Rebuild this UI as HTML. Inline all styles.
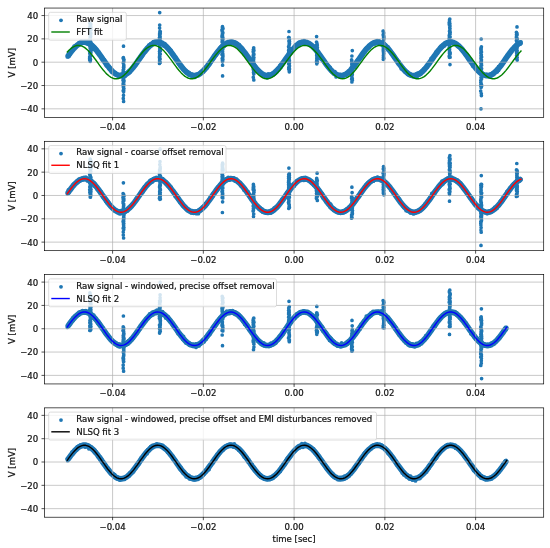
<!DOCTYPE html>
<html><head><meta charset="utf-8"><title>Signal fit</title>
<style>html,body{margin:0;padding:0;background:#fff}svg{display:block;filter:blur(0.3px)}text{stroke:#111;stroke-width:0.22px}</style></head>
<body>
<svg width="550" height="548" viewBox="0 0 550 548" font-family="'DejaVu Sans', 'Liberation Sans', sans-serif" font-size="8.55" fill="#111">
<rect width="550" height="548" fill="#fff"/>
<g>
<path d="M68.3 55.7L69.8 53.6L71.3 51.6L72.8 49.7L74.3 48.0L75.9 46.4L77.4 45.1L78.9 44.0L80.4 43.1L81.9 42.5L83.4 42.2L84.9 42.1L86.4 42.4L87.9 42.9L89.4 43.6L91.0 44.7L92.5 46.0L94.0 47.4L95.5 49.1L97.0 51.0L98.5 53.0L100.0 55.0L101.5 57.2L103.0 59.4L104.6 61.5L106.1 63.7L107.6 65.7L109.1 67.6L110.6 69.4L112.1 71.0L113.6 72.4L115.1 73.6L116.6 74.5L118.2 75.2L119.7 75.6L121.2 75.7L122.7 75.5L124.2 75.1L125.7 74.4L127.2 73.4L128.7 72.2L130.2 70.7L131.7 69.1L133.3 67.3L134.8 65.3L136.3 63.3L137.8 61.1L139.3 59.0L140.8 56.8L142.3 54.7L143.8 52.6L145.3 50.6L146.9 48.8L148.4 47.2L149.9 45.7L151.4 44.5L152.9 43.5L154.4 42.7L155.9 42.3L157.4 42.1L158.9 42.2L160.5 42.6L162.0 43.2L163.5 44.1L165.0 45.3L166.5 46.7L168.0 48.3L169.5 50.1L171.0 52.0L172.5 54.0L174.0 56.1L175.6 58.3L177.1 60.5L178.6 62.6L180.1 64.7L181.6 66.7L183.1 68.6L184.6 70.3L186.1 71.8L187.6 73.0L189.2 74.1L190.7 74.9L192.2 75.4L193.7 75.7L195.2 75.6L196.7 75.3L198.2 74.8L199.7 73.9L201.2 72.8L202.8 71.5L204.3 69.9L205.8 68.2L207.3 66.3L208.8 64.3L210.3 62.2L211.8 60.0L213.3 57.9L214.8 55.7L216.3 53.6L217.9 51.6L219.4 49.7L220.9 47.9L222.4 46.4L223.9 45.0L225.4 43.9L226.9 43.1L228.4 42.5L229.9 42.2L231.5 42.1L233.0 42.4L234.5 42.9L236.0 43.7L237.5 44.7L239.0 46.0L240.5 47.5L242.0 49.2L243.5 51.0L245.1 53.0L246.6 55.1L248.1 57.2L249.6 59.4L251.1 61.6L252.6 63.7L254.1 65.7L255.6 67.7L257.1 69.4L258.6 71.0L260.2 72.4L261.7 73.6L263.2 74.5L264.7 75.2L266.2 75.6L267.7 75.7L269.2 75.5L270.7 75.1L272.2 74.3L273.8 73.4L275.3 72.1L276.8 70.7L278.3 69.0L279.8 67.2L281.3 65.3L282.8 63.2L284.3 61.1L285.8 58.9L287.4 56.7L288.9 54.6L290.4 52.5L291.9 50.6L293.4 48.8L294.9 47.1L296.4 45.7L297.9 44.4L299.4 43.5L300.9 42.7L302.5 42.3L304.0 42.1L305.5 42.2L307.0 42.6L308.5 43.3L310.0 44.2L311.5 45.3L313.0 46.7L314.5 48.3L316.1 50.1L317.6 52.0L319.1 54.1L320.6 56.2L322.1 58.4L323.6 60.5L325.1 62.7L326.6 64.8L328.1 66.7L329.7 68.6L331.2 70.3L332.7 71.8L334.2 73.1L335.7 74.1L337.2 74.9L338.7 75.4L340.2 75.7L341.7 75.6L343.2 75.3L344.8 74.7L346.3 73.9L347.8 72.8L349.3 71.4L350.8 69.9L352.3 68.1L353.8 66.2L355.3 64.2L356.8 62.1L358.4 60.0L359.9 57.8L361.4 55.6L362.9 53.5L364.4 51.5L365.9 49.6L367.4 47.9L368.9 46.4L370.4 45.0L372.0 43.9L373.5 43.1L375.0 42.5L376.5 42.2L378.0 42.1L379.5 42.4L381.0 42.9L382.5 43.7L384.0 44.7L385.5 46.0L387.1 47.5L388.6 49.2L390.1 51.1L391.6 53.1L393.1 55.2L394.6 57.3L396.1 59.5L397.6 61.6L399.1 63.8L400.7 65.8L402.2 67.7L403.7 69.5L405.2 71.1L406.7 72.5L408.2 73.6L409.7 74.6L411.2 75.2L412.7 75.6L414.3 75.7L415.8 75.5L417.3 75.1L418.8 74.3L420.3 73.3L421.8 72.1L423.3 70.7L424.8 69.0L426.3 67.2L427.8 65.2L429.4 63.2L430.9 61.0L432.4 58.9L433.9 56.7L435.4 54.6L436.9 52.5L438.4 50.5L439.9 48.7L441.4 47.1L443.0 45.6L444.5 44.4L446.0 43.4L447.5 42.7L449.0 42.3L450.5 42.1L452.0 42.2L453.5 42.6L455.0 43.3L456.6 44.2L458.1 45.4L459.6 46.8L461.1 48.4L462.6 50.2L464.1 52.1L465.6 54.1L467.1 56.2L468.6 58.4L470.1 60.6L471.7 62.7L473.2 64.8L474.7 66.8L476.2 68.6L477.7 70.3L479.2 71.8L480.7 73.1L482.2 74.1L483.7 74.9L485.3 75.4L486.8 75.7L488.3 75.6L489.8 75.3L491.3 74.7L492.8 73.9L494.3 72.7L495.8 71.4L497.3 69.8L498.9 68.1L500.4 66.2L501.9 64.2L503.4 62.1L504.9 59.9L506.4 57.7L507.9 55.6L509.4 53.5L510.9 51.5L512.4 49.6L514.0 47.9L515.5 46.3L517.0 45.0L518.5 43.9L520.0 43.0" fill="none" stroke="#1f77b4" stroke-width="5.7" stroke-linecap="round" stroke-linejoin="round"/>
<path d="M67.3 57.0h0M68.8 56.5h0M69.0 55.7h0M69.2 53.4h0M69.6 54.6h0M69.7 53.4h0M69.9 53.6h0M70.0 54.2h0M71.0 52.3h0M71.4 51.9h0M71.6 51.6h0M72.6 49.4h0M72.7 49.5h0M73.1 49.9h0M73.1 50.1h0M73.3 48.9h0M73.7 48.8h0M73.8 47.9h0M74.1 46.2h0M74.2 47.6h0M74.2 48.2h0M74.3 48.2h0M75.0 47.9h0M75.3 47.7h0M75.6 47.4h0M75.8 46.8h0M76.5 46.2h0M76.9 44.9h0M77.4 45.4h0M78.7 44.2h0M78.8 44.9h0M79.0 42.6h0M79.3 43.3h0M79.4 42.3h0M80.0 42.7h0M80.5 41.9h0M80.9 43.0h0M81.0 42.3h0M81.1 40.8h0M81.3 43.6h0M82.0 41.6h0M82.1 41.2h0M82.3 42.1h0M82.3 41.8h0M82.4 41.4h0M82.7 42.8h0M82.8 42.0h0M82.9 42.9h0M83.3 42.7h0M83.3 42.7h0M83.3 42.3h0M83.5 42.0h0M84.6 41.8h0M85.0 43.2h0M85.1 40.6h0M85.3 41.3h0M85.3 41.6h0M85.7 42.5h0M86.2 42.4h0M86.5 42.0h0M86.7 42.1h0M87.2 43.9h0M87.4 42.1h0M88.1 40.7h0M88.4 44.5h0M88.5 42.3h0M89.7 43.5h0M89.7 43.9h0M90.0 42.9h0M90.1 45.0h0M90.3 44.1h0M90.3 43.1h0M91.1 44.9h0M91.5 45.4h0M91.9 45.4h0M92.0 45.9h0M93.0 45.3h0M93.0 47.2h0M93.1 45.8h0M93.1 47.6h0M93.2 46.2h0M93.3 46.8h0M94.1 49.5h0M94.2 47.7h0M94.4 48.7h0M95.0 48.9h0M95.0 47.4h0M95.4 49.8h0M95.6 50.1h0M95.9 48.5h0M96.4 50.2h0M96.9 49.7h0M97.2 51.0h0M97.4 52.2h0M97.5 51.7h0M97.6 50.8h0M97.7 51.2h0M97.9 52.2h0M98.0 52.2h0M98.5 53.0h0M98.7 53.6h0M98.8 51.9h0M99.1 53.8h0M99.3 54.9h0M100.5 56.1h0M100.6 55.2h0M100.8 55.6h0M100.8 56.3h0M100.9 56.9h0M101.4 56.9h0M101.5 58.4h0M101.6 58.4h0M101.7 56.9h0M102.2 58.6h0M102.5 58.2h0M102.5 57.6h0M103.6 59.7h0M104.2 61.0h0M104.3 59.5h0M104.5 60.9h0M104.8 62.2h0M105.4 62.1h0M105.4 62.3h0M105.6 63.6h0M105.8 63.2h0M105.8 63.4h0M106.3 65.5h0M106.5 64.4h0M106.6 64.5h0M106.7 64.9h0M106.8 65.9h0M106.8 65.0h0M107.1 65.1h0M108.2 66.4h0M108.8 68.2h0M108.8 66.8h0M109.0 68.4h0M109.0 67.7h0M109.3 66.8h0M109.3 68.5h0M109.6 68.6h0M110.1 68.0h0M111.0 70.1h0M111.1 70.2h0M111.2 69.9h0M111.2 69.3h0M111.4 72.0h0M111.6 71.1h0M112.2 71.9h0M112.8 72.6h0M112.9 72.4h0M113.2 72.7h0M113.3 71.9h0M113.5 73.0h0M113.8 72.4h0M114.1 72.5h0M114.3 73.6h0M115.0 73.4h0M115.5 72.6h0M115.6 73.6h0M115.9 74.6h0M116.6 74.5h0M118.3 75.9h0M118.4 75.1h0M118.7 74.7h0M118.7 76.0h0M119.1 75.6h0M119.2 74.6h0M120.1 76.0h0M120.3 75.5h0M120.7 76.5h0M120.8 76.3h0M121.2 76.1h0M121.3 74.1h0M122.9 75.8h0M123.1 75.8h0M123.2 75.8h0M123.2 75.5h0M123.3 74.9h0M124.0 75.0h0M124.0 73.6h0M124.0 75.0h0M124.0 74.1h0M124.3 74.8h0M124.4 74.5h0M124.5 76.0h0M124.7 75.0h0M124.9 74.8h0M125.1 74.9h0M125.3 76.2h0M125.5 73.8h0M125.8 74.6h0M125.9 74.6h0M125.9 74.5h0M126.1 74.3h0M126.3 73.7h0M126.6 74.8h0M126.8 74.4h0M127.0 73.3h0M127.1 73.4h0M127.3 73.6h0M127.7 73.4h0M128.0 73.4h0M128.1 72.8h0M128.3 71.7h0M128.6 73.1h0M128.9 70.9h0M129.1 71.2h0M129.3 71.9h0M129.4 71.0h0M129.4 72.6h0M129.4 72.8h0M129.8 72.1h0M129.8 71.5h0M129.9 71.3h0M130.2 71.2h0M130.2 70.7h0M130.4 72.1h0M130.6 70.0h0M130.7 71.3h0M131.0 70.5h0M131.3 69.9h0M131.6 70.1h0M131.7 70.2h0M131.9 69.6h0M133.3 67.2h0M133.5 66.5h0M133.7 66.3h0M134.2 66.8h0M134.4 66.4h0M134.7 66.2h0M135.4 64.1h0M135.7 65.6h0M135.8 63.0h0M136.1 63.8h0M136.9 63.0h0M137.3 61.6h0M137.4 61.0h0M137.7 61.0h0M137.8 60.3h0M138.0 60.8h0M138.4 59.4h0M139.6 57.6h0M140.0 58.1h0M140.3 56.4h0M140.3 57.3h0M140.5 57.1h0M140.6 57.8h0M140.9 56.8h0M141.2 55.6h0M142.2 55.8h0M142.3 54.1h0M142.5 54.1h0M142.6 54.1h0M142.6 55.9h0M143.4 53.3h0M145.0 50.6h0M145.1 51.5h0M145.8 50.0h0M145.8 51.8h0M146.1 49.2h0M146.1 50.2h0M147.0 48.0h0M147.2 49.8h0M147.3 47.8h0M147.5 48.2h0M147.6 47.3h0M148.0 48.2h0M148.7 47.3h0M148.7 45.1h0M149.2 46.9h0M150.5 45.7h0M150.6 45.3h0M150.7 45.8h0M150.7 44.1h0M150.8 43.6h0M150.9 45.4h0M150.9 46.1h0M151.0 43.9h0M151.4 43.6h0M151.6 43.7h0M151.9 43.2h0M152.2 44.6h0M152.2 44.0h0M152.4 44.8h0M152.9 44.6h0M152.9 42.8h0M153.1 43.9h0M153.3 41.5h0M153.8 43.0h0M153.9 43.5h0M154.1 42.3h0M154.6 41.3h0M154.6 42.3h0M154.6 43.6h0M155.1 42.2h0M155.5 41.4h0M155.7 42.7h0M155.9 42.9h0M156.0 41.5h0M156.0 42.2h0M156.7 43.0h0M156.8 42.4h0M156.8 42.7h0M157.1 41.9h0M157.1 42.0h0M157.2 41.3h0M157.4 41.6h0M157.8 43.3h0M158.2 41.8h0M158.2 41.4h0M158.3 41.8h0M158.6 41.4h0M158.6 42.6h0M159.1 42.9h0M159.2 41.5h0M159.3 43.1h0M159.4 43.9h0M159.5 41.5h0M160.2 43.0h0M160.3 42.7h0M160.6 43.7h0M161.1 43.8h0M161.6 43.9h0M162.1 43.6h0M162.6 43.3h0M163.7 46.0h0M163.9 43.9h0M164.1 45.5h0M164.3 45.6h0M164.6 44.5h0M164.7 45.1h0M164.8 46.3h0M164.9 43.8h0M165.0 46.0h0M165.5 45.6h0M165.8 45.9h0M166.1 45.3h0M166.7 47.3h0M166.9 46.3h0M167.1 47.9h0M167.7 47.1h0M168.1 49.0h0M169.5 50.3h0M169.5 48.6h0M170.0 50.5h0M170.4 51.0h0M171.1 50.4h0M171.7 52.6h0M172.0 53.8h0M173.3 54.5h0M173.4 56.1h0M173.6 54.6h0M173.7 54.7h0M174.6 57.4h0M174.7 57.5h0M176.0 58.7h0M176.0 58.9h0M177.1 61.3h0M178.1 61.5h0M178.5 64.0h0M178.7 63.1h0M179.0 63.5h0M179.1 63.5h0M179.2 63.2h0M179.3 64.5h0M179.5 63.5h0M179.6 64.2h0M179.9 64.9h0M180.1 65.7h0M180.5 66.2h0M181.2 65.9h0M181.9 67.8h0M182.0 67.1h0M182.0 66.4h0M182.1 66.6h0M182.3 66.4h0M182.3 67.8h0M182.9 69.2h0M183.4 68.1h0M183.5 68.8h0M183.6 68.3h0M183.8 69.3h0M183.9 68.6h0M183.9 68.8h0M184.4 69.5h0M184.5 69.8h0M185.4 70.8h0M185.9 71.3h0M186.0 71.5h0M186.9 71.7h0M187.1 73.0h0M187.5 71.6h0M187.9 73.3h0M187.9 72.5h0M188.0 73.4h0M188.1 73.6h0M188.4 72.1h0M188.7 74.0h0M188.7 74.8h0M189.1 74.6h0M189.5 74.5h0M189.6 72.8h0M189.8 74.3h0M190.3 74.0h0M190.5 75.6h0M191.2 74.8h0M191.7 74.8h0M192.2 74.1h0M192.8 76.1h0M193.4 75.2h0M193.6 75.4h0M193.6 76.4h0M193.7 75.7h0M194.5 75.9h0M194.7 77.4h0M194.9 75.2h0M195.2 75.2h0M195.5 75.9h0M195.7 76.6h0M195.8 74.4h0M196.2 75.3h0M196.4 74.7h0M196.5 74.4h0M197.3 75.5h0M197.7 74.4h0M198.0 75.1h0M198.0 74.9h0M198.5 74.7h0M198.5 74.6h0M198.7 73.7h0M198.8 74.4h0M198.8 74.6h0M199.2 74.5h0M200.0 73.5h0M200.1 74.3h0M200.2 74.0h0M200.2 73.6h0M200.3 73.9h0M200.4 73.6h0M200.4 73.9h0M200.6 71.8h0M201.5 71.6h0M201.8 72.0h0M202.0 72.2h0M202.2 70.3h0M202.4 71.5h0M203.3 71.0h0M203.5 70.5h0M203.6 70.4h0M203.8 69.3h0M204.2 70.0h0M204.2 68.4h0M204.8 70.0h0M204.8 68.8h0M205.2 69.6h0M205.2 67.5h0M205.5 68.7h0M205.8 68.1h0M205.9 67.3h0M206.1 66.8h0M206.3 68.4h0M206.4 67.6h0M206.8 68.0h0M207.7 65.7h0M208.2 65.2h0M208.2 65.3h0M208.4 65.4h0M208.6 64.9h0M209.0 64.6h0M209.2 63.3h0M209.3 62.5h0M209.6 64.6h0M209.7 63.2h0M210.3 62.5h0M210.4 61.7h0M210.5 62.6h0M210.8 61.6h0M210.9 62.1h0M211.0 60.7h0M211.6 60.3h0M211.6 60.5h0M211.7 59.9h0M211.9 60.1h0M212.4 60.3h0M212.5 58.6h0M213.1 57.9h0M213.1 58.2h0M213.4 57.0h0M213.5 56.7h0M213.9 57.9h0M213.9 57.6h0M214.1 55.5h0M214.7 54.9h0M215.3 55.6h0M215.6 55.5h0M215.7 54.9h0M215.8 54.8h0M216.1 55.2h0M216.5 53.4h0M216.8 54.0h0M217.0 53.7h0M217.5 51.3h0M217.7 52.3h0M218.1 51.3h0M218.2 50.6h0M218.4 50.3h0M218.5 51.0h0M218.8 50.3h0M219.3 50.4h0M219.4 48.4h0M219.5 49.0h0M219.6 50.2h0M219.7 49.3h0M220.1 48.3h0M220.6 47.9h0M220.6 46.9h0M220.7 47.2h0M220.7 48.6h0M221.0 47.9h0M221.6 48.2h0M223.3 45.4h0M223.3 45.4h0M223.5 43.4h0M224.0 44.9h0M224.3 46.3h0M224.9 44.8h0M225.3 43.9h0M225.7 44.7h0M226.2 44.1h0M227.3 43.2h0M227.6 42.5h0M227.7 42.8h0M228.2 43.2h0M228.6 41.9h0M229.0 42.7h0M229.9 42.5h0M230.3 43.2h0M231.2 42.7h0M231.5 41.6h0M231.5 43.3h0M231.9 42.2h0M232.1 41.6h0M232.4 42.5h0M232.5 42.1h0M233.2 43.3h0M234.2 41.8h0M234.6 42.1h0M234.7 42.8h0M235.0 44.4h0M235.4 44.1h0M235.5 42.7h0M235.9 42.3h0M236.0 43.4h0M236.2 42.8h0M236.2 44.2h0M236.2 43.9h0M236.5 44.0h0M236.7 43.8h0M237.1 45.5h0M237.3 43.9h0M237.6 43.8h0M238.0 46.0h0M238.2 46.3h0M238.3 45.1h0M238.4 45.9h0M238.9 47.7h0M238.9 45.3h0M239.3 46.1h0M239.4 46.7h0M239.5 44.8h0M239.5 46.3h0M239.9 47.4h0M240.0 46.8h0M240.1 47.9h0M240.4 47.9h0M240.4 47.0h0M241.6 49.0h0M241.6 49.0h0M241.8 47.7h0M242.3 48.9h0M242.5 49.1h0M243.1 50.1h0M243.1 50.1h0M243.1 49.4h0M243.2 50.6h0M243.2 49.2h0M244.2 52.5h0M244.3 52.2h0M244.7 53.6h0M245.2 53.5h0M245.3 53.0h0M245.5 52.5h0M246.1 54.9h0M246.1 54.5h0M246.5 55.3h0M246.6 55.7h0M246.8 56.3h0M247.0 55.7h0M248.0 58.4h0M248.3 57.4h0M248.4 57.7h0M249.9 60.4h0M249.9 60.7h0M250.1 61.2h0M250.1 58.8h0M250.3 61.4h0M250.7 59.9h0M250.8 60.8h0M251.5 62.4h0M251.6 63.1h0M251.6 61.6h0M251.8 61.3h0M252.0 63.6h0M252.2 63.3h0M252.3 62.5h0M252.5 63.2h0M252.9 62.6h0M253.0 64.7h0M253.3 64.3h0M253.8 66.2h0M253.8 63.8h0M254.0 66.1h0M254.1 67.3h0M254.7 66.6h0M255.5 67.7h0M255.6 66.2h0M256.8 69.3h0M257.4 69.7h0M257.8 69.7h0M258.0 69.2h0M258.1 70.6h0M258.3 69.9h0M258.5 70.5h0M258.5 71.2h0M258.9 71.2h0M259.2 71.5h0M259.6 72.6h0M260.9 72.1h0M261.4 74.5h0M261.6 72.7h0M261.6 72.9h0M261.8 73.8h0M262.0 74.4h0M262.4 74.3h0M262.7 73.9h0M263.6 74.2h0M263.7 74.6h0M264.0 74.2h0M264.6 75.6h0M264.8 75.0h0M264.8 76.4h0M265.8 75.0h0M265.9 75.4h0M266.0 75.9h0M267.0 74.8h0M267.0 75.2h0M267.1 77.8h0M267.2 75.7h0M267.4 76.8h0M267.5 74.9h0M268.2 73.8h0M268.5 76.0h0M268.5 75.6h0M269.0 75.8h0M269.1 75.3h0M269.2 75.0h0M269.3 74.5h0M269.8 76.1h0M270.1 74.1h0M270.2 76.0h0M270.3 75.0h0M270.3 74.3h0M270.6 74.6h0M270.6 75.8h0M271.1 75.5h0M272.6 74.5h0M272.7 74.1h0M272.8 73.2h0M272.9 74.9h0M273.4 73.3h0M273.6 73.0h0M273.7 73.0h0M274.1 72.8h0M274.4 71.7h0M274.7 72.2h0M274.8 71.9h0M275.1 71.8h0M275.2 70.9h0M275.5 73.4h0M275.8 70.7h0M275.9 71.7h0M276.0 71.7h0M276.5 71.7h0M277.0 71.8h0M277.3 70.5h0M277.6 70.4h0M277.9 69.1h0M278.0 70.5h0M278.2 68.1h0M278.2 68.9h0M278.3 69.2h0M278.4 69.4h0M278.6 69.2h0M278.6 69.5h0M278.7 69.0h0M278.8 68.4h0M279.0 68.3h0M279.1 69.2h0M279.5 67.8h0M279.6 68.1h0M279.9 67.0h0M279.9 65.7h0M280.2 66.2h0M280.3 66.8h0M280.3 67.8h0M280.9 66.8h0M281.0 66.9h0M281.1 65.0h0M281.4 65.7h0M282.1 64.2h0M282.2 64.5h0M282.4 63.7h0M282.5 62.6h0M283.0 63.5h0M283.5 62.5h0M283.9 62.3h0M284.6 60.0h0M284.7 61.3h0M285.0 61.0h0M287.0 58.3h0M287.5 57.6h0M288.3 55.1h0M288.7 52.8h0M288.8 55.4h0M289.0 53.7h0M289.3 53.9h0M290.0 53.8h0M290.3 52.8h0M290.5 52.6h0M291.0 52.3h0M291.2 50.1h0M291.4 52.7h0M291.7 50.6h0M291.7 50.5h0M291.8 51.1h0M292.7 49.4h0M292.8 48.8h0M293.0 49.2h0M293.5 48.4h0M293.6 48.0h0M294.1 49.5h0M295.3 45.6h0M295.7 44.7h0M295.8 45.5h0M295.8 45.5h0M296.0 47.1h0M296.0 46.1h0M296.1 46.6h0M296.2 46.3h0M296.5 44.9h0M296.5 46.2h0M296.8 45.5h0M297.1 46.5h0M297.2 45.1h0M297.7 44.6h0M297.7 45.1h0M297.7 45.1h0M298.1 42.9h0M298.2 45.2h0M298.2 45.0h0M298.6 44.6h0M299.0 42.8h0M299.1 42.1h0M299.3 43.3h0M299.6 43.9h0M300.0 43.5h0M300.0 42.3h0M300.2 43.7h0M300.6 41.8h0M300.7 41.8h0M300.9 42.7h0M301.2 42.2h0M301.4 42.0h0M301.5 41.4h0M301.6 43.3h0M302.0 41.5h0M302.7 42.5h0M302.7 42.8h0M302.8 42.1h0M303.0 42.3h0M303.0 42.9h0M303.8 43.3h0M303.8 42.8h0M303.8 41.0h0M304.0 40.6h0M304.0 41.6h0M304.4 41.2h0M304.7 42.5h0M304.7 42.2h0M304.9 41.9h0M305.1 43.0h0M305.3 42.9h0M306.4 42.3h0M308.0 43.2h0M309.2 44.5h0M310.3 44.1h0M310.5 44.7h0M310.6 43.8h0M310.6 44.6h0M311.6 45.6h0M311.9 45.5h0M312.1 46.0h0M312.3 46.6h0M312.8 46.8h0M313.1 46.2h0M313.1 46.4h0M313.2 45.9h0M313.4 48.3h0M313.4 47.4h0M314.5 48.6h0M315.0 48.7h0M315.4 49.6h0M315.5 49.9h0M315.8 49.2h0M315.9 49.8h0M316.3 51.3h0M316.5 49.7h0M316.8 50.3h0M316.9 51.5h0M316.9 50.5h0M317.0 51.9h0M317.2 50.7h0M317.6 52.2h0M317.9 53.1h0M318.4 53.4h0M318.4 53.8h0M318.5 53.1h0M319.0 53.8h0M319.5 54.7h0M320.4 56.3h0M320.5 58.8h0M320.6 56.2h0M321.0 58.2h0M321.3 57.0h0M322.3 57.8h0M322.6 58.9h0M322.6 59.4h0M323.0 59.8h0M323.1 59.8h0M323.2 60.3h0M323.4 60.7h0M324.6 62.6h0M324.9 61.5h0M325.3 62.9h0M325.8 62.9h0M325.8 63.8h0M325.8 63.5h0M326.0 64.0h0M326.4 64.1h0M326.9 64.5h0M327.4 65.6h0M327.6 66.5h0M327.9 67.0h0M328.2 65.5h0M328.3 67.2h0M328.7 67.6h0M328.7 66.4h0M329.5 67.6h0M330.0 68.6h0M330.1 69.4h0M330.2 67.4h0M330.2 69.0h0M330.4 69.1h0M330.7 70.0h0M331.1 71.3h0M331.4 71.5h0M331.5 70.4h0M331.7 70.5h0M332.0 71.3h0M332.1 72.1h0M332.1 72.3h0M333.5 72.8h0M333.7 73.8h0M334.7 72.8h0M334.9 72.8h0M335.0 71.5h0M335.1 73.1h0M335.2 74.2h0M335.6 74.7h0M336.1 76.9h0M336.1 74.8h0M336.4 74.7h0M337.1 74.1h0M337.2 74.4h0M338.0 74.8h0M338.7 75.3h0M338.7 74.9h0M338.7 74.3h0M339.5 76.4h0M339.7 76.0h0M340.1 76.7h0M340.5 74.5h0M340.6 74.7h0M340.7 75.1h0M341.2 76.6h0M341.8 75.5h0M341.8 75.8h0M341.9 75.6h0M342.9 75.6h0M343.1 75.0h0M343.2 75.6h0M343.8 74.5h0M343.8 75.0h0M343.9 75.3h0M344.4 75.0h0M344.8 75.1h0M344.8 74.1h0M344.9 74.9h0M345.2 74.3h0M345.7 74.6h0M346.1 75.1h0M347.1 72.6h0M347.3 73.9h0M347.3 72.6h0M347.6 72.6h0M348.2 73.7h0M348.2 73.1h0M348.6 72.5h0M348.7 72.6h0M348.8 72.8h0M349.0 71.1h0M349.5 71.4h0M349.6 70.9h0M349.8 71.2h0M350.0 70.5h0M350.2 71.1h0M350.3 70.4h0M350.9 69.3h0M351.6 69.0h0M352.2 68.7h0M352.3 69.0h0M352.4 67.9h0M352.5 67.7h0M352.6 67.9h0M352.8 68.1h0M352.9 67.0h0M353.0 65.5h0M353.6 66.8h0M353.6 66.3h0M354.0 65.7h0M354.6 67.2h0M355.5 64.0h0M355.5 64.5h0M355.7 62.7h0M355.8 63.8h0M355.9 64.1h0M356.0 63.5h0M356.4 62.7h0M356.7 62.7h0M356.8 62.3h0M357.1 62.8h0M357.5 61.4h0M357.5 60.6h0M357.6 59.6h0M357.8 60.3h0M358.0 60.3h0M358.2 59.3h0M358.4 59.2h0M358.5 58.5h0M359.2 58.0h0M359.3 58.6h0M359.7 57.8h0M359.8 57.7h0M360.9 56.1h0M360.9 56.2h0M361.0 56.7h0M362.3 55.9h0M362.6 54.5h0M363.2 54.7h0M363.3 52.9h0M364.5 51.4h0M365.1 51.9h0M365.3 49.9h0M365.3 49.7h0M365.5 50.1h0M365.6 48.8h0M365.7 48.5h0M365.8 50.6h0M365.9 48.9h0M366.4 48.7h0M366.6 48.5h0M366.9 47.8h0M367.3 48.6h0M367.5 48.2h0M367.7 48.2h0M367.9 48.0h0M367.9 47.5h0M368.2 48.1h0M368.8 47.2h0M368.9 46.0h0M369.3 46.0h0M369.3 45.7h0M369.5 47.3h0M370.5 45.5h0M371.0 45.0h0M371.1 44.5h0M371.2 44.9h0M372.1 43.1h0M372.1 43.8h0M372.1 43.8h0M372.4 43.6h0M372.5 43.0h0M372.7 43.8h0M373.2 42.4h0M374.0 42.5h0M374.1 42.7h0M374.2 42.7h0M374.2 42.3h0M374.2 42.0h0M374.6 41.9h0M374.8 42.3h0M374.9 41.8h0M375.0 42.4h0M375.0 41.5h0M375.1 42.5h0M375.2 44.0h0M375.9 41.2h0M376.0 42.1h0M376.5 43.0h0M376.5 42.3h0M376.5 42.8h0M377.1 40.5h0M377.5 41.7h0M378.3 43.3h0M378.7 41.8h0M378.8 42.5h0M379.2 40.9h0M381.3 43.8h0M381.3 44.7h0M381.7 43.2h0M382.1 43.7h0M382.4 43.9h0M382.7 45.4h0M383.0 43.7h0M383.4 43.0h0M383.6 45.8h0M383.6 43.5h0M383.7 44.9h0M384.2 43.1h0M384.2 44.5h0M384.4 45.1h0M386.0 45.6h0M386.0 46.0h0M386.1 47.0h0M386.2 46.1h0M387.7 48.6h0M387.9 49.7h0M387.9 46.9h0M388.2 49.1h0M388.2 49.3h0M388.4 48.8h0M388.5 50.4h0M388.7 50.4h0M389.2 50.4h0M389.8 51.1h0M390.3 51.3h0M390.5 50.8h0M390.5 52.0h0M390.6 51.4h0M390.7 51.5h0M390.9 53.0h0M391.1 52.2h0M391.7 53.9h0M391.8 52.5h0M391.9 53.2h0M392.1 53.8h0M392.6 55.5h0M393.4 55.4h0M393.4 56.1h0M393.4 55.1h0M393.8 56.3h0M393.9 56.9h0M393.9 55.7h0M394.2 56.1h0M394.4 57.4h0M394.4 56.1h0M394.6 57.4h0M394.7 57.7h0M394.9 57.6h0M395.8 59.6h0M396.2 59.9h0M396.6 60.3h0M396.6 59.1h0M397.3 60.0h0M397.4 61.4h0M397.5 60.3h0M397.6 61.7h0M398.4 62.5h0M398.5 62.2h0M398.9 63.2h0M398.9 61.6h0M399.1 63.5h0M399.8 65.5h0M399.9 63.8h0M400.2 65.5h0M401.1 66.6h0M401.2 68.8h0M401.4 66.0h0M401.4 66.1h0M401.8 66.6h0M402.5 67.4h0M403.2 67.7h0M403.3 69.1h0M403.8 69.0h0M404.3 70.7h0M404.7 70.9h0M405.0 70.1h0M405.2 70.9h0M405.3 72.2h0M405.5 71.1h0M405.5 71.6h0M406.0 72.4h0M406.2 71.7h0M406.8 72.9h0M407.6 74.4h0M407.7 74.1h0M407.7 72.0h0M407.8 74.5h0M407.9 73.3h0M408.2 73.2h0M408.6 73.4h0M408.8 75.0h0M408.9 74.4h0M409.4 74.3h0M409.8 74.0h0M409.9 75.1h0M410.1 75.6h0M410.1 74.0h0M410.5 74.1h0M410.5 74.7h0M410.6 75.4h0M411.0 74.8h0M411.1 75.1h0M411.1 74.5h0M411.1 76.1h0M411.9 75.3h0M412.1 75.6h0M412.2 76.3h0M412.3 75.3h0M412.4 75.5h0M412.5 75.9h0M412.6 75.3h0M413.6 76.7h0M413.8 75.7h0M413.9 75.4h0M414.2 75.5h0M414.5 74.9h0M415.0 76.5h0M415.2 76.7h0M415.6 75.4h0M415.7 75.2h0M415.9 73.9h0M416.2 74.9h0M416.3 76.0h0M416.5 74.7h0M416.9 75.8h0M417.2 76.2h0M417.5 73.0h0M417.5 74.7h0M417.6 74.4h0M418.8 73.9h0M419.2 72.7h0M419.6 73.6h0M419.9 72.7h0M420.4 74.1h0M420.9 73.9h0M421.4 71.4h0M421.8 71.0h0M422.7 70.9h0M423.6 70.2h0M424.1 69.7h0M424.2 70.3h0M424.3 68.4h0M424.4 69.0h0M426.0 67.2h0M426.1 67.2h0M426.2 66.6h0M426.8 66.2h0M426.9 65.9h0M427.1 67.1h0M428.4 64.1h0M428.4 62.8h0M428.9 64.1h0M429.0 63.8h0M429.1 62.8h0M429.2 62.7h0M429.2 62.9h0M429.3 64.5h0M430.0 61.8h0M430.0 63.1h0M430.5 62.2h0M430.7 60.9h0M430.8 61.4h0M431.0 60.2h0M431.1 58.4h0M431.2 60.0h0M431.3 59.8h0M431.5 60.8h0M431.7 60.4h0M431.9 60.4h0M431.9 59.9h0M432.3 59.8h0M432.4 59.4h0M433.0 58.1h0M433.3 58.3h0M433.5 58.4h0M433.6 58.2h0M434.0 56.2h0M434.3 56.0h0M435.0 54.3h0M435.2 54.0h0M435.5 54.6h0M435.8 53.5h0M436.0 54.8h0M436.1 51.9h0M436.9 51.7h0M437.1 52.4h0M437.2 53.0h0M437.2 51.8h0M437.7 52.9h0M437.9 51.8h0M438.0 50.6h0M438.0 51.0h0M438.1 51.3h0M438.2 50.1h0M438.3 51.4h0M438.4 50.4h0M438.4 50.9h0M438.8 50.7h0M439.1 49.3h0M439.9 49.5h0M440.1 47.1h0M440.4 48.6h0M440.7 46.4h0M441.1 48.3h0M441.7 46.3h0M442.0 47.5h0M442.4 47.1h0M442.8 45.7h0M443.0 45.1h0M443.4 46.2h0M443.9 44.0h0M443.9 45.5h0M444.1 44.6h0M444.1 44.4h0M444.2 44.2h0M444.3 45.9h0M445.1 42.7h0M445.7 43.2h0M446.2 43.7h0M447.0 43.7h0M448.3 43.7h0M448.5 43.4h0M449.2 41.8h0M449.8 42.4h0M450.4 43.0h0M450.6 42.5h0M450.7 40.9h0M451.4 42.4h0M451.7 42.6h0M451.8 41.2h0M452.0 41.9h0M452.6 42.3h0M452.8 42.8h0M453.6 43.8h0M453.6 43.5h0M453.7 43.0h0M454.3 43.1h0M454.4 42.7h0M454.5 42.6h0M454.8 43.0h0M456.0 43.7h0M457.3 45.5h0M457.4 46.5h0M457.6 45.4h0M457.7 45.8h0M458.6 46.3h0M458.8 46.2h0M458.8 47.0h0M459.2 47.3h0M459.9 47.2h0M459.9 47.1h0M460.2 47.9h0M460.5 47.3h0M460.7 48.1h0M460.8 48.8h0M461.5 48.8h0M461.6 47.5h0M461.7 49.6h0M461.9 48.5h0M462.2 48.6h0M462.6 49.0h0M462.6 50.8h0M462.8 48.9h0M463.3 50.9h0M463.5 51.4h0M463.6 51.6h0M463.6 51.0h0M463.6 51.4h0M463.9 51.9h0M464.8 52.1h0M465.2 54.1h0M465.3 54.5h0M465.5 53.4h0M465.6 53.6h0M465.7 53.5h0M466.0 55.4h0M466.6 54.7h0M466.7 55.3h0M466.9 54.7h0M467.7 58.1h0M468.3 57.8h0M468.4 58.3h0M468.6 59.5h0M468.7 59.1h0M469.1 58.3h0M469.4 59.8h0M469.5 60.1h0M469.8 59.4h0M470.1 59.7h0M470.3 60.1h0M470.5 61.7h0M470.7 61.4h0M470.7 60.7h0M471.1 62.5h0M471.4 63.0h0M471.8 62.4h0M471.9 61.9h0M472.4 64.7h0M472.7 66.1h0M472.7 65.3h0M472.7 65.0h0M473.1 64.8h0M473.3 64.5h0M474.1 66.1h0M474.1 66.6h0M474.1 65.9h0M474.4 67.1h0M474.5 66.6h0M474.6 67.2h0M475.0 65.2h0M475.7 67.5h0M476.7 69.8h0M476.9 70.2h0M477.4 70.3h0M477.6 71.5h0M478.2 71.4h0M478.5 71.7h0M478.6 70.6h0M479.8 72.7h0M480.3 73.4h0M481.1 74.4h0M481.7 74.7h0M482.1 74.1h0M482.2 74.3h0M482.4 73.4h0M482.5 74.8h0M482.6 73.6h0M482.6 74.2h0M482.7 74.4h0M482.7 75.9h0M483.0 75.6h0M483.4 74.2h0M483.4 73.7h0M483.8 74.8h0M483.9 74.4h0M484.4 75.5h0M484.5 75.5h0M484.5 75.7h0M485.0 74.6h0M485.4 75.2h0M485.5 75.7h0M485.8 75.8h0M485.9 75.2h0M486.0 75.3h0M486.1 76.2h0M486.4 74.4h0M486.4 75.5h0M486.5 75.6h0M487.4 74.6h0M487.6 74.9h0M487.8 75.7h0M487.9 75.3h0M488.3 76.4h0M488.3 76.1h0M489.9 77.0h0M490.2 74.3h0M490.8 76.4h0M491.7 74.0h0M491.8 75.1h0M492.1 75.0h0M492.2 74.4h0M492.3 74.0h0M492.6 73.5h0M492.9 72.5h0M493.0 73.4h0M493.4 72.8h0M493.4 73.9h0M493.4 72.9h0M493.4 73.3h0M493.7 73.6h0M493.9 73.2h0M494.5 72.6h0M495.0 72.0h0M495.5 71.4h0M496.0 71.6h0M496.0 71.8h0M496.2 70.5h0M496.4 72.1h0M497.4 70.3h0M497.4 68.6h0M497.4 71.8h0M497.5 70.2h0M497.8 68.9h0M498.3 69.9h0M498.5 66.6h0M498.6 70.4h0M498.7 67.1h0M498.9 66.9h0M498.9 67.3h0M499.2 67.8h0M499.3 67.2h0M499.4 68.1h0M499.8 66.3h0M499.9 67.6h0M502.1 64.1h0M502.4 62.8h0M502.7 63.8h0M502.7 63.2h0M502.9 62.7h0M502.9 63.8h0M503.2 61.5h0M503.2 62.1h0M503.5 63.1h0M503.6 61.8h0M503.8 62.1h0M503.9 61.9h0M504.0 61.1h0M504.2 61.5h0M504.5 59.8h0M505.2 60.0h0M505.3 58.6h0M505.3 59.3h0M505.5 58.4h0M506.1 58.6h0M506.4 58.2h0M506.4 58.6h0M506.7 56.8h0M507.3 55.8h0M507.3 54.8h0M507.5 55.3h0M508.1 55.1h0M508.5 54.9h0M508.6 54.3h0M509.7 53.1h0M510.9 50.4h0M511.4 50.2h0M511.7 51.1h0M512.1 50.5h0M512.3 48.8h0M512.9 48.9h0M513.6 48.4h0M513.8 47.2h0M513.8 48.3h0M514.8 47.2h0M515.5 46.6h0M515.7 47.5h0M516.0 45.2h0M516.2 46.5h0M516.3 46.0h0M516.4 46.0h0M516.5 44.9h0M516.7 45.3h0M516.7 45.2h0M516.8 46.4h0M516.8 45.2h0M517.1 46.0h0M517.3 44.5h0M517.4 44.4h0M517.6 44.5h0M517.8 42.8h0M518.5 43.5h0M518.9 43.2h0M519.0 43.5h0M519.1 43.7h0M519.5 42.5h0M519.7 42.3h0M520.6 43.8h0M521.0 41.8h0M89.9 23.2h0M90.7 24.0h0M90.7 24.5h0M90.8 24.6h0M90.3 25.4h0M89.9 27.1h0M90.5 27.2h0M90.9 27.3h0M90.0 28.6h0M89.6 29.1h0M89.9 29.3h0M90.9 29.8h0M89.6 30.7h0M89.7 32.1h0M89.7 32.7h0M90.8 33.3h0M90.1 34.2h0M90.6 35.0h0M90.6 34.7h0M90.2 36.0h0M90.6 36.5h0M90.2 37.1h0M90.4 38.0h0M90.0 38.8h0M89.6 39.5h0M90.4 39.8h0M90.0 40.8h0M90.0 42.4h0M90.8 42.0h0M90.1 42.4h0M89.7 43.8h0M90.5 44.6h0M90.4 45.3h0M89.7 45.4h0M90.1 46.8h0M90.5 46.9h0M90.0 47.5h0M91.0 48.4h0M90.7 49.2h0M90.3 50.2h0M90.9 50.9h0M89.6 51.3h0M89.9 52.3h0M90.9 52.7h0M90.3 53.7h0M89.8 53.6h0M90.4 54.2h0M90.6 55.7h0M90.4 55.7h0M89.7 56.7h0M89.7 57.5h0M90.2 58.1h0M89.6 58.8h0M89.7 60.1h0M90.5 59.4h0M90.2 61.3h0M123.4 57.5h0M123.1 58.1h0M123.7 59.6h0M124.0 59.7h0M123.8 61.7h0M123.6 61.8h0M123.4 62.5h0M123.4 63.0h0M123.3 63.1h0M123.8 64.9h0M123.8 65.8h0M123.5 67.3h0M123.9 67.0h0M123.7 69.0h0M123.7 69.1h0M123.3 70.3h0M123.2 70.0h0M123.2 71.8h0M123.9 72.5h0M123.8 73.7h0M123.9 74.4h0M123.8 74.8h0M123.8 76.4h0M123.4 77.1h0M123.8 78.0h0M123.2 79.0h0M123.7 79.8h0M123.0 80.3h0M124.0 80.7h0M123.9 81.5h0M123.2 83.4h0M123.8 84.0h0M123.8 84.6h0M123.0 85.3h0M123.6 86.3h0M123.4 87.2h0M123.6 87.9h0M123.9 88.6h0M123.7 90.5h0M123.2 90.7h0M123.6 91.2h0M123.6 91.8h0M123.5 46.2h0M123.5 95.3h0M123.3 98.4h0M123.6 101.4h0M159.9 31.4h0M160.3 31.5h0M160.3 33.1h0M159.7 33.0h0M159.7 33.7h0M160.1 34.4h0M159.6 34.9h0M159.8 36.0h0M160.1 36.6h0M159.4 37.8h0M160.2 38.2h0M160.1 38.8h0M159.8 39.3h0M159.6 39.5h0M159.9 40.7h0M159.7 41.1h0M160.2 42.5h0M160.0 42.8h0M159.7 44.1h0M160.2 44.5h0M160.0 45.2h0M159.5 45.7h0M159.8 46.4h0M159.9 47.2h0M160.3 48.0h0M159.7 48.1h0M159.8 49.3h0M160.4 50.7h0M159.8 50.4h0M160.2 51.1h0M159.5 51.6h0M159.8 52.1h0M159.6 53.7h0M160.3 54.0h0M160.0 54.8h0M159.6 56.0h0M159.5 56.9h0M159.8 56.4h0M159.5 57.8h0M159.9 58.3h0M160.1 59.0h0M159.7 59.7h0M159.6 60.2h0M159.8 61.5h0M159.6 61.8h0M160.2 62.4h0M159.5 63.4h0M159.7 12.6h0M159.7 25.0h0M159.6 28.0h0M222.5 26.6h0M222.4 27.2h0M222.7 27.8h0M223.0 28.4h0M222.6 29.7h0M222.0 29.8h0M222.0 30.4h0M222.5 31.7h0M222.8 32.5h0M222.9 32.8h0M222.4 32.8h0M222.5 33.8h0M222.5 34.9h0M222.1 35.4h0M222.0 36.7h0M222.5 36.3h0M222.5 37.7h0M222.9 37.9h0M222.2 39.3h0M222.9 39.5h0M222.3 40.6h0M222.5 40.7h0M222.7 41.1h0M222.1 41.9h0M222.9 42.8h0M223.0 43.3h0M223.0 44.8h0M222.0 45.5h0M222.6 45.8h0M222.7 46.0h0M222.9 47.0h0M222.2 47.5h0M222.1 49.0h0M222.8 49.3h0M222.3 50.0h0M222.1 50.4h0M222.1 50.5h0M222.6 51.6h0M222.5 52.2h0M222.7 53.4h0M222.8 54.0h0M222.0 54.4h0M222.9 55.2h0M222.9 56.6h0M222.9 56.4h0M222.8 57.1h0M222.4 58.0h0M222.2 58.5h0M222.9 59.3h0M222.4 60.3h0M222.5 61.4h0M222.7 60.9h0M222.6 65.2h0M222.6 75.9h0M253.7 47.8h0M253.7 48.9h0M253.3 49.8h0M253.9 50.4h0M253.3 51.3h0M253.2 51.8h0M253.7 53.4h0M253.9 54.4h0M253.4 54.3h0M253.4 55.3h0M253.2 55.9h0M253.7 57.2h0M253.9 57.6h0M253.2 58.3h0M253.6 59.0h0M253.6 59.8h0M253.2 60.2h0M253.6 61.6h0M253.4 61.9h0M253.3 63.1h0M254.1 63.7h0M253.2 64.8h0M253.4 65.2h0M253.7 66.3h0M253.5 66.4h0M253.1 67.8h0M254.0 68.2h0M253.3 69.2h0M253.5 69.9h0M254.0 71.0h0M254.1 70.7h0M254.0 72.3h0M253.5 72.4h0M253.8 74.1h0M253.9 73.8h0M253.3 77.3h0M253.8 79.9h0M288.7 37.5h0M288.6 37.6h0M289.1 37.6h0M289.4 39.6h0M289.4 39.7h0M289.1 40.8h0M288.9 41.1h0M289.5 41.7h0M289.2 42.3h0M289.5 43.7h0M289.2 44.4h0M289.2 43.8h0M289.2 44.9h0M288.6 46.5h0M288.8 46.5h0M288.6 46.8h0M289.4 48.0h0M289.5 48.6h0M289.1 49.3h0M288.7 49.9h0M288.6 50.6h0M288.9 51.3h0M288.9 52.2h0M288.7 52.5h0M288.6 53.4h0M289.1 54.1h0M289.3 55.3h0M288.6 55.7h0M288.8 56.2h0M288.8 57.1h0M289.0 57.7h0M289.1 58.7h0M288.9 59.1h0M289.4 60.3h0M288.9 60.8h0M288.8 61.0h0M289.3 61.6h0M289.3 62.7h0M289.4 63.3h0M288.7 63.7h0M288.7 63.9h0M289.0 64.5h0M289.5 65.9h0M289.1 66.8h0M289.1 67.5h0M288.8 67.4h0M289.5 68.9h0M288.7 69.1h0M289.1 70.1h0M289.2 70.8h0M289.3 71.0h0M289.3 71.8h0M289.0 31.5h0M316.5 42.0h0M316.7 42.4h0M317.0 43.4h0M316.7 44.3h0M317.1 44.8h0M317.3 45.0h0M317.0 45.3h0M316.4 46.7h0M317.4 47.5h0M316.6 48.0h0M316.7 48.7h0M316.9 49.3h0M317.0 50.4h0M316.7 50.8h0M316.8 51.6h0M317.0 51.9h0M316.9 52.7h0M316.7 53.6h0M316.8 53.9h0M316.8 54.5h0M316.7 55.5h0M317.0 56.7h0M316.9 57.1h0M316.8 58.2h0M317.1 58.3h0M317.2 58.9h0M317.0 59.2h0M316.7 60.2h0M317.3 61.6h0M316.5 61.9h0M317.2 62.7h0M316.8 63.4h0M316.8 63.8h0M316.6 36.6h0M351.6 59.8h0M351.8 60.5h0M351.7 61.5h0M351.8 61.8h0M352.0 63.1h0M351.8 63.9h0M351.8 64.2h0M352.0 65.2h0M352.2 65.9h0M351.5 67.3h0M352.5 66.8h0M351.9 68.4h0M352.4 68.7h0M351.5 69.9h0M351.6 71.1h0M351.6 71.4h0M352.4 72.4h0M351.9 72.8h0M352.3 74.6h0M352.2 75.0h0M351.6 75.8h0M351.9 75.7h0M351.8 76.6h0M352.0 78.1h0M352.3 78.4h0M351.6 79.2h0M352.4 80.2h0M352.0 80.4h0M351.9 81.9h0M352.3 50.6h0M351.9 56.0h0M383.2 31.2h0M383.1 31.2h0M383.3 31.5h0M383.7 32.9h0M383.5 33.8h0M383.2 34.8h0M383.3 35.4h0M383.7 35.7h0M383.5 36.1h0M383.9 36.7h0M383.6 37.4h0M384.0 37.9h0M383.9 38.8h0M383.6 38.7h0M383.5 40.3h0M383.3 40.9h0M383.4 42.5h0M383.5 42.6h0M383.5 42.8h0M383.3 43.9h0M383.6 43.9h0M383.2 44.8h0M384.0 45.1h0M383.7 46.9h0M383.2 47.3h0M383.4 47.4h0M383.4 48.4h0M383.3 49.5h0M383.6 50.0h0M383.3 50.6h0M383.3 50.9h0M383.8 51.6h0M383.5 52.6h0M383.8 53.6h0M383.6 53.6h0M383.6 54.2h0M383.4 55.7h0M383.5 55.6h0M383.6 57.0h0M383.4 57.4h0M383.9 58.3h0M383.3 59.3h0M449.8 19.1h0M449.5 19.9h0M449.5 21.4h0M449.5 21.7h0M449.2 22.7h0M449.9 23.7h0M449.3 23.8h0M449.4 24.3h0M449.3 24.4h0M450.0 26.1h0M449.7 26.4h0M449.7 27.6h0M449.8 28.2h0M450.0 28.4h0M449.8 30.2h0M449.7 30.6h0M449.5 31.2h0M449.7 31.2h0M450.2 32.2h0M449.8 32.8h0M449.7 33.6h0M450.1 34.0h0M449.3 35.3h0M449.3 35.9h0M450.0 36.6h0M450.1 37.0h0M449.3 38.4h0M449.2 38.7h0M449.2 38.3h0M449.8 39.8h0M449.3 40.7h0M449.8 41.7h0M449.9 42.0h0M449.2 42.7h0M450.1 43.2h0M449.5 44.4h0M449.8 44.7h0M449.6 45.4h0M449.5 46.0h0M449.6 47.2h0M449.2 47.5h0M449.6 47.8h0M449.5 49.3h0M449.6 49.5h0M449.4 50.6h0M449.5 51.3h0M449.9 52.3h0M450.2 52.9h0M449.4 53.0h0M450.1 53.9h0M449.8 54.2h0M449.3 55.9h0M449.2 56.2h0M450.1 57.2h0M449.4 57.3h0M450.0 64.6h0M481.4 46.8h0M480.9 48.3h0M481.2 48.9h0M480.9 49.6h0M481.1 50.6h0M481.0 50.9h0M481.5 52.0h0M480.9 53.1h0M481.2 54.2h0M481.3 54.7h0M481.0 55.7h0M481.6 56.9h0M481.0 58.0h0M481.0 58.6h0M481.4 59.7h0M481.2 59.9h0M481.4 60.9h0M480.9 61.9h0M480.8 62.6h0M481.4 63.4h0M481.1 65.0h0M481.6 65.2h0M480.9 65.9h0M480.9 67.2h0M481.6 68.6h0M481.1 68.8h0M480.8 70.1h0M480.9 70.4h0M481.5 71.3h0M481.0 72.1h0M481.3 73.1h0M481.5 74.7h0M481.3 74.5h0M481.5 76.4h0M481.7 76.3h0M481.0 77.5h0M481.6 78.7h0M481.3 79.5h0M480.9 80.2h0M480.8 80.4h0M481.0 82.0h0M480.8 82.4h0M481.5 84.5h0M481.3 84.4h0M480.7 85.4h0M481.6 85.9h0M481.3 87.0h0M481.1 87.5h0M481.2 39.0h0M480.7 91.0h0M481.3 93.5h0M481.4 95.6h0M481.0 108.8h0M516.4 32.3h0M517.0 33.3h0M517.1 34.7h0M516.5 34.7h0M516.8 35.6h0M516.5 36.5h0M516.4 37.6h0M516.8 37.8h0M516.7 38.5h0M517.3 39.0h0M516.4 40.5h0M517.0 41.0h0M517.1 41.3h0M516.8 41.5h0M516.9 42.4h0M516.6 43.6h0M516.7 43.8h0M516.5 45.1h0M517.3 45.6h0M516.4 46.3h0M516.5 47.1h0M517.1 47.7h0M516.9 47.9h0M516.9 48.8h0M516.7 50.4h0M516.6 49.9h0M517.2 50.8h0M516.5 52.1h0M516.7 52.3h0M517.2 52.8h0M516.7 53.3h0M517.4 54.6h0M516.6 55.5h0M516.9 56.3h0M516.9 56.6h0M516.9 57.6h0M517.2 57.6h0M516.4 58.7h0M516.9 59.1h0M517.2 60.1h0M517.0 26.9h0" fill="none" stroke="#1f77b4" stroke-width="3.7" stroke-linecap="round"/>
<path d="M112.58 8.05V117.40M203.34 8.05V117.40M294.10 8.05V117.40M384.86 8.05V117.40M475.62 8.05V117.40M44.50 15.56H543.70M44.50 38.88H543.70M44.50 62.20H543.70M44.50 85.52H543.70M44.50 108.84H543.70" stroke="#b0b0b0" stroke-width="0.68" fill="none"/>
<path d="M67.3 52.0L69.2 50.1L71.1 48.4L73.0 47.1L74.9 46.1L76.8 45.5L78.7 45.4L80.6 45.7L82.5 46.4L84.4 47.4L86.3 48.9L88.2 50.6L90.1 52.7L92.0 55.0L93.9 57.5L95.8 60.0L97.7 62.7L99.6 65.3L101.5 67.8L103.4 70.2L105.3 72.4L107.2 74.4L109.1 76.0L111.0 77.3L112.9 78.2L114.8 78.7L116.7 78.8L118.6 78.5L120.5 77.7L122.4 76.6L124.2 75.1L126.1 73.3L128.0 71.2L129.9 68.9L131.8 66.4L133.7 63.8L135.6 61.2L137.5 58.6L139.4 56.1L141.3 53.7L143.2 51.5L145.1 49.6L147.0 48.0L148.9 46.8L150.8 45.9L152.7 45.5L154.6 45.4L156.5 45.8L158.4 46.6L160.3 47.8L162.2 49.3L164.1 51.1L166.0 53.3L167.9 55.6L169.8 58.1L171.7 60.7L173.6 63.3L175.5 65.9L177.4 68.5L179.3 70.8L181.2 72.9L183.1 74.8L185.0 76.4L186.9 77.5L188.8 78.4L190.7 78.8L192.6 78.7L194.5 78.3L196.4 77.5L198.3 76.3L200.2 74.7L202.1 72.8L204.0 70.7L205.9 68.3L207.8 65.8L209.7 63.2L211.6 60.5L213.5 57.9L215.4 55.4L217.3 53.1L219.2 51.0L221.1 49.2L223.0 47.7L224.9 46.5L226.8 45.8L228.7 45.4L230.6 45.5L232.5 46.0L234.4 46.9L236.3 48.1L238.1 49.7L240.0 51.7L241.9 53.8L243.8 56.2L245.7 58.8L247.6 61.4L249.5 64.0L251.4 66.6L253.3 69.1L255.2 71.4L257.1 73.4L259.0 75.2L260.9 76.7L262.8 77.8L264.7 78.5L266.6 78.8L268.5 78.7L270.4 78.1L272.3 77.2L274.2 75.9L276.1 74.2L278.0 72.3L279.9 70.1L281.8 67.7L283.7 65.1L285.6 62.5L287.5 59.9L289.4 57.3L291.3 54.8L293.2 52.5L295.1 50.5L297.0 48.8L298.9 47.3L300.8 46.3L302.7 45.6L304.6 45.4L306.5 45.6L308.4 46.2L310.3 47.1L312.2 48.5L314.1 50.2L316.0 52.2L317.9 54.4L319.8 56.9L321.7 59.4L323.6 62.0L325.5 64.7L327.4 67.2L329.3 69.7L331.2 71.9L333.1 73.9L335.0 75.6L336.9 77.0L338.8 78.0L340.7 78.6L342.6 78.8L344.5 78.6L346.4 77.9L348.3 76.9L350.2 75.5L352.0 73.8L353.9 71.7L355.8 69.5L357.7 67.0L359.6 64.4L361.5 61.8L363.4 59.2L365.3 56.6L367.2 54.2L369.1 52.0L371.0 50.0L372.9 48.4L374.8 47.0L376.7 46.1L378.6 45.5L380.5 45.4L382.4 45.7L384.3 46.4L386.2 47.5L388.1 48.9L390.0 50.7L391.9 52.7L393.8 55.0L395.7 57.5L397.6 60.1L399.5 62.7L401.4 65.3L403.3 67.9L405.2 70.3L407.1 72.5L409.0 74.4L410.9 76.0L412.8 77.3L414.7 78.2L416.6 78.7L418.5 78.8L420.4 78.4L422.3 77.7L424.2 76.6L426.1 75.1L428.0 73.3L429.9 71.2L431.8 68.9L433.7 66.4L435.6 63.8L437.5 61.1L439.4 58.5L441.3 56.0L443.2 53.6L445.1 51.5L447.0 49.6L448.9 48.0L450.8 46.8L452.7 45.9L454.6 45.5L456.5 45.4L458.4 45.8L460.3 46.6L462.2 47.8L464.1 49.3L465.9 51.2L467.8 53.3L469.7 55.6L471.6 58.1L473.5 60.8L475.4 63.4L477.3 66.0L479.2 68.5L481.1 70.9L483.0 73.0L484.9 74.8L486.8 76.4L488.7 77.6L490.6 78.4L492.5 78.8L494.4 78.7L496.3 78.3L498.2 77.5L500.1 76.2L502.0 74.7L503.9 72.8L505.8 70.6L507.7 68.2L509.6 65.7L511.5 63.1L513.4 60.5L515.3 57.9L517.2 55.4L519.1 53.1L521.0 51.0" stroke="#008000" stroke-width="1.4" fill="none" stroke-linejoin="round" stroke-linecap="square"/>
<path d="M112.58 117.40v3M203.34 117.40v3M294.10 117.40v3M384.86 117.40v3M475.62 117.40v3M44.50 15.56h-3M44.50 38.88h-3M44.50 62.20h-3M44.50 85.52h-3M44.50 108.84h-3" stroke="#000" stroke-width="0.68" fill="none"/>
<rect x="44.50" y="8.05" width="499.20" height="109.35" fill="none" stroke="#000" stroke-width="0.68"/>
<text x="112.58" y="129.90" text-anchor="middle">−0.04</text>
<text x="203.34" y="129.90" text-anchor="middle">−0.02</text>
<text x="294.10" y="129.90" text-anchor="middle">0.00</text>
<text x="384.86" y="129.90" text-anchor="middle">0.02</text>
<text x="475.62" y="129.90" text-anchor="middle">0.04</text>
<text x="38.20" y="18.96" text-anchor="end">40</text>
<text x="38.20" y="42.28" text-anchor="end">20</text>
<text x="38.20" y="65.60" text-anchor="end">0</text>
<text x="38.20" y="88.92" text-anchor="end">−20</text>
<text x="38.20" y="112.24" text-anchor="end">−40</text>
<text transform="translate(15.1 62.73) rotate(-90)" text-anchor="middle">V [mV]</text>
<rect x="48.70" y="12.30" width="77.60" height="27.9" rx="1.7" fill="#fff" fill-opacity="0.8" stroke="#ccc" stroke-opacity="0.8" stroke-width="0.85"/>
<circle cx="61.0" cy="20.30" r="1.9" fill="#1f77b4"/>
<path d="M51.3 32.00H69.8" stroke="#008000" stroke-width="1.4"/>
<text x="76.3" y="22.20">Raw signal</text>
<text x="76.3" y="35.00">FFT fit</text>
</g>
<g>
<path d="M68.3 192.3L69.8 190.2L71.3 188.2L72.8 186.3L74.3 184.6L75.9 183.0L77.4 181.6L78.9 180.5L80.4 179.7L81.9 179.1L83.4 178.7L84.9 178.7L86.4 178.9L87.9 179.4L89.4 180.2L91.0 181.3L92.5 182.5L94.0 184.0L95.5 185.7L97.0 187.6L98.5 189.5L100.0 191.6L101.5 193.8L103.0 195.9L104.6 198.1L106.1 200.2L107.6 202.3L109.1 204.2L110.6 206.0L112.1 207.6L113.6 209.0L115.1 210.2L116.6 211.1L118.2 211.8L119.7 212.2L121.2 212.3L122.7 212.1L124.2 211.7L125.7 210.9L127.2 210.0L128.7 208.7L130.2 207.3L131.7 205.7L133.3 203.9L134.8 201.9L136.3 199.8L137.8 197.7L139.3 195.5L140.8 193.4L142.3 191.2L143.8 189.2L145.3 187.2L146.9 185.4L148.4 183.7L149.9 182.3L151.4 181.0L152.9 180.1L154.4 179.3L155.9 178.9L157.4 178.7L158.9 178.8L160.5 179.1L162.0 179.8L163.5 180.7L165.0 181.9L166.5 183.3L168.0 184.9L169.5 186.6L171.0 188.6L172.5 190.6L174.0 192.7L175.6 194.9L177.1 197.0L178.6 199.2L180.1 201.3L181.6 203.3L183.1 205.1L184.6 206.8L186.1 208.3L187.6 209.6L189.2 210.7L190.7 211.5L192.2 212.0L193.7 212.2L195.2 212.2L196.7 211.9L198.2 211.3L199.7 210.5L201.2 209.4L202.8 208.0L204.3 206.5L205.8 204.8L207.3 202.9L208.8 200.9L210.3 198.8L211.8 196.6L213.3 194.4L214.8 192.3L216.3 190.2L217.9 188.1L219.4 186.3L220.9 184.5L222.4 183.0L223.9 181.6L225.4 180.5L226.9 179.6L228.4 179.0L229.9 178.7L231.5 178.7L233.0 178.9L234.5 179.4L236.0 180.2L237.5 181.3L239.0 182.6L240.5 184.1L242.0 185.7L243.5 187.6L245.1 189.6L246.6 191.7L248.1 193.8L249.6 196.0L251.1 198.2L252.6 200.3L254.1 202.3L255.6 204.2L257.1 206.0L258.6 207.6L260.2 209.0L261.7 210.2L263.2 211.1L264.7 211.8L266.2 212.2L267.7 212.3L269.2 212.1L270.7 211.6L272.2 210.9L273.8 209.9L275.3 208.7L276.8 207.3L278.3 205.6L279.8 203.8L281.3 201.8L282.8 199.8L284.3 197.7L285.8 195.5L287.4 193.3L288.9 191.2L290.4 189.1L291.9 187.2L293.4 185.3L294.9 183.7L296.4 182.2L297.9 181.0L299.4 180.0L300.9 179.3L302.5 178.8L304.0 178.7L305.5 178.8L307.0 179.2L308.5 179.8L310.0 180.7L311.5 181.9L313.0 183.3L314.5 184.9L316.1 186.7L317.6 188.6L319.1 190.6L320.6 192.8L322.1 194.9L323.6 197.1L325.1 199.2L326.6 201.3L328.1 203.3L329.7 205.2L331.2 206.9L332.7 208.4L334.2 209.6L335.7 210.7L337.2 211.5L338.7 212.0L340.2 212.3L341.7 212.2L343.2 211.9L344.8 211.3L346.3 210.4L347.8 209.3L349.3 208.0L350.8 206.4L352.3 204.7L353.8 202.8L355.3 200.8L356.8 198.7L358.4 196.5L359.9 194.4L361.4 192.2L362.9 190.1L364.4 188.1L365.9 186.2L367.4 184.5L368.9 182.9L370.4 181.6L372.0 180.5L373.5 179.6L375.0 179.0L376.5 178.7L378.0 178.7L379.5 178.9L381.0 179.5L382.5 180.3L384.0 181.3L385.5 182.6L387.1 184.1L388.6 185.8L390.1 187.6L391.6 189.6L393.1 191.7L394.6 193.9L396.1 196.0L397.6 198.2L399.1 200.3L400.7 202.4L402.2 204.3L403.7 206.1L405.2 207.7L406.7 209.0L408.2 210.2L409.7 211.1L411.2 211.8L412.7 212.2L414.3 212.3L415.8 212.1L417.3 211.6L418.8 210.9L420.3 209.9L421.8 208.7L423.3 207.2L424.8 205.6L426.3 203.8L427.8 201.8L429.4 199.7L430.9 197.6L432.4 195.4L433.9 193.3L435.4 191.1L436.9 189.1L438.4 187.1L439.9 185.3L441.4 183.7L443.0 182.2L444.5 181.0L446.0 180.0L447.5 179.3L449.0 178.8L450.5 178.7L452.0 178.8L453.5 179.2L455.0 179.8L456.6 180.8L458.1 181.9L459.6 183.3L461.1 184.9L462.6 186.7L464.1 188.7L465.6 190.7L467.1 192.8L468.6 195.0L470.1 197.2L471.7 199.3L473.2 201.4L474.7 203.4L476.2 205.2L477.7 206.9L479.2 208.4L480.7 209.7L482.2 210.7L483.7 211.5L485.3 212.0L486.8 212.3L488.3 212.2L489.8 211.9L491.3 211.3L492.8 210.4L494.3 209.3L495.8 208.0L497.3 206.4L498.9 204.7L500.4 202.8L501.9 200.8L503.4 198.6L504.9 196.5L506.4 194.3L507.9 192.2L509.4 190.1L510.9 188.0L512.4 186.2L514.0 184.4L515.5 182.9L517.0 181.6L518.5 180.5L520.0 179.6" fill="none" stroke="#1f77b4" stroke-width="5.7" stroke-linecap="round" stroke-linejoin="round"/>
<path d="M67.3 193.8h0M68.1 192.3h0M68.3 192.5h0M68.4 192.2h0M68.4 189.8h0M68.6 192.0h0M68.7 192.5h0M69.1 191.1h0M69.3 191.2h0M69.3 191.1h0M69.4 190.9h0M69.8 189.7h0M70.0 189.8h0M70.3 190.5h0M70.9 188.9h0M71.3 187.9h0M71.3 188.6h0M71.7 186.8h0M72.2 186.5h0M72.3 187.7h0M73.1 185.8h0M73.1 184.4h0M73.4 184.5h0M73.7 185.3h0M74.3 183.9h0M74.4 185.0h0M74.5 185.5h0M74.5 184.0h0M74.8 183.9h0M74.8 183.6h0M75.0 183.9h0M75.9 182.7h0M76.1 183.2h0M76.1 182.4h0M76.7 181.6h0M77.0 182.0h0M77.0 181.3h0M77.8 182.6h0M78.4 181.4h0M78.9 179.4h0M79.0 179.2h0M79.0 180.3h0M79.3 180.3h0M79.5 181.1h0M79.6 179.8h0M80.2 179.2h0M80.7 180.6h0M81.2 178.9h0M82.2 178.6h0M82.3 178.6h0M82.4 179.8h0M82.5 178.5h0M82.8 180.0h0M83.1 177.7h0M83.7 178.6h0M84.0 179.6h0M84.1 177.7h0M84.7 177.8h0M84.9 179.2h0M85.9 177.2h0M86.8 179.8h0M86.8 178.8h0M87.2 178.3h0M87.4 180.9h0M87.7 178.6h0M87.8 179.4h0M87.8 179.4h0M87.8 180.2h0M88.2 179.3h0M88.4 180.5h0M88.5 180.4h0M88.5 180.0h0M88.8 180.7h0M89.1 178.8h0M89.2 181.1h0M89.6 180.9h0M89.9 180.7h0M90.1 180.6h0M90.2 180.1h0M90.9 180.6h0M92.5 182.8h0M93.1 183.4h0M93.4 183.4h0M94.1 183.5h0M94.3 183.8h0M94.5 185.0h0M94.6 186.2h0M94.7 183.2h0M94.9 184.3h0M94.9 184.9h0M95.2 185.1h0M95.2 185.8h0M95.2 186.1h0M95.6 186.1h0M95.8 186.2h0M95.8 186.5h0M96.2 187.6h0M96.4 187.1h0M96.7 186.7h0M96.7 187.6h0M97.0 187.6h0M97.2 189.4h0M97.2 188.0h0M97.3 188.0h0M97.3 188.9h0M97.4 189.3h0M97.7 188.2h0M98.0 189.4h0M98.2 188.7h0M98.3 189.5h0M98.3 188.7h0M98.4 189.6h0M98.4 190.5h0M98.4 189.5h0M98.8 190.1h0M98.8 189.4h0M99.0 190.6h0M99.1 190.6h0M99.1 189.6h0M99.4 189.9h0M99.5 190.3h0M99.7 190.4h0M100.0 191.2h0M100.2 191.3h0M100.3 191.4h0M100.4 191.8h0M100.7 192.6h0M101.0 192.9h0M101.4 191.8h0M101.4 193.6h0M101.6 194.0h0M101.9 194.6h0M102.7 195.4h0M102.8 195.5h0M103.1 196.9h0M103.2 197.6h0M103.2 196.0h0M103.5 197.8h0M103.6 196.6h0M103.8 196.9h0M104.0 196.4h0M104.1 196.2h0M104.1 197.2h0M104.9 199.0h0M105.4 200.2h0M105.6 200.1h0M105.6 199.5h0M105.7 201.3h0M105.9 200.0h0M106.0 200.2h0M106.2 199.9h0M106.2 200.6h0M106.4 200.5h0M106.5 201.4h0M106.9 201.7h0M107.1 202.9h0M107.2 201.6h0M108.1 201.7h0M108.2 202.9h0M108.4 203.1h0M109.0 204.8h0M109.2 203.2h0M109.2 204.9h0M109.4 203.9h0M110.2 205.4h0M110.3 206.3h0M111.6 206.3h0M111.6 207.1h0M112.1 207.4h0M112.1 207.2h0M112.4 207.9h0M113.1 208.8h0M113.6 208.6h0M113.8 209.4h0M113.9 209.1h0M113.9 209.7h0M115.2 211.3h0M116.0 211.3h0M116.1 211.1h0M117.7 211.6h0M117.7 210.7h0M118.1 213.0h0M118.5 211.8h0M119.3 213.7h0M119.3 212.9h0M119.5 212.5h0M119.9 213.9h0M119.9 213.6h0M120.0 212.1h0M120.1 212.2h0M120.3 212.3h0M120.8 212.9h0M120.9 210.7h0M121.3 212.4h0M121.5 212.9h0M121.7 211.0h0M122.2 211.7h0M122.9 212.3h0M123.0 211.1h0M123.0 211.9h0M123.8 211.3h0M124.3 211.4h0M124.4 212.3h0M124.6 210.8h0M125.0 211.2h0M125.2 212.0h0M125.5 211.6h0M125.6 210.3h0M126.2 210.9h0M126.7 210.3h0M126.8 209.8h0M126.9 210.1h0M127.3 211.0h0M127.4 209.3h0M127.8 208.8h0M127.9 208.8h0M128.0 208.1h0M128.4 208.8h0M128.4 208.4h0M128.4 207.8h0M128.6 209.1h0M128.7 207.5h0M128.8 207.4h0M128.8 208.1h0M129.1 207.0h0M130.4 206.5h0M130.6 207.6h0M130.6 206.1h0M130.6 206.6h0M130.9 206.3h0M131.0 206.4h0M131.4 205.1h0M131.5 205.6h0M131.9 206.0h0M132.3 204.6h0M132.8 203.9h0M132.8 204.9h0M133.0 204.5h0M133.9 203.3h0M134.1 203.3h0M134.4 202.2h0M136.2 199.2h0M136.3 198.4h0M136.7 198.4h0M136.9 198.2h0M137.3 197.6h0M137.6 197.0h0M137.8 198.0h0M138.1 196.7h0M138.8 196.0h0M139.1 195.9h0M139.4 195.7h0M139.5 195.7h0M139.8 195.1h0M139.8 195.8h0M140.2 193.8h0M141.3 192.7h0M141.4 192.4h0M141.7 191.8h0M141.7 191.5h0M141.9 192.3h0M142.2 191.5h0M142.3 192.5h0M142.7 192.4h0M142.8 192.0h0M142.9 189.2h0M143.2 191.3h0M143.3 189.5h0M143.4 188.7h0M143.5 190.0h0M143.8 188.0h0M143.9 187.6h0M144.0 188.2h0M144.4 186.7h0M144.6 187.7h0M144.8 188.5h0M144.9 187.4h0M145.1 187.9h0M145.5 188.0h0M145.5 187.9h0M146.4 184.2h0M146.6 186.1h0M146.7 185.6h0M147.2 185.5h0M147.2 184.8h0M147.6 184.7h0M147.7 184.7h0M148.3 184.7h0M148.5 184.6h0M149.3 183.4h0M149.6 182.3h0M149.9 180.7h0M150.8 180.7h0M150.8 180.1h0M151.0 180.9h0M151.1 181.3h0M151.5 182.0h0M152.4 180.4h0M152.6 181.8h0M152.8 180.3h0M153.5 178.5h0M153.8 179.3h0M154.3 178.5h0M155.4 179.3h0M155.5 180.0h0M155.6 179.3h0M155.8 179.2h0M155.9 177.9h0M156.3 177.3h0M157.0 179.2h0M157.5 178.9h0M157.5 178.8h0M158.0 178.9h0M158.5 179.6h0M158.7 178.7h0M158.9 178.5h0M158.9 178.5h0M159.8 179.8h0M159.9 179.1h0M160.4 180.4h0M160.7 178.5h0M160.8 180.0h0M160.9 179.5h0M161.0 179.7h0M161.3 179.9h0M161.4 180.3h0M161.4 180.8h0M161.4 178.2h0M161.6 179.4h0M162.6 179.9h0M162.8 178.7h0M162.8 180.4h0M163.4 180.2h0M163.6 180.7h0M163.7 179.9h0M164.1 180.8h0M164.2 181.0h0M164.3 181.5h0M165.7 182.3h0M166.2 182.1h0M166.4 184.7h0M167.3 184.1h0M167.8 185.0h0M167.9 184.9h0M167.9 186.2h0M168.2 184.5h0M168.7 186.2h0M168.8 185.9h0M169.1 186.5h0M169.2 187.5h0M169.4 186.8h0M170.0 188.6h0M170.1 188.0h0M170.1 187.6h0M170.5 187.8h0M170.9 188.3h0M171.2 188.9h0M171.2 187.2h0M171.3 188.5h0M171.8 190.5h0M172.5 190.9h0M172.5 191.0h0M172.6 190.8h0M173.1 191.7h0M173.1 191.9h0M173.7 190.9h0M173.9 192.5h0M174.0 192.8h0M174.0 192.8h0M174.0 192.8h0M174.2 191.8h0M174.6 193.1h0M174.8 192.9h0M175.2 196.6h0M175.4 194.3h0M175.5 193.9h0M175.7 193.5h0M175.8 195.1h0M175.8 196.4h0M176.0 195.1h0M176.0 196.0h0M176.1 196.9h0M176.1 196.1h0M176.8 195.8h0M176.8 195.7h0M176.9 196.2h0M177.1 197.9h0M177.5 195.7h0M177.7 198.8h0M177.7 198.0h0M177.9 199.3h0M178.0 197.4h0M178.9 199.3h0M179.1 199.2h0M179.3 200.1h0M179.3 200.3h0M179.7 200.5h0M179.8 202.2h0M179.9 200.3h0M180.2 200.7h0M180.3 201.8h0M181.4 203.0h0M181.6 203.0h0M182.1 202.7h0M182.1 203.6h0M182.5 204.4h0M182.6 204.8h0M182.7 205.7h0M183.0 205.4h0M183.1 205.1h0M183.8 206.0h0M184.3 206.4h0M184.6 206.2h0M184.6 206.5h0M184.8 206.7h0M185.0 206.7h0M186.0 208.0h0M186.6 208.7h0M187.2 208.9h0M187.3 210.6h0M187.5 208.5h0M187.6 210.5h0M188.7 209.7h0M188.8 210.4h0M188.8 209.6h0M189.0 210.5h0M189.2 211.3h0M189.2 209.9h0M189.4 210.6h0M189.4 210.7h0M189.5 210.7h0M190.5 210.6h0M191.0 211.0h0M191.2 211.5h0M191.4 212.9h0M192.0 212.2h0M192.4 211.9h0M192.5 210.7h0M192.6 211.8h0M192.6 212.1h0M192.7 211.2h0M192.8 212.2h0M192.9 212.1h0M193.3 212.1h0M193.4 213.3h0M194.0 211.5h0M194.9 211.9h0M194.9 212.4h0M195.0 213.1h0M195.0 212.0h0M195.1 211.1h0M195.6 212.6h0M195.8 212.9h0M195.9 211.8h0M195.9 213.3h0M196.2 213.7h0M196.2 212.3h0M196.5 212.5h0M196.7 212.1h0M196.8 212.3h0M197.2 211.5h0M197.4 211.8h0M197.6 212.0h0M197.8 211.8h0M197.9 211.0h0M197.9 210.7h0M198.0 210.7h0M198.3 210.7h0M198.4 213.7h0M198.7 211.8h0M198.8 211.2h0M198.9 210.7h0M199.8 211.6h0M199.8 209.3h0M199.8 210.1h0M200.1 210.7h0M200.1 210.0h0M200.3 210.3h0M200.4 210.5h0M200.5 209.5h0M200.7 210.1h0M201.3 210.3h0M201.7 209.4h0M201.7 209.0h0M202.0 209.5h0M202.1 207.7h0M202.5 209.1h0M202.9 206.5h0M203.1 207.0h0M203.3 208.2h0M203.6 207.0h0M204.0 205.9h0M204.7 206.2h0M204.9 206.6h0M205.2 205.3h0M205.6 203.4h0M205.7 206.0h0M206.0 204.0h0M206.3 204.0h0M206.3 204.1h0M206.5 204.1h0M206.7 203.9h0M206.8 202.7h0M206.8 202.9h0M206.9 204.0h0M207.2 201.8h0M207.2 203.9h0M208.1 201.3h0M208.4 201.2h0M209.5 198.9h0M209.7 199.2h0M209.8 198.7h0M209.9 199.3h0M210.0 198.4h0M210.0 198.8h0M210.3 197.1h0M210.3 199.2h0M210.7 197.2h0M210.7 197.7h0M211.4 197.1h0M211.9 196.9h0M211.9 196.0h0M212.1 197.2h0M212.2 197.0h0M212.7 194.7h0M212.8 196.4h0M212.8 194.1h0M213.1 194.9h0M213.5 193.9h0M213.8 193.6h0M214.1 192.9h0M214.3 193.2h0M214.6 192.8h0M214.8 192.4h0M215.0 191.3h0M216.2 189.4h0M216.3 189.2h0M216.6 189.5h0M216.7 189.8h0M216.7 190.9h0M216.8 188.9h0M217.4 188.0h0M217.5 188.8h0M217.9 187.5h0M218.0 186.9h0M218.1 187.7h0M218.1 187.0h0M218.3 187.3h0M218.4 188.8h0M218.8 187.3h0M219.1 186.9h0M219.5 185.6h0M219.6 186.6h0M219.7 186.1h0M219.7 186.5h0M219.8 185.7h0M219.8 185.6h0M219.8 184.9h0M219.9 185.0h0M220.1 185.2h0M220.5 184.7h0M221.1 184.2h0M221.2 184.0h0M221.2 182.9h0M221.3 185.9h0M221.5 183.9h0M221.7 183.3h0M221.9 182.6h0M221.9 184.2h0M222.3 182.7h0M223.6 181.2h0M223.8 182.0h0M223.8 183.1h0M224.3 181.5h0M224.7 181.9h0M225.3 180.0h0M225.5 181.0h0M225.7 178.9h0M225.8 180.1h0M225.9 180.8h0M226.1 180.4h0M226.2 180.8h0M227.3 179.1h0M227.5 178.2h0M227.6 179.5h0M227.7 178.6h0M227.9 179.9h0M227.9 178.9h0M228.2 177.3h0M228.4 180.0h0M228.6 178.0h0M229.2 177.9h0M229.4 180.2h0M229.4 179.8h0M229.6 179.4h0M230.6 177.9h0M230.7 178.9h0M230.9 178.7h0M231.6 178.1h0M231.7 178.6h0M232.0 178.5h0M232.2 179.0h0M233.4 178.2h0M233.6 179.6h0M233.9 177.9h0M234.0 179.5h0M234.3 179.9h0M234.6 178.9h0M234.8 179.2h0M235.0 181.1h0M235.1 179.5h0M235.4 180.9h0M235.6 180.6h0M235.8 179.5h0M236.0 180.8h0M236.3 180.1h0M236.3 180.7h0M236.7 179.2h0M236.8 180.8h0M236.8 181.6h0M237.5 182.0h0M237.7 182.0h0M238.1 181.6h0M238.2 181.8h0M238.5 181.3h0M239.1 182.5h0M239.1 182.5h0M239.2 182.4h0M239.3 182.9h0M240.3 183.6h0M240.3 183.2h0M240.9 183.9h0M241.0 184.9h0M241.3 186.2h0M243.2 187.7h0M243.4 187.2h0M244.1 190.2h0M244.3 188.9h0M244.4 188.3h0M244.5 189.2h0M245.0 190.4h0M245.1 188.3h0M246.4 190.4h0M247.1 192.6h0M247.3 191.6h0M247.7 192.3h0M247.9 194.3h0M248.0 191.7h0M248.6 195.2h0M249.1 195.5h0M249.3 196.4h0M249.9 196.3h0M250.0 197.5h0M250.0 196.6h0M250.2 196.0h0M250.3 196.8h0M250.9 198.0h0M250.9 196.7h0M251.0 198.7h0M251.1 197.4h0M251.1 198.3h0M251.2 198.1h0M251.8 199.1h0M252.1 199.4h0M252.1 199.6h0M252.1 200.2h0M252.3 200.3h0M252.7 200.0h0M252.8 200.6h0M252.9 201.6h0M253.1 201.5h0M253.2 201.5h0M253.3 201.3h0M253.4 201.3h0M253.7 201.7h0M253.9 202.6h0M254.1 202.3h0M254.5 203.9h0M254.6 205.1h0M256.5 205.3h0M256.6 206.6h0M256.8 206.3h0M257.0 206.8h0M257.2 205.5h0M257.5 207.3h0M257.6 206.3h0M257.6 206.9h0M257.7 207.6h0M258.6 208.7h0M258.8 207.4h0M259.1 207.7h0M259.6 207.9h0M259.9 207.4h0M260.3 208.9h0M260.5 209.1h0M261.2 209.9h0M261.2 209.8h0M261.4 210.2h0M262.1 211.1h0M262.3 209.1h0M262.5 212.1h0M262.9 210.7h0M262.9 210.6h0M263.2 211.0h0M263.8 212.1h0M264.3 211.8h0M264.4 212.0h0M265.1 212.7h0M265.5 212.0h0M265.5 212.3h0M265.9 212.5h0M266.1 211.6h0M266.2 213.0h0M266.3 211.8h0M266.7 212.7h0M267.0 211.9h0M267.2 212.2h0M267.2 212.1h0M267.3 213.0h0M267.6 212.9h0M267.9 212.9h0M267.9 212.1h0M268.1 211.7h0M269.8 211.2h0M269.8 212.3h0M270.2 211.8h0M270.6 212.9h0M270.9 213.2h0M271.0 212.2h0M271.9 211.6h0M272.1 212.2h0M272.8 211.9h0M273.6 209.6h0M273.8 210.5h0M273.8 211.2h0M274.2 207.8h0M274.5 209.3h0M274.6 209.6h0M274.9 208.5h0M275.4 209.2h0M276.2 206.7h0M277.7 207.4h0M277.8 207.2h0M278.5 205.5h0M278.6 205.8h0M279.4 203.3h0M279.5 205.4h0M279.5 204.7h0M279.5 204.0h0M280.4 202.7h0M280.8 201.8h0M281.1 201.8h0M282.1 199.1h0M282.6 200.5h0M282.6 200.0h0M282.9 199.1h0M283.6 198.9h0M284.4 197.8h0M284.6 197.6h0M284.9 197.4h0M285.1 197.4h0M285.3 196.7h0M285.9 196.6h0M286.0 194.9h0M286.8 195.4h0M286.8 192.6h0M286.9 192.8h0M287.6 192.1h0M287.7 193.0h0M287.8 193.1h0M288.1 191.4h0M288.6 191.5h0M289.0 190.6h0M289.2 191.3h0M289.3 189.8h0M289.5 191.0h0M289.6 190.1h0M289.7 191.4h0M290.0 190.2h0M290.9 188.1h0M291.1 188.5h0M291.8 187.7h0M292.2 186.2h0M292.3 186.7h0M293.3 184.5h0M294.3 186.2h0M294.4 183.8h0M295.3 182.9h0M295.3 184.5h0M295.7 183.9h0M297.0 181.1h0M297.2 182.4h0M298.3 181.3h0M300.1 179.3h0M300.3 179.9h0M300.4 179.2h0M300.5 180.2h0M301.0 179.1h0M302.3 178.1h0M303.2 178.5h0M303.7 180.4h0M303.9 178.2h0M304.1 178.7h0M304.5 179.4h0M304.9 177.7h0M305.4 180.1h0M305.5 177.4h0M305.5 179.3h0M305.9 177.7h0M306.1 179.0h0M306.5 180.0h0M306.5 179.0h0M306.8 178.9h0M306.9 178.8h0M307.1 178.4h0M308.2 180.4h0M308.3 179.4h0M308.3 179.2h0M308.8 180.2h0M309.1 180.9h0M309.1 180.9h0M310.2 180.4h0M310.6 180.6h0M310.8 181.9h0M311.3 182.7h0M311.8 181.2h0M311.9 183.4h0M312.3 182.5h0M313.0 183.9h0M313.5 185.1h0M313.6 183.9h0M313.7 184.2h0M313.8 183.0h0M313.9 182.6h0M314.0 184.5h0M314.1 183.7h0M315.2 184.9h0M315.2 186.1h0M315.6 186.9h0M315.8 185.2h0M315.8 186.7h0M316.1 186.8h0M316.3 187.3h0M316.8 187.7h0M317.8 189.3h0M318.9 189.8h0M319.2 189.9h0M319.4 191.4h0M319.8 192.7h0M320.0 191.9h0M320.4 193.6h0M321.4 194.4h0M321.5 193.2h0M322.3 193.5h0M322.8 195.7h0M322.9 196.9h0M323.2 195.9h0M323.2 198.2h0M323.3 197.3h0M323.7 196.1h0M323.9 197.0h0M323.9 198.6h0M324.4 199.5h0M324.5 197.8h0M324.8 198.8h0M325.1 199.7h0M325.4 199.3h0M325.5 200.2h0M325.9 201.8h0M326.1 200.0h0M326.1 201.2h0M326.8 202.3h0M326.8 202.6h0M327.2 201.9h0M327.2 202.7h0M327.4 201.9h0M328.7 204.3h0M328.8 203.3h0M329.4 205.2h0M329.9 206.0h0M330.2 207.4h0M330.2 206.7h0M330.5 205.7h0M330.7 204.1h0M331.3 208.0h0M331.8 208.3h0M332.1 207.6h0M332.1 207.5h0M332.2 208.5h0M332.8 208.5h0M333.7 210.5h0M333.8 209.6h0M334.4 209.2h0M334.5 208.7h0M334.8 210.3h0M335.4 210.8h0M336.0 210.5h0M336.0 210.1h0M336.8 211.0h0M336.8 211.9h0M337.5 211.4h0M338.2 211.2h0M338.3 212.5h0M338.7 213.0h0M338.9 211.7h0M339.2 211.9h0M339.5 211.5h0M339.6 212.2h0M340.2 212.8h0M340.6 212.6h0M340.9 213.1h0M341.1 213.0h0M341.5 212.7h0M342.3 212.5h0M343.5 211.0h0M343.7 212.7h0M344.2 211.6h0M345.0 211.7h0M345.3 210.0h0M345.3 210.9h0M345.6 211.2h0M345.8 210.1h0M346.0 210.6h0M346.2 210.9h0M346.7 209.0h0M346.7 209.6h0M346.9 208.8h0M347.2 209.0h0M347.7 208.9h0M348.6 208.6h0M348.8 209.3h0M349.1 207.7h0M349.3 208.0h0M349.7 207.1h0M350.1 207.3h0M350.3 207.5h0M350.5 207.5h0M350.7 206.0h0M351.0 205.3h0M351.2 206.2h0M351.3 205.6h0M351.4 204.7h0M351.7 206.1h0M351.9 205.5h0M352.4 205.5h0M352.4 203.7h0M352.9 203.8h0M353.5 203.7h0M353.7 204.3h0M354.1 202.6h0M354.3 201.5h0M354.3 202.4h0M354.5 202.2h0M355.1 200.7h0M355.2 201.9h0M355.2 200.9h0M355.3 200.5h0M355.7 200.9h0M356.2 200.2h0M357.8 197.2h0M357.9 197.3h0M357.9 197.4h0M358.2 196.6h0M358.3 196.5h0M359.2 196.1h0M359.3 195.6h0M359.4 194.7h0M359.6 193.9h0M360.1 193.0h0M360.2 194.5h0M360.4 192.8h0M360.4 193.0h0M360.5 193.6h0M360.6 192.9h0M360.8 192.4h0M360.9 191.6h0M361.0 193.5h0M361.2 192.0h0M361.2 192.5h0M361.4 192.3h0M361.9 190.7h0M361.9 190.9h0M362.0 192.2h0M362.2 191.3h0M363.4 189.3h0M363.4 190.5h0M363.6 188.5h0M364.7 187.7h0M364.7 187.5h0M365.2 186.9h0M366.2 184.5h0M366.7 185.3h0M367.4 184.8h0M367.4 183.2h0M367.6 184.7h0M368.1 184.2h0M368.7 184.2h0M368.9 182.1h0M369.0 182.7h0M369.8 181.8h0M370.2 181.7h0M370.3 181.9h0M370.3 182.3h0M370.9 181.8h0M371.4 180.6h0M371.4 180.8h0M371.7 179.5h0M371.9 181.1h0M372.0 180.8h0M372.1 181.1h0M372.4 179.2h0M372.4 181.1h0M372.9 179.3h0M373.0 178.8h0M373.0 180.0h0M373.2 179.2h0M373.5 181.2h0M373.7 179.8h0M374.0 180.6h0M374.3 179.2h0M374.8 179.1h0M375.0 179.6h0M375.7 178.2h0M376.0 178.5h0M376.6 179.1h0M377.1 179.1h0M377.1 179.8h0M377.4 178.8h0M377.6 177.1h0M377.7 179.2h0M378.4 178.4h0M378.6 179.2h0M379.1 178.3h0M379.4 178.6h0M379.7 179.2h0M380.1 180.4h0M380.1 179.5h0M380.4 178.3h0M380.9 179.6h0M381.0 179.0h0M381.2 179.9h0M381.2 180.9h0M381.4 179.3h0M381.4 179.4h0M381.9 180.4h0M382.0 180.3h0M382.4 180.0h0M382.4 180.6h0M383.1 180.4h0M383.6 181.1h0M383.9 183.0h0M384.0 181.4h0M384.2 181.9h0M384.4 182.3h0M385.3 182.1h0M385.8 183.2h0M385.9 182.5h0M386.5 182.7h0M386.7 183.6h0M386.8 185.0h0M387.0 184.6h0M387.5 183.9h0M387.6 184.9h0M387.7 185.5h0M387.9 185.1h0M387.9 184.7h0M388.3 185.3h0M388.8 185.6h0M389.1 187.0h0M389.2 186.8h0M389.7 187.4h0M390.7 188.5h0M390.8 190.2h0M390.9 188.9h0M391.0 189.8h0M394.0 192.0h0M394.1 192.0h0M394.6 192.7h0M395.0 193.9h0M395.5 195.6h0M396.0 195.1h0M396.3 196.5h0M396.9 196.7h0M397.7 199.0h0M397.9 199.1h0M398.6 199.3h0M398.9 198.7h0M399.0 200.1h0M399.3 198.9h0M399.5 198.8h0M399.6 201.8h0M399.9 201.4h0M400.6 203.0h0M400.6 202.4h0M400.8 203.0h0M400.9 202.8h0M400.9 202.0h0M401.5 202.7h0M401.6 203.4h0M401.8 203.8h0M401.9 203.9h0M402.4 204.5h0M402.6 204.5h0M402.9 205.1h0M402.9 204.9h0M403.6 207.0h0M404.1 206.0h0M404.8 206.0h0M405.4 207.7h0M405.6 209.1h0M405.6 207.1h0M405.9 208.6h0M406.1 210.7h0M406.2 208.8h0M406.6 208.6h0M407.0 209.0h0M407.0 208.4h0M407.0 208.9h0M407.0 209.2h0M407.4 211.1h0M407.5 210.6h0M407.9 209.9h0M408.3 209.8h0M409.1 211.6h0M409.6 211.5h0M409.9 210.9h0M410.4 212.9h0M410.9 213.1h0M411.0 211.9h0M411.7 211.7h0M412.5 212.5h0M413.4 214.0h0M413.7 212.3h0M414.9 213.2h0M414.9 211.8h0M415.0 212.3h0M415.3 212.0h0M415.5 211.7h0M415.8 212.5h0M415.8 211.5h0M416.0 211.1h0M416.7 211.5h0M416.9 210.8h0M417.2 212.1h0M417.9 210.7h0M418.0 211.1h0M418.1 212.0h0M418.4 211.2h0M418.6 211.4h0M418.7 211.3h0M418.8 210.8h0M418.9 210.1h0M419.0 211.0h0M420.0 210.1h0M420.0 211.2h0M420.2 209.9h0M420.6 208.9h0M421.6 208.2h0M421.7 208.4h0M421.7 209.2h0M422.9 208.4h0M423.0 207.6h0M423.7 207.8h0M423.7 207.7h0M424.0 205.9h0M424.1 207.1h0M424.8 204.2h0M425.1 206.3h0M425.6 204.3h0M425.8 205.3h0M425.9 204.2h0M425.9 205.0h0M426.0 204.1h0M426.1 204.2h0M426.5 203.9h0M427.1 202.4h0M427.3 201.4h0M428.0 202.1h0M428.0 201.0h0M428.1 201.4h0M429.1 200.2h0M429.5 197.9h0M430.6 199.6h0M431.2 197.6h0M431.3 198.3h0M431.4 197.0h0M431.5 196.9h0M431.8 193.4h0M432.3 195.3h0M432.4 194.1h0M434.0 192.2h0M434.2 193.2h0M434.3 192.3h0M434.5 191.1h0M434.8 191.8h0M434.8 191.8h0M434.9 191.4h0M435.1 192.7h0M435.3 191.9h0M435.8 190.3h0M436.6 189.1h0M436.9 189.8h0M437.1 189.1h0M438.0 187.8h0M438.1 187.7h0M438.6 186.4h0M439.0 186.4h0M439.1 186.1h0M439.2 187.2h0M439.4 186.7h0M439.5 185.5h0M440.2 186.2h0M440.3 184.6h0M440.4 185.3h0M440.8 185.0h0M440.9 183.8h0M441.0 184.7h0M441.3 184.4h0M441.4 184.2h0M441.5 183.6h0M442.0 181.1h0M442.0 184.7h0M442.4 182.7h0M442.5 182.8h0M442.8 181.6h0M442.9 182.6h0M443.0 184.0h0M443.5 180.8h0M444.0 182.2h0M444.1 181.3h0M444.6 181.9h0M444.8 181.6h0M445.0 181.0h0M445.3 179.8h0M445.5 179.7h0M445.5 180.7h0M445.6 179.9h0M445.8 180.4h0M446.5 179.7h0M446.5 179.6h0M446.7 179.2h0M447.0 180.0h0M447.0 179.6h0M447.4 179.2h0M447.6 179.2h0M447.8 179.8h0M448.0 177.8h0M448.9 179.2h0M449.0 178.3h0M449.3 178.6h0M449.4 177.9h0M449.5 180.4h0M449.6 177.2h0M449.7 178.9h0M449.7 179.7h0M450.0 178.6h0M450.1 177.0h0M450.3 178.3h0M450.6 179.6h0M450.6 179.0h0M450.9 177.7h0M451.0 179.7h0M451.3 178.9h0M451.4 178.9h0M451.8 177.2h0M452.1 179.0h0M452.2 177.9h0M452.3 179.4h0M452.3 179.5h0M452.4 178.1h0M452.5 178.4h0M453.0 180.3h0M453.1 178.6h0M453.7 178.8h0M454.0 179.8h0M454.8 179.6h0M454.9 179.6h0M454.9 180.1h0M454.9 180.2h0M455.2 180.4h0M456.1 180.7h0M456.1 181.5h0M456.5 180.8h0M456.5 181.9h0M456.6 180.7h0M456.8 181.0h0M456.9 181.8h0M456.9 180.4h0M457.2 179.9h0M457.3 180.3h0M457.3 182.4h0M457.5 180.5h0M457.6 181.4h0M457.8 181.8h0M458.2 182.6h0M458.4 182.3h0M458.6 181.4h0M459.3 182.7h0M459.5 183.6h0M459.6 183.9h0M459.8 183.9h0M460.6 184.0h0M460.8 183.2h0M461.1 185.8h0M461.2 185.2h0M461.8 186.0h0M462.6 187.3h0M462.7 186.6h0M462.7 186.5h0M462.9 188.2h0M463.1 188.2h0M463.4 186.8h0M463.6 187.8h0M463.7 187.8h0M464.3 189.3h0M464.8 189.8h0M464.9 189.4h0M465.0 190.3h0M465.1 190.8h0M465.5 190.5h0M465.5 189.9h0M465.7 191.6h0M466.3 190.9h0M466.4 191.3h0M466.5 192.6h0M466.6 192.1h0M466.8 192.5h0M467.2 192.4h0M468.3 194.0h0M468.6 196.0h0M468.7 196.1h0M468.7 194.4h0M468.8 195.2h0M469.0 195.3h0M469.2 195.5h0M469.3 194.8h0M469.6 197.3h0M469.7 195.8h0M470.1 197.8h0M471.2 198.1h0M471.3 197.8h0M472.2 201.1h0M472.2 199.7h0M472.3 200.5h0M473.1 201.5h0M473.2 201.4h0M473.8 203.1h0M473.9 203.1h0M474.0 202.1h0M474.3 202.3h0M474.3 203.4h0M474.8 204.7h0M474.9 202.0h0M475.1 203.1h0M475.3 203.8h0M475.3 204.9h0M475.9 205.3h0M475.9 204.7h0M476.3 206.1h0M476.9 204.8h0M476.9 205.9h0M477.3 206.3h0M477.9 207.9h0M478.7 208.6h0M478.8 208.6h0M478.8 207.8h0M479.1 208.6h0M479.3 208.8h0M479.4 208.3h0M479.4 208.5h0M479.9 207.9h0M479.9 209.2h0M480.3 210.1h0M481.1 210.0h0M481.5 209.2h0M481.9 210.9h0M482.0 210.6h0M482.2 211.0h0M482.4 210.6h0M483.2 211.1h0M483.3 211.9h0M483.7 211.7h0M484.1 211.0h0M484.1 210.9h0M485.6 211.4h0M485.6 211.5h0M485.9 212.4h0M486.0 212.5h0M486.2 211.5h0M487.0 213.2h0M487.0 212.3h0M487.2 213.7h0M487.9 212.6h0M488.4 212.7h0M488.4 213.1h0M488.5 211.8h0M488.5 212.7h0M488.9 212.4h0M489.2 212.2h0M489.6 212.5h0M489.7 210.9h0M490.3 212.1h0M490.4 211.6h0M490.7 212.5h0M491.3 211.7h0M491.4 211.5h0M491.6 211.4h0M491.9 211.4h0M492.1 210.8h0M493.6 208.8h0M494.0 209.7h0M494.1 209.6h0M494.1 209.8h0M494.5 207.3h0M495.0 207.5h0M495.1 208.2h0M495.2 208.0h0M495.5 208.8h0M495.9 208.0h0M496.0 207.7h0M496.1 207.7h0M496.1 208.3h0M496.6 207.8h0M496.8 206.6h0M497.0 206.5h0M497.1 208.2h0M497.3 206.4h0M497.4 205.4h0M497.6 206.6h0M498.4 205.0h0M498.9 205.7h0M499.2 203.7h0M499.2 205.1h0M499.4 205.0h0M499.6 204.1h0M500.4 201.0h0M501.2 202.2h0M501.8 201.9h0M502.1 200.2h0M502.4 199.9h0M502.8 198.3h0M502.9 200.3h0M503.5 199.6h0M503.6 198.6h0M503.9 197.6h0M504.1 197.4h0M504.1 196.9h0M504.5 198.2h0M504.9 197.1h0M505.7 195.4h0M505.9 194.4h0M506.2 194.3h0M506.2 194.9h0M506.6 194.8h0M506.8 193.2h0M507.0 192.8h0M507.0 191.4h0M507.1 193.5h0M507.4 191.7h0M507.8 193.2h0M507.8 192.7h0M508.1 192.5h0M508.3 191.9h0M509.0 191.4h0M509.0 191.1h0M509.1 190.5h0M509.5 190.3h0M509.8 189.1h0M509.9 189.4h0M510.1 189.1h0M510.3 187.8h0M511.3 187.4h0M511.3 187.5h0M511.4 187.5h0M512.1 186.6h0M512.3 186.0h0M512.4 186.8h0M512.5 185.3h0M513.6 183.7h0M513.7 183.9h0M513.7 185.1h0M513.9 185.7h0M514.0 184.7h0M514.7 183.5h0M515.1 182.6h0M515.2 183.3h0M515.4 183.2h0M517.1 180.4h0M517.1 182.0h0M517.7 180.2h0M517.9 180.2h0M518.3 181.6h0M518.3 180.4h0M519.1 180.5h0M519.2 180.7h0M519.6 181.2h0M519.7 180.9h0M520.5 179.1h0M520.5 179.7h0M521.0 179.0h0M90.2 159.2h0M90.2 160.1h0M90.7 160.8h0M91.0 161.1h0M90.8 161.8h0M90.7 163.2h0M90.2 163.8h0M90.6 164.1h0M89.9 165.1h0M90.0 166.0h0M89.9 167.1h0M90.6 166.9h0M90.9 168.1h0M90.7 169.3h0M90.0 169.3h0M90.5 170.4h0M90.1 169.7h0M90.8 171.8h0M90.3 172.0h0M89.9 172.0h0M90.0 173.6h0M89.7 174.4h0M90.1 175.2h0M90.1 175.9h0M90.2 176.1h0M90.5 176.6h0M90.9 177.4h0M90.7 178.2h0M90.4 179.0h0M90.1 179.4h0M89.8 180.3h0M90.4 181.3h0M89.7 181.8h0M89.7 183.1h0M90.5 183.8h0M89.8 183.3h0M90.8 184.2h0M90.5 184.7h0M90.3 185.4h0M90.9 186.7h0M89.8 186.9h0M90.0 187.5h0M90.3 188.5h0M91.0 189.5h0M89.7 189.8h0M90.4 190.5h0M90.9 191.7h0M89.8 192.2h0M90.6 192.9h0M90.6 193.7h0M90.1 193.8h0M90.3 194.9h0M90.9 195.3h0M90.3 196.5h0M90.2 197.1h0M90.4 197.2h0M123.1 193.6h0M123.6 194.3h0M123.1 195.8h0M124.0 195.9h0M123.0 197.6h0M123.3 198.4h0M123.2 199.1h0M123.9 199.0h0M123.8 200.4h0M123.1 201.7h0M123.1 201.8h0M123.1 203.1h0M123.7 204.0h0M123.7 205.2h0M123.6 205.8h0M123.5 206.7h0M123.5 207.3h0M123.6 208.3h0M123.1 209.1h0M123.8 210.3h0M123.8 210.8h0M123.7 212.1h0M123.2 212.0h0M123.2 213.9h0M124.0 214.2h0M123.9 215.6h0M123.7 216.0h0M123.8 217.2h0M123.5 218.2h0M123.9 218.4h0M123.7 219.5h0M123.4 220.2h0M123.7 221.2h0M123.1 221.5h0M123.4 222.8h0M123.8 223.6h0M123.5 224.3h0M123.6 225.4h0M123.6 225.8h0M123.9 227.6h0M123.2 228.2h0M123.7 229.5h0M123.4 182.8h0M123.3 231.9h0M123.3 235.0h0M123.6 238.0h0M160.2 167.0h0M160.1 167.9h0M160.2 168.7h0M160.1 169.7h0M159.6 169.9h0M160.1 171.4h0M159.6 171.6h0M159.5 172.3h0M159.9 173.0h0M159.6 173.6h0M159.5 174.2h0M160.0 175.6h0M160.4 176.0h0M159.5 176.6h0M159.8 177.6h0M159.5 177.7h0M159.9 178.9h0M160.0 179.4h0M159.9 179.8h0M159.4 181.0h0M160.1 180.9h0M159.9 182.4h0M160.0 182.5h0M160.1 183.7h0M160.3 184.7h0M159.8 185.1h0M160.3 185.4h0M159.6 186.3h0M159.9 186.9h0M159.6 187.3h0M159.8 188.0h0M160.3 189.1h0M160.4 190.0h0M159.9 189.9h0M159.7 191.2h0M159.7 192.1h0M160.3 192.6h0M159.8 192.9h0M159.6 194.3h0M160.2 194.3h0M159.9 195.6h0M159.8 196.6h0M160.3 196.1h0M160.1 197.5h0M159.4 198.3h0M160.4 198.9h0M159.9 199.3h0M160.1 149.2h0M160.0 161.6h0M159.8 164.6h0M222.6 163.2h0M222.8 163.8h0M222.3 164.6h0M222.8 164.6h0M222.3 165.5h0M222.3 166.7h0M222.7 167.1h0M222.4 168.0h0M223.0 169.2h0M222.3 169.1h0M222.2 170.0h0M222.9 170.4h0M222.9 171.1h0M222.2 171.9h0M222.3 172.1h0M222.5 172.6h0M222.1 174.5h0M222.4 174.7h0M222.8 175.8h0M222.8 176.1h0M222.1 176.8h0M222.3 177.7h0M222.3 178.4h0M222.7 178.4h0M222.1 179.9h0M223.0 179.9h0M222.1 180.9h0M222.5 182.4h0M222.7 182.3h0M222.9 183.5h0M222.6 183.5h0M222.9 184.5h0M222.5 185.0h0M222.2 185.8h0M222.4 186.1h0M222.6 186.7h0M222.5 187.9h0M222.8 187.9h0M222.5 188.8h0M222.4 190.0h0M222.5 190.3h0M222.5 190.9h0M222.0 191.5h0M222.3 192.6h0M222.6 193.1h0M222.7 194.0h0M222.4 194.5h0M222.7 195.9h0M222.5 195.8h0M222.4 196.0h0M222.2 197.4h0M222.8 198.0h0M222.6 201.8h0M222.4 212.5h0M253.4 184.4h0M253.5 185.4h0M253.4 186.3h0M253.8 186.8h0M253.2 187.9h0M253.7 188.8h0M253.2 189.6h0M253.7 189.8h0M254.1 190.2h0M253.9 191.7h0M254.0 192.3h0M253.6 193.4h0M253.3 194.6h0M253.5 195.3h0M253.9 195.7h0M253.2 196.7h0M253.8 197.7h0M253.4 197.9h0M254.0 198.8h0M253.5 199.7h0M253.4 200.2h0M253.4 200.8h0M253.6 201.5h0M254.1 202.5h0M253.6 203.1h0M253.8 204.3h0M253.6 204.7h0M253.2 206.1h0M253.7 206.8h0M253.7 206.8h0M253.7 208.3h0M253.4 208.6h0M253.4 210.0h0M253.4 210.4h0M253.1 211.0h0M253.7 213.9h0M253.5 216.5h0M289.3 173.5h0M288.7 174.5h0M289.4 175.2h0M289.1 175.6h0M288.9 176.0h0M288.6 176.7h0M289.4 177.5h0M288.6 178.6h0M289.3 179.2h0M289.0 179.8h0M289.0 180.9h0M288.6 181.0h0M288.9 181.7h0M288.5 182.4h0M289.3 183.8h0M289.2 183.2h0M288.6 184.6h0M289.0 185.4h0M288.7 185.9h0M289.2 187.4h0M288.7 187.7h0M288.7 188.2h0M288.8 188.4h0M289.5 189.5h0M289.3 189.9h0M288.9 190.7h0M289.3 191.5h0M288.9 191.9h0M288.7 193.0h0M289.4 194.0h0M288.5 194.5h0M289.3 194.9h0M289.5 194.9h0M288.6 196.6h0M289.4 197.3h0M289.3 197.5h0M288.5 198.1h0M288.9 199.2h0M288.8 199.4h0M288.9 200.6h0M288.9 200.7h0M288.9 201.4h0M288.5 202.4h0M288.8 202.6h0M288.8 203.8h0M289.1 204.6h0M289.2 204.7h0M289.3 206.1h0M289.1 206.3h0M289.4 207.4h0M289.1 207.9h0M288.8 208.4h0M288.9 168.1h0M316.7 178.3h0M317.0 179.4h0M316.6 179.8h0M317.3 180.6h0M316.9 181.4h0M317.1 181.5h0M316.6 182.8h0M316.9 183.1h0M317.1 183.9h0M316.8 184.7h0M316.5 185.6h0M316.9 186.3h0M317.2 187.3h0M316.9 187.5h0M317.4 188.0h0M317.0 188.6h0M317.3 189.7h0M316.4 190.7h0M317.0 190.9h0M316.9 191.3h0M316.8 192.3h0M317.3 193.0h0M316.5 193.6h0M316.9 194.0h0M316.7 194.1h0M317.4 195.4h0M317.2 196.6h0M316.6 197.0h0M316.5 196.9h0M316.4 198.3h0M316.6 198.4h0M317.3 200.3h0M317.3 200.4h0M317.1 173.2h0M351.6 196.5h0M351.5 198.1h0M352.3 197.8h0M352.0 199.1h0M352.0 199.7h0M351.9 200.2h0M352.5 201.6h0M351.9 202.0h0M352.0 202.4h0M352.2 203.4h0M352.4 204.6h0M352.4 204.7h0M352.4 206.3h0M351.7 206.8h0M352.4 207.3h0M352.3 208.6h0M351.8 209.5h0M352.3 209.9h0M352.5 210.5h0M352.2 211.8h0M352.2 212.5h0M352.3 212.5h0M352.4 213.5h0M352.3 214.2h0M351.6 214.9h0M351.7 215.4h0M351.6 216.9h0M352.0 217.4h0M351.6 218.2h0M351.9 187.2h0M352.1 192.6h0M383.5 166.7h0M383.9 168.3h0M383.3 168.9h0M383.8 169.2h0M383.6 169.6h0M383.8 170.5h0M383.8 170.8h0M383.8 172.5h0M383.3 172.8h0M383.1 173.2h0M384.1 173.8h0M384.0 175.0h0M383.6 176.0h0M383.8 175.7h0M383.2 176.6h0M383.6 176.9h0M383.7 178.4h0M383.8 178.9h0M383.3 180.3h0M383.2 180.2h0M384.1 180.8h0M383.9 181.4h0M383.3 182.6h0M383.9 182.4h0M383.9 183.9h0M383.3 184.4h0M383.9 184.9h0M383.5 185.4h0M383.4 186.7h0M383.3 187.7h0M383.7 187.6h0M383.7 188.6h0M383.6 189.7h0M383.2 189.6h0M383.9 190.4h0M383.4 190.8h0M383.4 191.8h0M383.7 192.5h0M383.3 193.1h0M384.0 193.7h0M383.7 194.1h0M383.9 194.8h0M449.9 155.5h0M449.5 157.4h0M449.3 157.8h0M450.0 158.5h0M449.6 159.3h0M450.0 159.5h0M449.5 160.5h0M449.5 161.6h0M449.8 162.3h0M449.3 162.8h0M450.2 163.2h0M449.3 163.8h0M450.1 165.2h0M449.9 165.6h0M450.0 166.0h0M449.4 166.1h0M450.1 167.2h0M449.7 167.6h0M449.6 169.3h0M449.4 169.7h0M449.4 170.0h0M450.1 170.9h0M450.2 172.6h0M449.6 172.8h0M449.9 172.6h0M449.9 173.7h0M449.7 174.1h0M449.7 174.6h0M449.8 175.9h0M449.5 177.4h0M449.9 177.8h0M449.6 178.0h0M449.7 178.5h0M449.4 179.4h0M450.2 180.4h0M449.3 180.2h0M449.9 180.8h0M449.9 182.8h0M449.5 182.9h0M450.2 184.1h0M449.2 184.3h0M449.5 185.4h0M449.5 185.4h0M449.8 186.5h0M449.8 187.5h0M449.9 188.1h0M450.1 188.2h0M449.2 189.4h0M449.8 189.6h0M449.6 190.0h0M449.9 191.4h0M449.7 192.4h0M449.5 192.9h0M449.2 192.8h0M449.5 194.3h0M449.5 201.2h0M481.0 184.3h0M481.6 184.4h0M480.8 185.5h0M481.5 186.6h0M481.2 187.4h0M481.0 187.6h0M481.0 189.1h0M481.1 190.0h0M481.1 190.7h0M480.9 191.8h0M480.9 192.1h0M481.7 193.1h0M481.1 193.9h0M481.3 195.2h0M481.4 195.6h0M481.0 196.8h0M481.6 197.1h0M481.0 198.4h0M480.9 199.1h0M480.7 200.1h0M481.0 201.1h0M480.8 201.8h0M481.3 202.7h0M481.3 202.9h0M480.7 204.9h0M481.6 205.2h0M481.4 206.2h0M481.3 206.8h0M481.6 208.3h0M481.2 208.6h0M480.9 209.9h0M481.5 211.0h0M481.7 212.1h0M480.8 212.8h0M481.2 213.4h0M480.9 213.7h0M481.6 215.4h0M480.8 216.3h0M481.5 217.0h0M480.9 217.9h0M481.3 218.5h0M481.4 219.2h0M481.5 220.6h0M480.8 221.5h0M481.2 221.6h0M480.8 223.1h0M480.8 223.8h0M480.9 224.9h0M481.3 175.6h0M481.1 227.6h0M481.0 230.1h0M481.2 232.2h0M481.0 245.4h0M516.8 170.0h0M516.5 169.9h0M517.2 170.9h0M517.2 171.4h0M517.2 171.9h0M517.2 173.6h0M516.7 173.0h0M517.0 174.9h0M516.9 174.6h0M516.8 175.8h0M516.8 177.3h0M517.1 176.5h0M517.4 177.4h0M516.9 179.0h0M516.8 179.3h0M517.0 179.8h0M517.0 180.6h0M516.8 181.0h0M517.0 182.1h0M517.1 183.2h0M517.1 183.3h0M516.6 184.2h0M517.1 185.2h0M516.8 186.2h0M517.3 186.0h0M517.0 187.0h0M517.2 187.4h0M517.2 188.1h0M516.6 188.8h0M516.5 189.4h0M517.2 189.8h0M516.5 190.4h0M517.3 191.5h0M517.1 192.5h0M516.8 193.5h0M517.1 193.6h0M516.5 194.4h0M517.0 195.4h0M517.3 196.1h0M516.4 196.5h0M516.8 163.5h0" fill="none" stroke="#1f77b4" stroke-width="3.7" stroke-linecap="round"/>
<path d="M112.58 141.32V250.67M203.34 141.32V250.67M294.10 141.32V250.67M384.86 141.32V250.67M475.62 141.32V250.67M44.50 148.83H543.70M44.50 172.15H543.70M44.50 195.47H543.70M44.50 218.79H543.70M44.50 242.11H543.70" stroke="#b0b0b0" stroke-width="0.68" fill="none"/>
<path d="M67.3 193.7L69.2 191.1L71.1 188.5L73.0 186.1L74.9 184.0L76.8 182.1L78.7 180.7L80.6 179.6L82.5 178.9L84.4 178.7L86.3 178.9L88.2 179.5L90.1 180.6L92.0 182.1L93.9 183.9L95.8 186.0L97.7 188.4L99.6 191.0L101.5 193.7L103.4 196.4L105.3 199.1L107.2 201.7L109.1 204.2L111.0 206.4L112.9 208.3L114.8 209.9L116.7 211.1L118.6 211.9L120.5 212.2L122.4 212.2L124.2 211.6L126.1 210.7L128.0 209.3L129.9 207.6L131.8 205.6L133.7 203.2L135.6 200.7L137.5 198.1L139.4 195.3L141.3 192.6L143.2 190.0L145.1 187.5L147.0 185.2L148.9 183.2L150.8 181.5L152.7 180.2L154.6 179.2L156.5 178.8L158.4 178.7L160.3 179.1L162.2 179.9L164.1 181.2L166.0 182.8L167.9 184.8L169.8 187.0L171.7 189.5L173.6 192.1L175.5 194.8L177.4 197.5L179.3 200.2L181.2 202.7L183.1 205.1L185.0 207.2L186.9 209.0L188.8 210.4L190.7 211.5L192.6 212.1L194.5 212.3L196.4 212.0L198.3 211.3L200.2 210.2L202.1 208.7L204.0 206.8L205.9 204.6L207.8 202.2L209.7 199.6L211.6 196.9L213.5 194.2L215.4 191.5L217.3 188.9L219.2 186.5L221.1 184.3L223.0 182.4L224.9 180.9L226.8 179.7L228.7 179.0L230.6 178.7L232.5 178.8L234.4 179.4L236.3 180.4L238.1 181.8L240.0 183.6L241.9 185.6L243.8 188.0L245.7 190.5L247.6 193.2L249.5 195.9L251.4 198.6L253.3 201.3L255.2 203.8L257.1 206.0L259.0 208.0L260.9 209.6L262.8 210.9L264.7 211.8L266.6 212.2L268.5 212.2L270.4 211.8L272.3 210.9L274.2 209.6L276.1 207.9L278.0 205.9L279.9 203.7L281.8 201.2L283.7 198.5L285.6 195.8L287.5 193.1L289.4 190.4L291.3 187.9L293.2 185.6L295.1 183.5L297.0 181.7L298.9 180.4L300.8 179.4L302.7 178.8L304.6 178.7L306.5 179.0L308.4 179.8L310.3 180.9L312.2 182.5L314.1 184.4L316.0 186.6L317.9 189.0L319.8 191.6L321.7 194.3L323.6 197.1L325.5 199.7L327.4 202.3L329.3 204.7L331.2 206.9L333.1 208.7L335.0 210.2L336.9 211.3L338.8 212.0L340.7 212.3L342.6 212.1L344.5 211.4L346.4 210.4L348.3 208.9L350.2 207.1L352.0 205.0L353.9 202.7L355.8 200.1L357.7 197.4L359.6 194.7L361.5 192.0L363.4 189.4L365.3 186.9L367.2 184.7L369.1 182.7L371.0 181.1L372.9 179.9L374.8 179.1L376.7 178.7L378.6 178.8L380.5 179.3L382.4 180.2L384.3 181.5L386.2 183.2L388.1 185.3L390.0 187.6L391.9 190.1L393.8 192.7L395.7 195.4L397.6 198.2L399.5 200.8L401.4 203.3L403.3 205.6L405.2 207.7L407.1 209.4L409.0 210.7L410.9 211.7L412.8 212.2L414.7 212.2L416.6 211.9L418.5 211.1L420.4 209.8L422.3 208.2L424.2 206.3L426.1 204.1L428.0 201.6L429.9 199.0L431.8 196.3L433.7 193.6L435.6 190.9L437.5 188.3L439.4 186.0L441.3 183.8L443.2 182.0L445.1 180.6L447.0 179.5L448.9 178.9L450.8 178.7L452.7 178.9L454.6 179.6L456.5 180.7L458.4 182.2L460.3 184.0L462.2 186.2L464.1 188.6L465.9 191.2L467.8 193.8L469.7 196.6L471.6 199.3L473.5 201.9L475.4 204.3L477.3 206.5L479.2 208.4L481.1 210.0L483.0 211.2L484.9 211.9L486.8 212.3L488.7 212.1L490.6 211.6L492.5 210.6L494.4 209.2L496.3 207.5L498.2 205.4L500.1 203.1L502.0 200.6L503.9 197.9L505.8 195.2L507.7 192.4L509.6 189.8L511.5 187.3L513.4 185.0L515.3 183.0L517.2 181.4L519.1 180.1L521.0 179.2" stroke="#ff0000" stroke-width="1.4" fill="none" stroke-linejoin="round" stroke-linecap="square"/>
<path d="M112.58 250.67v3M203.34 250.67v3M294.10 250.67v3M384.86 250.67v3M475.62 250.67v3M44.50 148.83h-3M44.50 172.15h-3M44.50 195.47h-3M44.50 218.79h-3M44.50 242.11h-3" stroke="#000" stroke-width="0.68" fill="none"/>
<rect x="44.50" y="141.32" width="499.20" height="109.35" fill="none" stroke="#000" stroke-width="0.68"/>
<text x="112.58" y="263.17" text-anchor="middle">−0.04</text>
<text x="203.34" y="263.17" text-anchor="middle">−0.02</text>
<text x="294.10" y="263.17" text-anchor="middle">0.00</text>
<text x="384.86" y="263.17" text-anchor="middle">0.02</text>
<text x="475.62" y="263.17" text-anchor="middle">0.04</text>
<text x="38.20" y="152.23" text-anchor="end">40</text>
<text x="38.20" y="175.55" text-anchor="end">20</text>
<text x="38.20" y="198.87" text-anchor="end">0</text>
<text x="38.20" y="222.19" text-anchor="end">−20</text>
<text x="38.20" y="245.51" text-anchor="end">−40</text>
<text transform="translate(15.1 196.00) rotate(-90)" text-anchor="middle">V [mV]</text>
<rect x="48.70" y="145.57" width="177.30" height="27.9" rx="1.7" fill="#fff" fill-opacity="0.8" stroke="#ccc" stroke-opacity="0.8" stroke-width="0.85"/>
<circle cx="61.0" cy="153.57" r="1.9" fill="#1f77b4"/>
<path d="M51.3 165.27H69.8" stroke="#ff0000" stroke-width="1.4"/>
<text x="76.3" y="155.47">Raw signal - coarse offset removal</text>
<text x="76.3" y="168.27">NLSQ fit 1</text>
</g>
<g>
<path d="M68.3 325.6L69.8 323.5L71.2 321.6L72.7 319.7L74.2 318.0L75.6 316.5L77.1 315.2L78.5 314.0L80.0 313.1L81.5 312.5L82.9 312.1L84.4 311.9L85.9 312.1L87.3 312.5L88.8 313.1L90.2 314.0L91.7 315.1L93.2 316.5L94.6 318.0L96.1 319.7L97.6 321.5L99.0 323.5L100.5 325.5L101.9 327.6L103.4 329.7L104.9 331.8L106.3 333.9L107.8 335.8L109.3 337.7L110.7 339.4L112.2 340.9L113.6 342.3L115.1 343.4L116.6 344.3L118.0 345.0L119.5 345.4L121.0 345.5L122.4 345.4L123.9 345.0L125.4 344.4L126.8 343.5L128.3 342.4L129.7 341.1L131.2 339.5L132.7 337.9L134.1 336.0L135.6 334.1L137.1 332.0L138.5 329.9L140.0 327.8L141.4 325.7L142.9 323.7L144.4 321.7L145.8 319.9L147.3 318.2L148.8 316.6L150.2 315.2L151.7 314.1L153.1 313.2L154.6 312.5L156.1 312.1L157.5 311.9L159.0 312.1L160.5 312.4L161.9 313.1L163.4 313.9L164.8 315.0L166.3 316.4L167.8 317.9L169.2 319.6L170.7 321.4L172.2 323.3L173.6 325.4L175.1 327.5L176.6 329.6L178.0 331.7L179.5 333.7L180.9 335.7L182.4 337.5L183.9 339.3L185.3 340.8L186.8 342.2L188.3 343.3L189.7 344.3L191.2 344.9L192.6 345.4L194.1 345.5L195.6 345.4L197.0 345.1L198.5 344.5L200.0 343.6L201.4 342.5L202.9 341.2L204.3 339.7L205.8 338.0L207.3 336.2L208.7 334.2L210.2 332.2L211.7 330.1L213.1 328.0L214.6 325.9L216.1 323.8L217.5 321.9L219.0 320.0L220.4 318.3L221.9 316.7L223.4 315.3L224.8 314.2L226.3 313.2L227.8 312.6L229.2 312.1L230.7 311.9L232.1 312.0L233.6 312.4L235.1 313.0L236.5 313.9L238.0 314.9L239.5 316.3L240.9 317.8L242.4 319.4L243.8 321.3L245.3 323.2L246.8 325.2L248.2 327.3L249.7 329.4L251.2 331.5L252.6 333.6L254.1 335.5L255.5 337.4L257.0 339.1L258.5 340.7L259.9 342.1L261.4 343.3L262.9 344.2L264.3 344.9L265.8 345.4L267.3 345.5L268.7 345.5L270.2 345.1L271.6 344.5L273.1 343.7L274.6 342.6L276.0 341.3L277.5 339.8L279.0 338.1L280.4 336.3L281.9 334.4L283.3 332.3L284.8 330.2L286.3 328.1L287.7 326.0L289.2 324.0L290.7 322.0L292.1 320.1L293.6 318.4L295.0 316.8L296.5 315.4L298.0 314.3L299.4 313.3L300.9 312.6L302.4 312.1L303.8 311.9L305.3 312.0L306.7 312.4L308.2 312.9L309.7 313.8L311.1 314.9L312.6 316.2L314.1 317.6L315.5 319.3L317.0 321.1L318.5 323.1L319.9 325.1L321.4 327.2L322.8 329.3L324.3 331.4L325.8 333.4L327.2 335.4L328.7 337.3L330.2 339.0L331.6 340.6L333.1 342.0L334.5 343.2L336.0 344.1L337.5 344.9L338.9 345.3L340.4 345.5L341.9 345.5L343.3 345.1L344.8 344.6L346.2 343.7L347.7 342.7L349.2 341.4L350.6 339.9L352.1 338.2L353.6 336.4L355.0 334.5L356.5 332.5L357.9 330.4L359.4 328.3L360.9 326.2L362.3 324.1L363.8 322.1L365.3 320.3L366.7 318.5L368.2 316.9L369.7 315.5L371.1 314.3L372.6 313.4L374.0 312.6L375.5 312.2L377.0 312.0L378.4 312.0L379.9 312.3L381.4 312.9L382.8 313.7L384.3 314.8L385.7 316.1L387.2 317.5L388.7 319.2L390.1 321.0L391.6 322.9L393.1 324.9L394.5 327.0L396.0 329.1L397.4 331.2L398.9 333.3L400.4 335.3L401.8 337.1L403.3 338.9L404.8 340.5L406.2 341.9L407.7 343.1L409.2 344.1L410.6 344.8L412.1 345.3L413.5 345.5L415.0 345.5L416.5 345.2L417.9 344.6L419.4 343.8L420.9 342.7L422.3 341.5L423.8 340.0L425.2 338.4L426.7 336.6L428.2 334.6L429.6 332.6L431.1 330.5L432.6 328.4L434.0 326.3L435.5 324.3L436.9 322.3L438.4 320.4L439.9 318.6L441.3 317.0L442.8 315.6L444.3 314.4L445.7 313.4L447.2 312.7L448.6 312.2L450.1 312.0L451.6 312.0L453.0 312.3L454.5 312.8L456.0 313.6L457.4 314.7L458.9 316.0L460.4 317.4L461.8 319.1L463.3 320.9L464.7 322.8L466.2 324.8L467.7 326.9L469.1 329.0L470.6 331.1L472.1 333.1L473.5 335.1L475.0 337.0L476.4 338.8L477.9 340.4L479.4 341.8L480.8 343.0L482.3 344.0L483.8 344.8L485.2 345.3L486.7 345.5L488.1 345.5L489.6 345.2L491.1 344.7L492.5 343.9L494.0 342.8L495.5 341.6L496.9 340.1L498.4 338.5L499.8 336.7L501.3 334.8L502.8 332.8L504.2 330.7L505.7 328.6" fill="none" stroke="#1f77b4" stroke-width="5.7" stroke-linecap="round" stroke-linejoin="round"/>
<path d="M67.3 327.4h0M68.2 325.3h0M69.5 323.8h0M69.6 323.5h0M69.6 323.7h0M69.8 323.0h0M70.0 324.1h0M70.3 321.6h0M70.7 322.0h0M71.3 321.1h0M71.6 320.6h0M72.1 319.7h0M72.1 319.9h0M72.4 319.9h0M72.4 320.1h0M72.7 320.9h0M72.8 319.4h0M73.2 319.4h0M73.2 319.4h0M73.2 317.3h0M73.2 320.4h0M73.6 318.6h0M73.6 317.7h0M73.8 317.6h0M73.8 317.4h0M73.9 319.2h0M74.0 318.9h0M74.2 317.5h0M74.6 317.7h0M75.2 315.6h0M75.3 316.6h0M75.3 316.6h0M75.5 316.2h0M75.7 316.5h0M75.7 316.2h0M76.0 316.6h0M76.5 315.7h0M76.7 315.8h0M77.5 314.6h0M77.6 315.7h0M78.2 315.4h0M78.4 313.7h0M78.6 313.8h0M78.7 314.6h0M78.8 314.0h0M78.9 314.5h0M79.0 312.1h0M79.0 314.8h0M80.3 311.6h0M81.1 313.2h0M81.5 312.1h0M81.5 312.6h0M81.6 312.6h0M81.6 311.7h0M81.6 311.7h0M81.8 312.5h0M82.1 312.9h0M82.5 310.5h0M82.6 311.0h0M82.7 311.9h0M82.9 312.2h0M83.2 311.7h0M84.2 311.8h0M85.0 311.0h0M85.2 312.6h0M85.3 311.9h0M85.6 312.5h0M85.9 311.0h0M85.9 310.7h0M86.1 312.1h0M86.2 311.7h0M86.5 311.1h0M87.0 312.5h0M87.6 313.2h0M87.9 311.8h0M88.1 312.3h0M88.3 312.9h0M89.5 312.3h0M89.9 313.6h0M90.0 315.1h0M90.3 313.7h0M90.6 314.3h0M90.7 312.9h0M91.4 314.8h0M91.6 315.1h0M92.3 315.2h0M92.9 315.9h0M93.1 317.4h0M93.5 316.6h0M93.6 317.1h0M93.6 315.8h0M93.8 315.2h0M93.8 317.9h0M93.9 317.8h0M94.6 318.6h0M94.7 318.5h0M95.9 319.9h0M96.0 319.5h0M96.3 319.0h0M96.7 321.3h0M96.7 321.6h0M97.6 322.9h0M97.9 321.1h0M98.2 321.3h0M98.4 323.8h0M98.6 324.1h0M98.7 322.9h0M98.9 322.4h0M98.9 322.5h0M99.0 323.2h0M99.5 323.6h0M99.6 324.0h0M99.6 324.7h0M99.8 323.0h0M100.1 324.9h0M101.0 327.1h0M101.4 327.0h0M101.4 327.9h0M102.1 327.7h0M102.3 327.2h0M102.3 329.0h0M102.7 327.7h0M103.1 327.6h0M103.5 329.5h0M103.7 330.9h0M103.8 330.8h0M103.9 330.7h0M104.1 331.6h0M104.3 331.9h0M104.8 331.8h0M105.0 332.0h0M105.2 331.7h0M105.3 333.2h0M105.4 331.1h0M105.4 331.7h0M105.5 331.9h0M106.0 333.8h0M106.4 332.6h0M106.5 334.3h0M106.6 332.8h0M106.9 333.8h0M107.4 335.9h0M107.5 335.7h0M107.7 334.3h0M107.8 335.0h0M108.1 336.3h0M108.1 336.0h0M108.5 336.5h0M108.7 337.5h0M109.0 337.5h0M109.1 337.9h0M109.1 337.7h0M109.6 337.7h0M110.5 339.8h0M110.5 338.5h0M110.8 339.3h0M111.3 339.4h0M111.4 339.4h0M111.5 339.2h0M111.9 340.1h0M112.2 340.3h0M112.9 341.7h0M113.4 341.6h0M114.0 343.1h0M114.2 342.8h0M114.4 342.2h0M114.7 343.1h0M115.3 343.1h0M115.6 344.5h0M115.7 342.7h0M116.0 344.4h0M116.4 343.8h0M116.4 344.2h0M116.7 343.6h0M116.9 344.7h0M116.9 345.2h0M118.1 346.4h0M118.7 345.4h0M119.3 346.2h0M119.4 344.9h0M119.5 344.2h0M119.8 347.0h0M119.9 346.4h0M120.3 345.2h0M120.6 344.5h0M120.9 345.2h0M120.9 345.2h0M122.1 345.0h0M122.4 344.9h0M122.4 344.1h0M122.8 344.8h0M123.8 345.9h0M124.1 345.2h0M124.3 344.6h0M124.6 345.3h0M124.9 344.7h0M125.3 344.7h0M125.5 344.8h0M126.0 343.4h0M126.2 344.2h0M126.2 344.7h0M126.7 344.1h0M126.9 343.4h0M127.1 341.7h0M127.2 343.0h0M127.2 342.0h0M127.8 342.3h0M127.9 344.2h0M128.2 342.2h0M128.4 342.9h0M128.6 343.1h0M128.8 342.7h0M128.8 340.5h0M128.9 343.0h0M128.9 342.3h0M128.9 340.9h0M128.9 341.3h0M129.6 342.5h0M129.6 341.2h0M129.6 341.5h0M130.2 340.7h0M130.4 339.8h0M130.6 340.5h0M130.8 340.2h0M130.8 338.8h0M131.6 340.4h0M131.7 339.1h0M132.0 338.2h0M132.3 339.1h0M132.6 338.3h0M133.2 338.2h0M133.8 336.3h0M134.3 336.2h0M135.9 332.9h0M136.2 332.4h0M136.4 332.9h0M136.6 332.9h0M136.8 332.1h0M137.2 331.6h0M137.3 332.6h0M137.5 330.6h0M137.8 330.7h0M138.1 329.9h0M138.5 331.0h0M138.6 329.1h0M138.7 328.0h0M139.1 328.5h0M139.8 329.2h0M139.8 327.9h0M140.1 327.7h0M140.3 327.2h0M140.3 327.4h0M140.4 326.9h0M140.5 327.4h0M140.8 326.5h0M141.4 326.3h0M141.4 325.6h0M142.0 324.1h0M143.0 323.9h0M143.2 322.7h0M143.4 323.6h0M143.9 322.5h0M144.3 321.9h0M144.6 320.5h0M144.9 321.6h0M145.6 319.1h0M145.7 321.0h0M146.1 319.6h0M146.5 318.3h0M147.3 317.6h0M147.6 318.5h0M148.0 318.2h0M148.5 316.2h0M148.5 317.7h0M148.6 316.2h0M149.0 316.7h0M149.1 316.2h0M149.6 313.9h0M149.9 314.3h0M149.9 314.8h0M150.1 316.4h0M150.6 314.6h0M150.7 314.7h0M150.9 314.7h0M151.0 313.5h0M151.4 315.6h0M151.4 314.0h0M151.7 314.0h0M151.9 314.4h0M152.2 312.4h0M152.3 314.6h0M152.6 313.4h0M152.8 313.3h0M153.0 314.9h0M153.4 314.1h0M153.9 313.5h0M154.0 312.1h0M154.2 311.9h0M154.2 312.1h0M155.6 312.0h0M155.9 313.7h0M155.9 311.9h0M156.0 312.4h0M156.3 311.1h0M156.8 310.9h0M156.9 310.2h0M157.0 311.4h0M157.8 311.3h0M157.9 312.7h0M158.2 311.8h0M158.4 312.8h0M158.8 311.3h0M159.6 313.0h0M159.6 312.3h0M159.7 312.8h0M160.2 312.6h0M160.4 312.0h0M160.6 312.8h0M160.9 312.4h0M161.2 313.4h0M161.5 311.7h0M162.2 313.6h0M162.4 312.5h0M162.6 311.7h0M162.8 315.3h0M163.0 314.4h0M163.3 314.0h0M163.4 313.0h0M163.7 314.4h0M163.8 313.9h0M165.0 315.7h0M165.1 314.7h0M165.1 316.1h0M165.2 314.6h0M165.6 317.9h0M166.1 317.6h0M167.8 316.5h0M167.9 317.8h0M168.2 318.9h0M168.2 316.7h0M168.4 317.7h0M168.5 317.8h0M168.9 319.5h0M169.7 319.6h0M169.8 319.8h0M169.9 321.6h0M170.2 320.2h0M170.3 320.9h0M170.6 320.2h0M170.7 320.4h0M171.3 322.6h0M172.0 323.5h0M172.1 323.1h0M172.4 323.1h0M172.5 324.1h0M173.1 324.7h0M173.2 324.2h0M173.5 324.9h0M173.8 324.7h0M174.0 325.7h0M174.5 327.3h0M174.5 328.0h0M174.8 326.4h0M174.9 327.3h0M175.0 327.5h0M175.3 327.9h0M177.3 331.8h0M177.5 331.1h0M178.1 333.7h0M178.1 332.1h0M178.2 332.5h0M178.2 330.5h0M179.2 333.0h0M179.4 333.8h0M179.9 334.1h0M180.9 335.0h0M180.9 336.2h0M181.0 335.9h0M181.8 337.0h0M182.0 335.1h0M182.2 337.2h0M182.8 339.4h0M182.8 337.4h0M182.8 336.0h0M183.1 339.1h0M183.6 336.3h0M183.7 339.0h0M184.4 339.0h0M184.7 340.5h0M185.2 340.9h0M185.4 341.8h0M185.7 342.0h0M185.9 343.0h0M186.1 340.6h0M186.2 342.5h0M186.3 341.4h0M186.6 341.7h0M186.8 342.6h0M186.8 342.1h0M187.1 342.4h0M187.5 343.1h0M188.5 343.4h0M188.7 343.6h0M189.1 344.7h0M189.9 345.3h0M190.1 345.1h0M190.3 344.4h0M190.4 343.5h0M190.5 343.5h0M191.0 344.6h0M191.7 344.3h0M191.8 345.0h0M192.3 344.4h0M192.3 345.2h0M193.0 345.1h0M193.2 345.6h0M193.3 345.4h0M193.4 344.0h0M194.0 346.4h0M194.2 345.5h0M194.5 346.0h0M195.0 344.7h0M195.9 343.9h0M195.9 345.6h0M196.1 347.4h0M196.3 344.8h0M196.5 344.7h0M196.8 346.4h0M197.5 345.1h0M197.8 344.8h0M199.1 345.9h0M199.5 343.3h0M199.6 343.4h0M199.6 343.6h0M199.7 344.5h0M200.4 343.8h0M200.6 343.6h0M201.2 342.3h0M201.5 343.2h0M202.4 340.5h0M202.4 341.3h0M202.4 343.2h0M203.0 339.7h0M203.6 340.3h0M203.6 340.8h0M203.7 340.2h0M203.8 341.6h0M203.8 340.0h0M204.0 341.9h0M204.5 340.3h0M204.5 338.4h0M204.5 338.4h0M204.5 339.7h0M204.8 339.9h0M204.8 338.4h0M205.1 338.9h0M205.4 338.3h0M205.7 337.6h0M205.8 338.8h0M206.1 337.0h0M206.1 339.2h0M206.2 336.3h0M206.2 338.7h0M206.5 337.6h0M207.0 337.0h0M207.1 335.8h0M207.6 335.2h0M208.2 334.6h0M208.6 334.0h0M208.6 334.0h0M208.6 334.4h0M209.3 334.9h0M209.6 334.8h0M209.8 334.4h0M210.0 332.4h0M210.5 331.9h0M210.8 331.4h0M210.9 331.0h0M211.3 330.8h0M212.0 330.3h0M213.3 328.9h0M213.5 328.9h0M214.6 324.9h0M214.8 324.8h0M215.0 326.3h0M215.5 324.8h0M215.6 324.1h0M215.6 323.2h0M215.6 324.9h0M215.6 324.3h0M215.8 323.3h0M216.4 324.7h0M216.5 323.7h0M216.6 323.1h0M216.6 323.6h0M216.9 321.0h0M217.7 320.9h0M217.8 321.3h0M217.9 322.1h0M217.9 320.7h0M218.1 320.6h0M218.1 321.5h0M218.2 321.3h0M218.5 321.7h0M218.6 320.5h0M219.0 319.2h0M219.4 318.6h0M219.7 318.7h0M219.8 318.4h0M220.2 319.0h0M220.4 318.7h0M220.4 317.3h0M221.0 317.3h0M221.8 317.5h0M222.1 316.1h0M222.9 315.1h0M223.0 315.1h0M223.1 315.5h0M223.1 316.0h0M223.1 315.2h0M223.3 314.0h0M223.7 314.9h0M224.9 314.6h0M225.0 313.8h0M225.0 315.0h0M225.2 313.7h0M225.5 313.9h0M225.7 312.8h0M226.5 313.0h0M226.7 312.2h0M226.7 311.2h0M226.8 313.1h0M227.1 313.5h0M227.3 312.3h0M227.8 312.6h0M228.2 312.3h0M228.4 312.8h0M228.5 311.9h0M229.1 312.1h0M229.4 313.7h0M229.4 312.2h0M229.5 311.8h0M229.6 311.1h0M229.8 312.5h0M230.0 312.6h0M230.0 311.1h0M230.1 312.4h0M230.8 311.8h0M231.0 311.6h0M231.1 311.3h0M231.3 311.9h0M231.3 312.8h0M231.7 311.2h0M232.1 312.3h0M232.6 312.5h0M232.6 310.5h0M232.9 311.5h0M233.0 313.0h0M233.4 312.7h0M233.6 312.6h0M234.7 313.4h0M234.9 314.4h0M235.2 312.4h0M235.2 312.5h0M235.3 312.9h0M235.3 313.4h0M235.7 313.2h0M235.7 312.9h0M236.4 314.5h0M236.4 314.0h0M236.5 314.3h0M236.7 313.4h0M237.1 314.1h0M237.4 315.5h0M237.6 315.1h0M237.6 313.3h0M238.0 315.7h0M238.1 314.9h0M238.1 315.5h0M238.3 314.2h0M238.3 315.3h0M238.5 315.7h0M238.7 316.5h0M238.9 315.9h0M239.0 315.1h0M239.1 315.4h0M239.1 317.0h0M239.5 315.1h0M239.6 316.6h0M239.7 317.3h0M240.8 317.5h0M240.9 318.2h0M241.6 319.0h0M241.7 319.1h0M241.9 318.9h0M242.4 319.8h0M242.4 320.8h0M242.8 319.5h0M242.8 320.4h0M243.0 319.3h0M243.3 320.1h0M243.5 320.3h0M243.5 320.7h0M243.6 320.0h0M243.7 321.3h0M244.1 322.4h0M244.3 321.6h0M244.7 324.5h0M244.8 322.7h0M245.0 322.7h0M245.7 324.0h0M245.8 322.9h0M245.9 323.5h0M246.7 325.1h0M246.8 325.5h0M246.9 324.6h0M247.1 326.2h0M247.1 326.0h0M247.6 325.8h0M248.0 326.5h0M248.6 326.3h0M248.8 328.3h0M248.9 329.7h0M249.4 328.5h0M249.7 328.4h0M249.9 329.8h0M250.1 328.8h0M250.3 328.8h0M250.4 330.9h0M250.9 331.5h0M251.8 333.3h0M251.9 332.1h0M252.1 332.2h0M252.2 332.5h0M253.0 335.1h0M253.3 335.0h0M253.9 336.4h0M254.0 336.7h0M254.6 337.3h0M255.0 337.9h0M255.0 336.9h0M255.1 336.5h0M255.7 337.1h0M257.9 340.2h0M258.0 340.7h0M258.3 340.6h0M258.8 340.6h0M259.3 341.7h0M259.5 341.7h0M259.8 342.2h0M260.4 342.9h0M260.4 342.4h0M260.4 343.4h0M260.6 341.9h0M260.9 344.1h0M261.3 342.9h0M262.0 344.7h0M262.2 342.6h0M262.2 343.2h0M262.8 344.8h0M262.8 344.5h0M263.0 345.1h0M263.2 344.4h0M263.4 344.2h0M263.9 342.8h0M264.3 345.9h0M264.7 344.1h0M265.2 345.7h0M265.3 345.0h0M265.7 344.7h0M266.4 345.0h0M266.9 345.2h0M267.1 345.7h0M267.7 345.5h0M267.8 345.4h0M268.9 344.5h0M269.0 346.5h0M269.8 345.6h0M269.8 346.2h0M270.1 345.9h0M270.1 345.7h0M270.5 344.2h0M270.9 343.2h0M271.3 343.6h0M272.4 345.0h0M272.4 344.0h0M272.9 344.7h0M273.6 343.0h0M273.8 342.2h0M274.4 342.2h0M274.7 341.8h0M274.9 342.4h0M275.3 343.5h0M275.8 343.0h0M276.3 341.1h0M276.6 340.3h0M277.0 339.3h0M277.1 340.5h0M277.1 340.1h0M277.4 339.7h0M277.5 339.0h0M277.7 339.6h0M277.9 340.2h0M279.2 337.0h0M279.7 336.9h0M280.3 336.1h0M281.2 336.2h0M283.0 332.8h0M283.2 333.9h0M283.3 333.9h0M283.4 332.4h0M283.7 332.1h0M283.8 331.3h0M283.9 330.4h0M284.0 331.5h0M284.0 330.0h0M284.8 330.7h0M285.3 328.9h0M285.5 330.2h0M285.7 328.9h0M285.8 329.1h0M286.1 328.6h0M286.4 327.5h0M286.5 329.3h0M286.9 327.1h0M287.2 327.5h0M287.5 326.3h0M287.8 325.7h0M288.2 325.7h0M288.4 325.3h0M289.0 325.2h0M289.1 323.7h0M289.1 324.6h0M289.4 323.3h0M289.8 324.3h0M289.8 322.1h0M290.0 323.6h0M290.1 321.9h0M290.6 322.5h0M290.9 321.2h0M291.0 321.7h0M291.1 320.9h0M291.2 321.3h0M291.7 319.6h0M292.3 319.4h0M292.4 319.3h0M292.6 318.3h0M292.6 320.1h0M292.8 318.3h0M292.9 319.1h0M293.9 319.1h0M294.2 317.3h0M294.9 317.1h0M294.9 315.6h0M295.3 316.9h0M295.3 316.5h0M295.5 316.2h0M295.5 317.8h0M295.7 315.8h0M296.4 316.3h0M296.6 314.3h0M296.6 314.1h0M296.8 315.2h0M297.2 316.1h0M297.8 314.2h0M297.9 314.2h0M298.0 313.7h0M298.2 314.3h0M298.8 314.6h0M298.8 313.8h0M298.8 314.4h0M300.2 311.6h0M301.1 313.1h0M302.3 312.7h0M302.6 312.1h0M302.8 313.0h0M303.3 312.3h0M303.3 312.1h0M303.4 312.4h0M303.6 312.2h0M303.6 311.0h0M303.7 311.6h0M304.1 313.0h0M304.2 312.3h0M304.3 311.4h0M304.6 312.5h0M304.6 311.9h0M304.8 312.0h0M304.8 311.6h0M304.8 312.1h0M305.0 312.1h0M305.4 312.7h0M306.0 311.9h0M306.3 312.9h0M307.9 311.4h0M308.0 312.8h0M308.6 313.3h0M309.0 312.7h0M309.0 313.4h0M309.3 313.5h0M310.4 314.3h0M310.7 315.0h0M311.3 315.7h0M311.4 315.6h0M312.7 315.4h0M312.7 316.7h0M313.1 317.0h0M314.2 318.2h0M314.9 318.1h0M315.1 317.3h0M315.1 319.6h0M315.4 318.8h0M315.6 319.3h0M316.0 320.1h0M316.2 319.7h0M316.3 321.2h0M316.4 319.7h0M316.4 320.2h0M316.6 321.4h0M317.0 320.0h0M317.3 320.9h0M317.5 320.9h0M317.5 323.0h0M317.9 322.5h0M318.0 322.8h0M318.2 322.2h0M318.2 321.7h0M318.2 324.2h0M318.6 323.2h0M318.8 323.6h0M318.8 322.8h0M319.8 324.9h0M320.0 326.2h0M320.3 325.7h0M320.5 326.6h0M320.6 326.7h0M321.5 327.2h0M321.5 327.6h0M321.9 327.6h0M322.2 329.5h0M322.5 327.0h0M322.9 328.4h0M323.0 328.9h0M323.1 330.6h0M323.2 331.5h0M323.3 330.5h0M323.4 330.3h0M323.6 328.6h0M323.8 329.7h0M324.5 332.1h0M325.0 331.4h0M325.1 331.6h0M325.2 332.6h0M325.9 332.6h0M327.0 334.9h0M327.3 336.0h0M327.6 336.8h0M327.8 336.2h0M328.0 335.6h0M328.1 337.6h0M328.2 338.0h0M329.2 337.5h0M329.5 340.4h0M329.8 337.2h0M329.9 339.0h0M330.3 338.6h0M330.5 337.9h0M330.7 340.7h0M331.0 340.8h0M331.3 338.6h0M331.5 340.7h0M331.7 340.8h0M332.1 340.9h0M332.2 340.3h0M332.2 340.2h0M332.5 341.4h0M333.1 342.3h0M333.1 342.1h0M333.3 341.9h0M333.4 341.3h0M333.4 342.2h0M333.6 341.1h0M333.6 343.1h0M333.8 342.2h0M334.3 341.6h0M334.4 342.1h0M334.5 342.9h0M335.0 344.2h0M335.3 344.3h0M336.1 344.3h0M336.2 344.0h0M337.9 345.2h0M337.9 346.2h0M338.0 345.6h0M338.1 344.7h0M338.2 344.5h0M339.9 346.6h0M340.0 345.8h0M340.8 346.8h0M341.5 345.9h0M341.6 342.8h0M342.1 345.4h0M343.0 345.5h0M344.1 345.3h0M344.7 345.5h0M345.8 345.4h0M345.8 344.0h0M346.4 343.8h0M346.9 342.1h0M346.9 344.5h0M347.2 342.8h0M347.3 342.0h0M347.6 344.3h0M347.7 342.2h0M348.0 343.7h0M348.0 342.0h0M348.1 341.2h0M348.3 342.2h0M348.3 341.9h0M348.3 342.7h0M349.1 341.3h0M349.2 340.5h0M349.9 340.8h0M350.1 340.6h0M350.2 340.0h0M350.4 339.5h0M351.0 340.8h0M351.9 338.4h0M351.9 339.0h0M352.6 337.3h0M352.8 336.6h0M352.8 337.1h0M353.1 336.0h0M353.5 337.2h0M353.5 336.8h0M353.8 336.8h0M354.7 334.9h0M354.8 334.7h0M356.2 333.0h0M356.3 333.7h0M356.4 332.7h0M357.0 332.0h0M357.3 330.9h0M357.5 331.2h0M357.7 329.9h0M357.7 330.6h0M357.7 332.1h0M357.8 330.7h0M357.8 331.7h0M357.8 329.8h0M357.9 329.4h0M357.9 330.4h0M359.8 327.3h0M360.1 328.4h0M360.1 329.0h0M360.2 327.6h0M360.4 327.1h0M360.5 327.9h0M360.9 326.1h0M361.0 325.7h0M361.0 325.5h0M361.1 324.6h0M361.6 324.5h0M362.5 324.2h0M362.5 323.8h0M363.5 322.1h0M363.8 323.0h0M363.9 320.9h0M364.2 320.9h0M364.6 321.3h0M365.8 320.1h0M366.3 316.1h0M367.0 317.5h0M367.1 317.4h0M367.6 316.2h0M368.1 316.2h0M368.4 316.6h0M368.5 316.0h0M369.2 316.6h0M369.4 315.2h0M369.6 316.8h0M370.2 314.7h0M370.3 314.5h0M370.9 315.7h0M371.1 312.9h0M371.3 315.1h0M371.8 313.0h0M372.4 313.9h0M372.5 313.2h0M372.5 313.9h0M372.9 311.3h0M373.1 312.3h0M373.3 311.6h0M373.6 312.2h0M374.0 312.1h0M374.0 312.5h0M374.2 312.7h0M375.6 311.7h0M375.8 312.0h0M376.0 312.2h0M376.5 313.0h0M377.0 312.2h0M378.0 311.5h0M378.3 312.3h0M378.3 311.7h0M378.4 312.1h0M378.9 312.8h0M379.1 312.8h0M379.4 312.7h0M379.5 312.4h0M379.7 312.4h0M380.0 311.5h0M380.2 313.2h0M380.9 314.2h0M381.2 312.3h0M381.3 313.2h0M381.4 313.0h0M381.4 310.9h0M382.1 312.1h0M382.1 312.8h0M382.1 312.5h0M382.9 313.6h0M382.9 313.0h0M383.1 314.4h0M383.7 314.8h0M384.1 315.0h0M384.1 313.4h0M384.2 313.5h0M385.1 315.9h0M385.2 314.7h0M385.4 315.8h0M385.8 315.2h0M385.9 316.4h0M385.9 315.5h0M385.9 316.3h0M386.0 316.4h0M386.9 317.2h0M387.1 317.3h0M387.7 318.5h0M387.7 319.1h0M388.1 317.2h0M388.3 319.0h0M388.4 320.2h0M388.4 320.6h0M389.3 322.1h0M389.8 321.0h0M390.2 320.0h0M390.4 322.5h0M390.5 321.7h0M390.7 323.1h0M390.7 320.8h0M391.4 322.4h0M392.1 323.4h0M392.2 322.7h0M392.3 322.6h0M393.1 324.2h0M393.6 326.2h0M394.1 327.4h0M394.8 328.1h0M395.3 329.5h0M395.8 327.4h0M396.0 329.2h0M396.3 329.5h0M396.4 329.5h0M396.4 328.1h0M397.4 331.6h0M397.7 330.7h0M398.3 332.2h0M398.9 333.4h0M399.1 334.9h0M399.1 332.8h0M399.2 334.2h0M399.4 334.2h0M399.4 333.7h0M399.6 334.2h0M399.7 333.5h0M400.6 336.1h0M402.2 337.5h0M402.9 338.2h0M403.5 339.1h0M403.6 338.7h0M403.8 339.6h0M403.9 338.7h0M404.0 340.3h0M404.2 341.0h0M404.3 340.0h0M404.8 339.6h0M404.8 340.9h0M404.9 341.1h0M405.0 341.0h0M405.1 340.7h0M405.6 341.4h0M405.7 341.2h0M405.8 342.8h0M406.2 340.7h0M406.6 341.7h0M406.7 343.0h0M407.1 341.6h0M407.4 342.5h0M407.7 341.9h0M407.7 344.0h0M407.7 341.8h0M407.9 343.2h0M408.2 345.0h0M408.4 343.0h0M408.5 343.9h0M408.7 344.6h0M409.0 344.1h0M409.5 345.8h0M410.0 344.1h0M410.0 344.7h0M410.1 344.8h0M410.2 343.5h0M410.2 344.6h0M410.3 345.2h0M410.3 345.4h0M410.6 344.8h0M411.3 344.2h0M411.5 345.6h0M411.8 346.0h0M411.9 344.5h0M412.2 345.2h0M412.4 345.4h0M412.8 343.8h0M413.6 346.4h0M413.7 345.3h0M414.8 346.8h0M414.9 345.7h0M414.9 345.0h0M415.3 344.5h0M415.3 346.4h0M415.6 344.7h0M415.7 344.7h0M415.8 345.4h0M416.3 343.3h0M416.7 345.1h0M417.3 345.5h0M418.5 343.9h0M419.0 345.4h0M419.1 342.7h0M419.4 343.0h0M420.1 343.6h0M420.1 342.8h0M420.2 342.8h0M420.2 341.7h0M421.4 342.7h0M421.5 343.2h0M421.6 343.7h0M421.7 342.3h0M421.8 343.1h0M422.4 341.5h0M422.7 340.8h0M423.0 341.1h0M423.1 341.4h0M423.3 339.5h0M423.6 340.4h0M424.3 339.3h0M424.6 338.3h0M424.7 340.0h0M424.9 339.5h0M425.8 335.7h0M425.9 337.7h0M426.4 337.7h0M426.5 337.0h0M427.0 336.6h0M427.4 336.5h0M427.5 335.8h0M427.9 335.0h0M428.5 334.2h0M428.9 333.2h0M429.4 334.3h0M429.5 334.0h0M429.8 331.8h0M431.6 330.2h0M431.7 328.7h0M432.3 328.6h0M432.3 329.8h0M432.9 327.6h0M433.0 328.6h0M433.3 327.2h0M433.3 326.4h0M433.4 325.5h0M433.6 326.9h0M433.7 326.3h0M434.4 325.5h0M435.4 323.8h0M435.5 326.2h0M436.3 323.5h0M436.9 322.1h0M437.1 321.7h0M437.1 322.6h0M438.0 320.3h0M438.0 320.0h0M438.2 320.6h0M438.2 320.8h0M438.7 320.3h0M438.9 319.6h0M439.3 318.4h0M439.3 318.1h0M439.6 319.3h0M439.6 319.6h0M439.7 319.4h0M440.2 317.4h0M440.3 318.0h0M440.6 317.5h0M441.2 316.7h0M442.2 315.8h0M442.3 316.2h0M443.0 316.2h0M443.1 315.8h0M443.2 315.1h0M443.2 314.9h0M443.3 315.4h0M443.9 315.0h0M444.2 313.4h0M444.3 314.7h0M444.4 314.1h0M444.8 314.2h0M445.6 314.1h0M446.1 314.4h0M446.6 313.3h0M446.8 313.4h0M446.9 312.1h0M446.9 313.6h0M447.1 313.0h0M447.2 312.2h0M447.5 312.6h0M447.6 312.1h0M447.7 311.8h0M448.1 313.6h0M448.6 312.5h0M448.8 312.9h0M449.1 311.0h0M449.4 312.1h0M449.4 311.6h0M449.6 310.7h0M449.7 312.2h0M449.7 311.9h0M449.7 311.6h0M449.9 312.2h0M450.3 311.0h0M450.3 311.3h0M450.4 311.1h0M451.0 311.9h0M451.2 312.2h0M451.8 312.3h0M452.1 312.3h0M452.5 313.4h0M452.8 311.9h0M452.9 311.6h0M453.1 312.3h0M454.4 313.1h0M454.4 312.7h0M454.5 312.6h0M454.5 312.6h0M455.1 311.7h0M455.2 313.8h0M455.7 313.1h0M455.8 313.0h0M456.0 313.6h0M456.1 313.9h0M456.3 314.6h0M456.4 314.3h0M456.5 313.4h0M457.0 313.2h0M457.0 314.9h0M457.1 314.1h0M457.2 314.1h0M458.2 314.5h0M458.3 315.2h0M458.6 315.4h0M459.0 315.4h0M459.1 317.0h0M459.1 316.1h0M459.6 317.9h0M459.6 318.1h0M460.3 317.9h0M460.4 318.6h0M460.4 317.1h0M461.1 317.5h0M461.6 319.0h0M461.6 318.9h0M461.6 319.0h0M461.6 319.0h0M462.3 319.5h0M462.4 319.5h0M462.7 320.4h0M462.9 320.9h0M463.1 321.0h0M463.4 320.4h0M463.7 321.6h0M463.7 320.3h0M463.8 321.7h0M463.9 320.6h0M464.4 323.2h0M464.5 323.0h0M464.8 322.5h0M465.3 323.1h0M465.5 323.9h0M465.9 322.8h0M466.0 324.4h0M466.3 324.6h0M466.3 325.3h0M466.5 324.0h0M466.6 324.6h0M466.9 325.5h0M466.9 327.0h0M467.2 325.8h0M467.2 326.5h0M467.2 325.9h0M467.2 325.5h0M467.5 327.1h0M467.6 326.5h0M468.2 327.0h0M468.4 327.7h0M468.8 328.8h0M469.1 329.6h0M469.5 329.9h0M469.6 330.5h0M469.9 329.3h0M470.0 330.1h0M470.5 331.8h0M470.5 330.9h0M470.6 332.1h0M470.8 333.8h0M470.8 330.5h0M471.0 330.7h0M471.4 333.2h0M471.7 333.1h0M472.0 332.9h0M472.3 333.8h0M472.4 334.2h0M472.7 334.4h0M473.1 334.7h0M473.1 335.0h0M473.1 334.4h0M473.5 335.3h0M473.7 335.9h0M473.7 335.3h0M474.0 336.9h0M475.2 336.1h0M475.5 339.0h0M475.5 337.8h0M475.7 337.7h0M475.9 337.8h0M476.0 338.0h0M476.0 337.3h0M476.2 339.3h0M476.3 338.6h0M476.3 338.5h0M476.4 339.0h0M476.6 339.4h0M476.7 338.1h0M477.2 340.2h0M477.4 340.1h0M477.7 340.3h0M478.5 341.1h0M478.8 341.1h0M478.9 341.5h0M479.2 341.4h0M479.3 341.6h0M480.0 341.9h0M480.1 341.4h0M480.2 343.1h0M480.2 341.3h0M480.5 343.1h0M480.9 342.6h0M481.0 343.0h0M481.0 343.4h0M481.2 344.8h0M481.3 342.1h0M481.3 343.9h0M481.6 344.2h0M482.2 343.2h0M482.4 344.0h0M482.5 342.7h0M482.6 342.9h0M482.6 343.7h0M482.9 344.1h0M483.0 343.9h0M483.1 345.4h0M483.3 344.4h0M483.9 344.7h0M484.2 345.3h0M484.2 344.8h0M484.5 346.1h0M484.6 344.4h0M484.8 344.2h0M485.0 346.2h0M485.8 345.3h0M486.6 344.3h0M486.7 345.2h0M486.8 346.3h0M487.5 346.3h0M487.6 344.9h0M487.9 344.1h0M488.2 346.3h0M488.4 345.4h0M488.8 346.0h0M489.3 345.5h0M490.7 344.6h0M490.9 344.8h0M490.9 345.2h0M491.1 343.1h0M491.4 344.6h0M491.6 344.5h0M492.5 343.0h0M492.5 343.9h0M492.7 343.9h0M493.3 342.6h0M493.4 344.0h0M493.5 342.7h0M493.7 342.3h0M493.8 342.5h0M493.9 343.1h0M494.4 342.5h0M494.5 343.7h0M495.1 342.0h0M495.1 341.7h0M495.5 340.9h0M495.6 341.3h0M495.7 341.7h0M495.7 342.0h0M495.7 341.3h0M497.2 339.7h0M497.6 338.4h0M497.7 339.2h0M497.9 339.4h0M499.3 337.4h0M499.5 337.5h0M499.7 337.0h0M499.8 338.3h0M500.1 337.5h0M500.6 336.6h0M501.0 334.9h0M501.3 334.8h0M502.9 332.5h0M502.9 331.7h0M503.3 332.8h0M504.0 330.2h0M504.4 330.1h0M504.7 330.6h0M505.1 328.4h0M505.4 330.1h0M505.6 329.5h0M505.7 328.8h0M505.8 328.1h0M505.9 328.5h0M506.0 329.7h0M506.7 327.4h0M89.9 292.8h0M90.2 294.4h0M89.9 294.7h0M90.4 295.0h0M90.5 295.2h0M90.3 296.4h0M90.4 296.6h0M89.9 297.8h0M90.4 298.5h0M90.8 298.9h0M90.8 299.8h0M89.8 300.3h0M90.1 300.9h0M90.6 302.4h0M90.4 302.7h0M90.1 303.1h0M90.8 303.6h0M90.9 304.7h0M90.4 305.5h0M89.9 306.3h0M90.9 307.2h0M90.3 307.5h0M90.1 307.7h0M89.8 309.4h0M90.9 309.8h0M90.6 310.4h0M89.7 311.3h0M89.9 311.0h0M90.9 312.1h0M89.7 312.7h0M90.5 314.0h0M90.4 313.9h0M90.3 314.8h0M90.6 316.2h0M90.1 316.6h0M90.5 316.9h0M90.8 318.4h0M90.4 317.9h0M90.3 319.3h0M90.5 319.7h0M89.9 320.7h0M90.1 321.1h0M90.6 321.6h0M90.4 322.6h0M89.8 322.8h0M90.8 324.1h0M90.2 324.5h0M89.9 325.6h0M89.8 325.9h0M90.9 326.5h0M90.6 327.5h0M90.0 328.5h0M89.9 328.1h0M90.8 329.5h0M89.8 330.4h0M90.3 330.4h0M123.2 326.9h0M123.6 327.7h0M123.3 328.4h0M123.6 328.9h0M123.0 330.5h0M123.6 331.2h0M123.6 332.1h0M123.9 333.6h0M123.6 334.1h0M123.8 334.5h0M123.2 335.8h0M123.6 335.9h0M123.3 337.7h0M124.0 338.3h0M124.0 339.0h0M123.2 340.1h0M123.6 341.2h0M123.1 341.4h0M123.5 342.1h0M124.0 344.0h0M123.1 344.2h0M123.7 345.5h0M123.5 345.6h0M124.0 346.9h0M123.4 347.4h0M123.8 348.7h0M123.6 349.2h0M123.8 349.9h0M123.9 351.5h0M123.6 352.0h0M123.3 352.0h0M123.6 353.5h0M123.8 354.1h0M123.8 354.9h0M123.6 355.9h0M123.5 356.8h0M123.1 357.9h0M123.1 358.4h0M123.6 358.9h0M123.4 360.2h0M123.7 361.6h0M123.5 361.7h0M123.4 316.0h0M123.2 365.1h0M123.2 368.2h0M123.6 371.2h0M159.6 300.8h0M160.3 300.6h0M160.3 301.5h0M159.6 302.8h0M159.9 303.6h0M159.7 304.5h0M159.6 304.6h0M160.2 305.9h0M160.1 306.3h0M159.5 306.9h0M160.1 307.7h0M159.4 308.8h0M159.5 309.4h0M159.8 310.2h0M159.4 310.3h0M159.9 311.2h0M160.1 311.6h0M159.7 312.5h0M160.1 313.2h0M159.5 313.9h0M159.5 315.0h0M159.9 315.6h0M159.4 316.4h0M160.2 316.9h0M160.3 317.9h0M159.4 318.3h0M160.2 319.3h0M160.0 319.8h0M160.4 320.6h0M160.2 321.0h0M160.3 321.3h0M160.3 321.9h0M160.3 323.8h0M160.2 323.9h0M160.3 324.6h0M159.5 325.1h0M160.2 325.7h0M160.1 327.6h0M159.8 326.9h0M159.8 327.9h0M159.5 328.6h0M159.7 329.0h0M160.1 329.6h0M160.0 330.5h0M160.3 331.3h0M159.7 332.0h0M159.6 333.1h0M160.1 282.4h0M160.1 294.8h0M160.1 297.8h0M222.2 296.4h0M222.5 297.3h0M222.9 298.1h0M222.4 298.3h0M222.6 298.6h0M222.4 300.4h0M222.7 300.7h0M222.6 301.0h0M222.8 301.9h0M223.0 302.4h0M222.8 302.6h0M222.6 303.8h0M222.3 304.1h0M222.5 305.3h0M222.9 305.9h0M223.0 307.0h0M222.1 307.3h0M222.7 308.1h0M222.0 308.6h0M222.1 309.2h0M222.4 309.6h0M222.1 311.1h0M222.7 311.5h0M222.5 311.9h0M222.4 312.9h0M222.9 313.4h0M222.4 313.9h0M222.2 315.0h0M222.3 316.0h0M222.0 316.1h0M222.7 316.4h0M222.6 317.4h0M222.4 318.9h0M222.8 318.7h0M222.3 320.1h0M222.2 320.3h0M222.0 321.3h0M222.2 321.7h0M222.4 321.9h0M222.3 323.0h0M222.4 324.5h0M222.1 324.4h0M222.0 325.4h0M222.7 325.7h0M222.4 326.5h0M222.8 327.3h0M222.8 328.1h0M222.4 329.4h0M222.5 329.3h0M222.8 329.9h0M222.1 330.4h0M222.8 330.9h0M222.2 335.0h0M222.5 345.7h0M253.8 318.2h0M253.5 318.5h0M253.3 319.7h0M253.1 320.2h0M253.5 320.7h0M254.0 322.3h0M253.1 322.2h0M253.3 323.8h0M253.6 324.1h0M253.2 324.7h0M253.4 325.5h0M253.9 326.3h0M253.3 327.0h0M253.4 328.2h0M253.4 328.2h0M253.3 330.1h0M253.9 330.7h0M254.0 331.7h0M253.7 331.6h0M253.4 331.9h0M253.3 333.3h0M253.8 334.2h0M253.8 335.2h0M253.9 335.7h0M253.2 336.6h0M253.3 337.4h0M253.4 337.6h0M253.5 339.6h0M253.9 339.3h0M253.2 340.6h0M253.4 341.6h0M253.2 341.7h0M253.9 342.8h0M253.8 344.1h0M253.9 344.2h0M253.9 347.1h0M253.5 349.7h0M289.3 306.7h0M288.9 307.6h0M288.7 308.0h0M289.0 308.8h0M289.0 309.9h0M288.6 310.4h0M289.2 310.9h0M288.9 311.4h0M289.2 312.8h0M288.7 312.8h0M288.7 313.8h0M288.6 314.0h0M289.4 314.9h0M289.2 315.8h0M288.8 316.3h0M288.6 317.3h0M288.8 317.8h0M289.3 318.0h0M289.4 318.4h0M288.7 320.2h0M289.4 320.4h0M288.7 321.8h0M288.5 321.9h0M288.6 322.4h0M288.5 323.5h0M288.7 323.9h0M289.3 324.7h0M289.0 325.0h0M289.3 326.3h0M288.6 327.1h0M289.2 327.2h0M288.6 328.7h0M288.8 328.6h0M289.4 329.6h0M289.2 329.6h0M289.2 330.2h0M289.1 332.3h0M288.9 332.7h0M289.1 333.3h0M288.9 333.0h0M289.3 334.4h0M289.2 335.1h0M289.4 335.7h0M289.3 336.5h0M289.3 336.7h0M288.6 337.7h0M288.5 338.0h0M288.9 339.0h0M289.4 339.9h0M289.1 340.2h0M289.1 341.1h0M289.3 341.7h0M289.0 301.3h0M316.7 312.8h0M317.0 313.1h0M317.1 314.1h0M316.6 314.0h0M317.4 314.7h0M316.6 315.6h0M316.4 316.0h0M316.9 316.7h0M316.9 316.9h0M316.6 318.3h0M316.9 318.7h0M316.7 319.6h0M317.2 319.9h0M316.9 320.1h0M316.9 321.6h0M316.5 322.5h0M317.3 322.3h0M316.7 323.1h0M317.0 324.0h0M317.2 324.7h0M316.9 324.9h0M316.7 326.8h0M317.0 327.2h0M317.1 327.3h0M316.5 327.6h0M316.7 329.0h0M316.6 330.2h0M316.4 330.5h0M317.0 331.3h0M317.4 331.3h0M316.7 332.4h0M317.3 332.4h0M316.8 334.3h0M316.8 306.4h0M352.3 329.7h0M352.0 330.7h0M352.3 331.2h0M352.3 332.0h0M352.3 332.4h0M351.9 333.4h0M351.8 334.1h0M351.7 335.9h0M352.0 335.5h0M352.1 336.4h0M352.4 337.6h0M352.5 338.8h0M352.2 338.5h0M352.1 339.3h0M351.8 340.7h0M352.1 341.5h0M351.8 341.7h0M352.4 342.3h0M351.7 343.4h0M351.9 344.8h0M351.7 345.2h0M351.7 346.3h0M352.3 346.8h0M351.7 347.6h0M351.8 348.6h0M351.5 349.1h0M352.4 350.0h0M352.4 350.3h0M351.9 351.2h0M352.0 320.4h0M352.2 325.8h0M383.1 300.6h0M383.4 301.4h0M383.8 301.4h0M383.7 302.5h0M384.0 302.6h0M383.3 304.6h0M383.6 305.1h0M383.2 305.6h0M383.8 306.4h0M383.2 307.4h0M384.0 307.7h0M383.6 307.5h0M383.6 308.7h0M383.5 308.6h0M383.5 309.8h0M384.0 310.3h0M383.9 311.5h0M383.5 312.3h0M383.9 312.5h0M383.5 313.4h0M383.2 314.3h0M383.3 314.8h0M383.5 315.5h0M383.5 315.4h0M383.3 316.8h0M383.8 317.9h0M383.3 318.4h0M383.8 318.4h0M383.6 319.6h0M383.7 320.4h0M384.0 320.7h0M383.8 321.9h0M383.7 322.1h0M383.8 322.9h0M383.6 323.7h0M384.1 325.2h0M383.9 325.0h0M383.3 325.6h0M383.3 326.7h0M383.5 327.0h0M384.0 327.9h0M383.2 327.7h0M449.7 290.5h0M449.8 290.2h0M449.4 291.2h0M449.4 291.9h0M449.4 292.3h0M450.0 293.4h0M450.2 293.8h0M450.2 294.4h0M449.8 295.2h0M450.0 295.6h0M449.3 297.0h0M449.5 297.5h0M450.1 298.3h0M449.5 298.2h0M449.4 299.5h0M449.6 299.8h0M450.0 300.8h0M450.2 301.9h0M449.2 302.2h0M449.8 302.8h0M450.0 303.9h0M450.0 304.6h0M450.1 305.6h0M449.8 305.0h0M450.0 306.5h0M449.6 306.9h0M449.8 307.4h0M449.7 308.5h0M449.6 308.7h0M449.6 309.0h0M449.9 310.2h0M449.4 311.1h0M450.0 312.6h0M449.9 312.4h0M449.4 312.9h0M449.5 313.3h0M450.0 314.6h0M449.6 315.3h0M450.0 316.1h0M449.6 316.3h0M450.2 317.2h0M449.6 317.4h0M450.2 318.9h0M449.6 319.0h0M449.6 319.3h0M449.4 321.4h0M450.0 321.8h0M449.3 322.5h0M450.0 323.2h0M449.7 323.4h0M450.1 324.8h0M449.8 324.8h0M450.1 326.5h0M449.7 326.6h0M449.4 326.6h0M449.5 334.4h0M481.2 316.9h0M480.8 317.5h0M481.3 318.4h0M480.8 319.4h0M481.6 320.4h0M481.2 321.5h0M481.4 322.3h0M481.6 323.3h0M481.5 323.9h0M481.5 324.5h0M481.5 325.0h0M481.1 326.3h0M480.7 327.0h0M481.0 327.5h0M481.4 329.6h0M481.0 329.3h0M481.7 330.9h0M481.0 331.9h0M481.4 332.5h0M480.8 334.3h0M481.2 334.3h0M481.5 334.9h0M481.6 336.6h0M480.8 336.6h0M481.5 337.3h0M481.7 338.3h0M480.7 339.3h0M481.5 340.4h0M480.7 341.4h0M481.4 341.6h0M481.7 343.1h0M480.8 344.7h0M481.4 344.5h0M480.8 345.6h0M481.3 346.7h0M481.0 347.8h0M481.3 348.0h0M481.5 348.8h0M480.9 349.6h0M481.0 351.2h0M480.8 352.0h0M481.1 351.8h0M480.8 352.7h0M480.7 353.9h0M481.4 354.7h0M481.4 356.2h0M480.7 357.0h0M481.4 358.5h0M481.4 308.8h0M481.3 360.8h0M481.3 363.3h0M480.8 365.4h0M481.6 378.6h0" fill="none" stroke="#1f77b4" stroke-width="3.7" stroke-linecap="round"/>
<path d="M112.58 274.59V383.94M203.34 274.59V383.94M294.10 274.59V383.94M384.86 274.59V383.94M475.62 274.59V383.94M44.50 282.10H543.70M44.50 305.42H543.70M44.50 328.74H543.70M44.50 352.06H543.70M44.50 375.38H543.70" stroke="#b0b0b0" stroke-width="0.68" fill="none"/>
<path d="M67.3 327.0L69.1 324.4L71.0 321.9L72.8 319.6L74.7 317.5L76.5 315.7L78.3 314.2L80.2 313.0L82.0 312.3L83.8 312.0L85.7 312.0L87.5 312.5L89.4 313.4L91.2 314.7L93.0 316.3L94.9 318.3L96.7 320.5L98.6 322.9L100.4 325.4L102.2 328.0L104.1 330.7L105.9 333.3L107.7 335.8L109.6 338.1L111.4 340.1L113.3 341.9L115.1 343.4L116.9 344.5L118.8 345.2L120.6 345.5L122.5 345.4L124.3 344.9L126.1 344.0L128.0 342.7L129.8 341.0L131.6 339.0L133.5 336.8L135.3 334.4L137.2 331.9L139.0 329.2L140.8 326.6L142.7 324.0L144.5 321.5L146.4 319.2L148.2 317.2L150.0 315.4L151.9 314.0L153.7 312.9L155.5 312.2L157.4 311.9L159.2 312.1L161.1 312.6L162.9 313.6L164.7 314.9L166.6 316.6L168.4 318.6L170.3 320.8L172.1 323.3L173.9 325.8L175.8 328.4L177.6 331.1L179.4 333.7L181.3 336.1L183.1 338.4L185.0 340.4L186.8 342.2L188.6 343.6L190.5 344.7L192.3 345.3L194.2 345.5L196.0 345.4L197.8 344.8L199.7 343.8L201.5 342.4L203.3 340.7L205.2 338.7L207.0 336.5L208.9 334.0L210.7 331.5L212.5 328.8L214.4 326.2L216.2 323.6L218.1 321.2L219.9 318.9L221.7 316.9L223.6 315.2L225.4 313.8L227.2 312.8L229.1 312.1L230.9 311.9L232.8 312.2L234.6 312.8L236.4 313.8L238.3 315.2L240.1 316.9L242.0 318.9L243.8 321.2L245.6 323.6L247.5 326.2L249.3 328.9L251.1 331.5L253.0 334.1L254.8 336.5L256.7 338.7L258.5 340.7L260.3 342.4L262.2 343.8L264.0 344.8L265.9 345.4L267.7 345.5L269.5 345.3L271.4 344.6L273.2 343.6L275.0 342.2L276.9 340.4L278.7 338.4L280.6 336.1L282.4 333.6L284.2 331.0L286.1 328.4L287.9 325.8L289.8 323.2L291.6 320.8L293.4 318.6L295.3 316.6L297.1 314.9L299.0 313.6L300.8 312.6L302.6 312.1L304.5 311.9L306.3 312.2L308.1 312.9L310.0 314.0L311.8 315.4L313.7 317.2L315.5 319.3L317.3 321.6L319.2 324.0L321.0 326.6L322.9 329.3L324.7 331.9L326.5 334.5L328.4 336.9L330.2 339.1L332.0 341.0L333.9 342.7L335.7 344.0L337.6 344.9L339.4 345.4L341.2 345.5L343.1 345.2L344.9 344.5L346.8 343.4L348.6 341.9L350.4 340.1L352.3 338.0L354.1 335.7L355.9 333.2L357.8 330.6L359.6 328.0L361.5 325.4L363.3 322.8L365.1 320.4L367.0 318.2L368.8 316.3L370.7 314.7L372.5 313.4L374.3 312.5L376.2 312.0L378.0 312.0L379.8 312.3L381.7 313.1L383.5 314.2L385.4 315.7L387.2 317.5L389.0 319.6L390.9 322.0L392.7 324.4L394.6 327.1L396.4 329.7L398.2 332.3L400.1 334.9L401.9 337.2L403.7 339.4L405.6 341.3L407.4 342.9L409.3 344.1L411.1 345.0L412.9 345.5L414.8 345.5L416.6 345.1L418.5 344.3L420.3 343.2L422.1 341.7L424.0 339.8L425.8 337.7L427.6 335.3L429.5 332.8L431.3 330.2L433.2 327.6L435.0 325.0L436.8 322.4L438.7 320.1L440.5 317.9L442.4 316.0L444.2 314.5L446.0 313.2L447.9 312.4L449.7 312.0L451.5 312.0L453.4 312.4L455.2 313.2L457.1 314.4L458.9 316.0L460.7 317.8L462.6 320.0L464.4 322.3L466.3 324.9L468.1 327.5L469.9 330.1L471.8 332.7L473.6 335.2L475.4 337.6L477.3 339.7L479.1 341.6L481.0 343.1L482.8 344.3L484.6 345.1L486.5 345.5L488.3 345.5L490.2 345.0L492.0 344.2L493.8 343.0L495.7 341.4L497.5 339.5L499.3 337.3L501.2 335.0L503.0 332.4L504.9 329.8L506.7 327.2" stroke="#0000ff" stroke-width="1.4" fill="none" stroke-linejoin="round" stroke-linecap="square"/>
<path d="M112.58 383.94v3M203.34 383.94v3M294.10 383.94v3M384.86 383.94v3M475.62 383.94v3M44.50 282.10h-3M44.50 305.42h-3M44.50 328.74h-3M44.50 352.06h-3M44.50 375.38h-3" stroke="#000" stroke-width="0.68" fill="none"/>
<rect x="44.50" y="274.59" width="499.20" height="109.35" fill="none" stroke="#000" stroke-width="0.68"/>
<text x="112.58" y="396.44" text-anchor="middle">−0.04</text>
<text x="203.34" y="396.44" text-anchor="middle">−0.02</text>
<text x="294.10" y="396.44" text-anchor="middle">0.00</text>
<text x="384.86" y="396.44" text-anchor="middle">0.02</text>
<text x="475.62" y="396.44" text-anchor="middle">0.04</text>
<text x="38.20" y="285.50" text-anchor="end">40</text>
<text x="38.20" y="308.82" text-anchor="end">20</text>
<text x="38.20" y="332.14" text-anchor="end">0</text>
<text x="38.20" y="355.46" text-anchor="end">−20</text>
<text x="38.20" y="378.78" text-anchor="end">−40</text>
<text transform="translate(15.1 329.27) rotate(-90)" text-anchor="middle">V [mV]</text>
<rect x="48.70" y="278.84" width="227.80" height="27.9" rx="1.7" fill="#fff" fill-opacity="0.8" stroke="#ccc" stroke-opacity="0.8" stroke-width="0.85"/>
<circle cx="61.0" cy="286.84" r="1.9" fill="#1f77b4"/>
<path d="M51.3 298.54H69.8" stroke="#0000ff" stroke-width="1.4"/>
<text x="76.3" y="288.74">Raw signal - windowed, precise offset removal</text>
<text x="76.3" y="301.54">NLSQ fit 2</text>
</g>
<g>
<path d="M68.3 458.9L69.8 456.8L71.2 454.9L72.7 453.0L74.2 451.3L75.6 449.8L77.1 448.4L78.5 447.3L80.0 446.4L81.5 445.7L82.9 445.3L84.4 445.2L85.9 445.3L87.3 445.7L88.8 446.4L90.2 447.3L91.7 448.4L93.2 449.7L94.6 451.3L96.1 453.0L97.6 454.8L99.0 456.8L100.5 458.8L101.9 460.9L103.4 463.0L104.9 465.1L106.3 467.1L107.8 469.1L109.3 470.9L110.7 472.7L112.2 474.2L113.6 475.5L115.1 476.7L116.6 477.6L118.0 478.3L119.5 478.7L121.0 478.8L122.4 478.7L123.9 478.3L125.4 477.7L126.8 476.8L128.3 475.7L129.7 474.3L131.2 472.8L132.7 471.1L134.1 469.3L135.6 467.3L137.1 465.3L138.5 463.2L140.0 461.1L141.4 459.0L142.9 457.0L144.4 455.0L145.8 453.1L147.3 451.4L148.8 449.9L150.2 448.5L151.7 447.4L153.1 446.5L154.6 445.8L156.1 445.4L157.5 445.2L159.0 445.3L160.5 445.7L161.9 446.3L163.4 447.2L164.8 448.3L166.3 449.6L167.8 451.1L169.2 452.8L170.7 454.7L172.2 456.6L173.6 458.6L175.1 460.7L176.6 462.8L178.0 464.9L179.5 467.0L180.9 469.0L182.4 470.8L183.9 472.5L185.3 474.1L186.8 475.5L188.3 476.6L189.7 477.5L191.2 478.2L192.6 478.6L194.1 478.8L195.6 478.7L197.0 478.3L198.5 477.7L200.0 476.9L201.4 475.8L202.9 474.4L204.3 472.9L205.8 471.3L207.3 469.4L208.7 467.5L210.2 465.4L211.7 463.4L213.1 461.3L214.6 459.2L216.1 457.1L217.5 455.1L219.0 453.3L220.4 451.5L221.9 450.0L223.4 448.6L224.8 447.4L226.3 446.5L227.8 445.8L229.2 445.4L230.7 445.2L232.1 445.3L233.6 445.7L235.1 446.3L236.5 447.1L238.0 448.2L239.5 449.5L240.9 451.0L242.4 452.7L243.8 454.5L245.3 456.5L246.8 458.5L248.2 460.6L249.7 462.7L251.2 464.8L252.6 466.8L254.1 468.8L255.5 470.7L257.0 472.4L258.5 474.0L259.9 475.4L261.4 476.5L262.9 477.5L264.3 478.2L265.8 478.6L267.3 478.8L268.7 478.7L270.2 478.4L271.6 477.8L273.1 476.9L274.6 475.8L276.0 474.5L277.5 473.0L279.0 471.4L280.4 469.6L281.9 467.6L283.3 465.6L284.8 463.5L286.3 461.4L287.7 459.3L289.2 457.3L290.7 455.3L292.1 453.4L293.6 451.7L295.0 450.1L296.5 448.7L298.0 447.5L299.4 446.6L300.9 445.9L302.4 445.4L303.8 445.2L305.3 445.3L306.7 445.6L308.2 446.2L309.7 447.1L311.1 448.1L312.6 449.4L314.1 450.9L315.5 452.6L317.0 454.4L318.5 456.3L319.9 458.4L321.4 460.4L322.8 462.5L324.3 464.6L325.8 466.7L327.2 468.7L328.7 470.6L330.2 472.3L331.6 473.9L333.1 475.3L334.5 476.5L336.0 477.4L337.5 478.1L338.9 478.6L340.4 478.8L341.9 478.7L343.3 478.4L344.8 477.8L346.2 477.0L347.7 475.9L349.2 474.6L350.6 473.2L352.1 471.5L353.6 469.7L355.0 467.8L356.5 465.7L357.9 463.7L359.4 461.6L360.9 459.5L362.3 457.4L363.8 455.4L365.3 453.5L366.7 451.8L368.2 450.2L369.7 448.8L371.1 447.6L372.6 446.6L374.0 445.9L375.5 445.4L377.0 445.2L378.4 445.3L379.9 445.6L381.4 446.2L382.8 447.0L384.3 448.0L385.7 449.3L387.2 450.8L388.7 452.5L390.1 454.3L391.6 456.2L393.1 458.2L394.5 460.3L396.0 462.4L397.4 464.5L398.9 466.5L400.4 468.5L401.8 470.4L403.3 472.2L404.8 473.8L406.2 475.2L407.7 476.4L409.2 477.4L410.6 478.1L412.1 478.6L413.5 478.8L415.0 478.8L416.5 478.4L417.9 477.9L419.4 477.1L420.9 476.0L422.3 474.7L423.8 473.3L425.2 471.6L426.7 469.8L428.2 467.9L429.6 465.9L431.1 463.8L432.6 461.7L434.0 459.6L435.5 457.6L436.9 455.6L438.4 453.7L439.9 451.9L441.3 450.3L442.8 448.9L444.3 447.7L445.7 446.7L447.2 446.0L448.6 445.5L450.1 445.2L451.6 445.3L453.0 445.6L454.5 446.1L456.0 446.9L457.4 448.0L458.9 449.2L460.4 450.7L461.8 452.3L463.3 454.1L464.7 456.0L466.2 458.1L467.7 460.1L469.1 462.2L470.6 464.3L472.1 466.4L473.5 468.4L475.0 470.3L476.4 472.1L477.9 473.7L479.4 475.1L480.8 476.3L482.3 477.3L483.8 478.0L485.2 478.5L486.7 478.8L488.1 478.8L489.6 478.5L491.1 477.9L492.5 477.1L494.0 476.1L495.5 474.8L496.9 473.4L498.4 471.8L499.8 470.0L501.3 468.1L502.8 466.0L504.2 464.0L505.7 461.9" fill="none" stroke="#1f77b4" stroke-width="5.7" stroke-linecap="round" stroke-linejoin="round"/>
<path d="M67.3 458.9h0M67.6 460.7h0M67.6 460.2h0M68.6 457.4h0M68.6 457.7h0M70.1 455.9h0M70.4 456.0h0M70.4 455.5h0M70.6 456.1h0M72.0 452.1h0M72.3 454.3h0M73.0 454.0h0M73.1 452.4h0M73.6 451.0h0M73.7 452.1h0M74.1 451.4h0M75.1 451.0h0M75.8 449.6h0M75.9 450.3h0M76.2 449.9h0M76.7 449.9h0M76.8 449.1h0M76.8 447.3h0M77.0 448.5h0M77.1 448.3h0M77.3 446.6h0M77.5 448.6h0M77.9 448.5h0M78.0 447.3h0M78.4 448.3h0M78.5 447.1h0M78.8 446.3h0M79.2 447.6h0M79.3 447.2h0M79.3 445.6h0M79.4 447.5h0M79.6 447.1h0M79.8 446.3h0M80.6 446.3h0M80.7 446.7h0M80.9 444.8h0M81.1 446.3h0M81.1 445.7h0M81.4 446.1h0M82.5 445.6h0M82.8 446.4h0M82.9 444.7h0M83.1 445.6h0M83.2 444.4h0M83.2 446.2h0M83.4 445.6h0M83.5 444.9h0M83.7 445.2h0M84.1 445.7h0M84.2 445.3h0M84.5 446.2h0M85.2 445.2h0M85.4 447.2h0M85.5 445.2h0M85.7 444.3h0M85.9 444.7h0M86.1 444.8h0M86.1 445.7h0M87.2 445.3h0M88.3 446.4h0M88.5 446.3h0M88.7 446.4h0M88.8 448.8h0M88.9 445.8h0M89.0 446.2h0M89.1 446.0h0M89.2 447.3h0M89.4 446.2h0M89.5 446.5h0M89.6 448.5h0M90.6 448.8h0M90.8 447.6h0M90.9 448.2h0M91.1 447.9h0M91.2 448.4h0M91.3 447.0h0M91.5 449.6h0M91.9 449.6h0M92.3 449.6h0M92.6 450.2h0M93.0 450.0h0M93.1 449.7h0M93.6 451.1h0M93.7 450.0h0M93.9 449.5h0M94.2 450.0h0M94.9 450.1h0M95.0 450.9h0M95.3 452.0h0M95.4 450.8h0M95.4 451.6h0M96.0 451.5h0M96.7 453.8h0M97.8 456.6h0M98.1 456.4h0M98.6 456.0h0M98.9 456.2h0M99.4 457.4h0M99.6 456.9h0M100.5 459.7h0M100.6 459.5h0M100.9 458.7h0M101.3 460.0h0M101.9 460.7h0M101.9 459.7h0M101.9 460.0h0M102.3 461.9h0M102.6 461.7h0M103.6 464.5h0M104.8 465.0h0M106.0 466.4h0M106.6 468.7h0M107.4 467.5h0M108.2 468.2h0M108.3 469.4h0M108.4 469.2h0M108.7 469.2h0M109.2 471.0h0M109.5 470.5h0M109.8 471.3h0M111.0 474.1h0M111.0 473.6h0M111.1 473.5h0M111.5 472.7h0M112.2 474.1h0M112.6 473.9h0M113.0 475.3h0M113.5 476.3h0M113.8 474.2h0M114.8 474.5h0M115.0 476.3h0M115.0 476.8h0M115.8 476.3h0M115.9 478.0h0M115.9 477.3h0M116.0 478.3h0M116.7 477.3h0M116.8 477.5h0M116.9 478.1h0M116.9 478.2h0M117.2 479.0h0M117.4 478.6h0M117.4 477.1h0M117.7 478.4h0M118.1 477.4h0M118.1 478.9h0M118.5 478.5h0M119.2 478.9h0M119.5 478.9h0M119.5 478.1h0M119.9 480.2h0M120.0 478.2h0M120.0 478.2h0M120.3 478.8h0M120.5 478.7h0M121.1 479.0h0M121.9 478.3h0M122.2 478.7h0M122.3 479.3h0M122.5 478.6h0M122.7 477.9h0M122.9 478.3h0M123.1 478.5h0M123.6 478.3h0M123.9 478.7h0M124.1 478.6h0M124.5 479.4h0M124.6 478.2h0M125.2 477.0h0M125.5 477.9h0M125.6 478.2h0M125.9 476.7h0M126.5 476.9h0M126.6 476.9h0M127.0 476.3h0M127.1 476.1h0M127.1 476.6h0M128.1 476.4h0M128.1 474.5h0M128.4 475.5h0M128.4 476.1h0M129.0 474.9h0M129.1 474.1h0M129.4 475.6h0M129.5 473.6h0M129.6 474.6h0M129.6 473.0h0M129.9 473.8h0M130.2 474.0h0M130.3 472.9h0M130.3 472.9h0M131.4 472.8h0M131.6 472.3h0M131.9 472.4h0M132.6 470.6h0M132.7 472.1h0M132.7 471.2h0M133.0 472.2h0M133.2 470.0h0M133.7 471.4h0M133.8 470.5h0M134.6 468.5h0M134.6 468.9h0M135.3 468.0h0M135.5 468.2h0M135.6 467.6h0M135.7 468.5h0M135.7 467.0h0M136.0 466.2h0M136.1 466.1h0M136.1 466.7h0M136.1 465.8h0M136.3 466.0h0M136.5 465.5h0M138.0 463.7h0M138.3 463.5h0M138.9 463.3h0M139.5 463.7h0M140.3 460.1h0M141.1 459.6h0M141.2 457.9h0M141.9 459.8h0M142.0 457.6h0M142.2 458.6h0M142.9 457.0h0M142.9 457.6h0M143.2 456.3h0M143.3 456.4h0M144.1 454.8h0M144.3 455.0h0M144.3 454.7h0M144.8 453.5h0M145.2 453.6h0M145.2 454.0h0M145.2 453.0h0M145.4 453.8h0M145.4 453.3h0M146.3 452.8h0M146.9 452.3h0M147.1 453.7h0M147.2 451.0h0M147.3 452.2h0M147.5 450.7h0M147.5 449.9h0M147.5 452.1h0M148.4 449.6h0M149.2 449.5h0M149.6 448.8h0M150.0 449.6h0M150.0 448.6h0M150.2 448.4h0M150.2 447.5h0M150.5 446.7h0M150.8 447.8h0M151.2 448.0h0M152.3 445.3h0M152.7 446.8h0M153.1 446.5h0M153.5 446.2h0M154.5 445.5h0M155.2 445.1h0M155.3 445.9h0M155.5 445.6h0M156.7 443.9h0M156.7 444.1h0M156.8 444.9h0M157.3 445.0h0M157.4 445.4h0M157.8 444.5h0M158.2 445.6h0M158.2 445.1h0M158.4 445.6h0M158.8 445.7h0M159.1 445.3h0M159.4 445.4h0M159.6 445.8h0M159.7 445.5h0M159.8 445.4h0M160.5 446.0h0M160.7 446.2h0M160.9 445.9h0M161.4 445.5h0M161.7 445.4h0M161.8 446.1h0M162.5 446.8h0M162.7 446.8h0M162.8 445.4h0M162.8 446.1h0M163.2 447.7h0M163.5 447.3h0M163.7 447.8h0M164.0 447.8h0M164.0 448.8h0M164.1 447.7h0M164.1 448.7h0M165.0 448.9h0M166.3 448.5h0M166.5 449.0h0M167.2 451.1h0M167.2 451.3h0M167.3 451.2h0M167.5 452.2h0M167.7 451.8h0M167.9 451.4h0M168.7 452.9h0M169.3 452.4h0M169.5 453.2h0M169.6 453.7h0M169.6 452.1h0M169.8 452.9h0M171.1 455.2h0M171.4 454.3h0M171.4 454.7h0M171.8 456.6h0M172.5 456.9h0M172.6 457.5h0M173.0 458.8h0M173.3 456.8h0M173.5 457.4h0M173.6 459.5h0M173.6 458.3h0M174.4 460.9h0M175.0 459.8h0M175.1 460.7h0M175.3 461.2h0M175.6 460.5h0M175.7 461.5h0M175.8 461.9h0M176.2 461.6h0M176.2 462.5h0M176.7 462.4h0M177.2 463.7h0M177.3 463.4h0M177.4 463.6h0M178.0 464.3h0M178.0 465.6h0M178.0 463.6h0M178.5 465.7h0M178.5 464.3h0M178.7 466.3h0M178.7 466.1h0M179.2 466.8h0M179.3 465.9h0M179.9 467.9h0M180.0 467.3h0M180.0 468.8h0M180.2 468.3h0M180.3 467.9h0M180.3 468.2h0M180.5 469.7h0M180.7 468.2h0M180.8 469.5h0M181.1 467.8h0M181.2 469.5h0M181.5 468.1h0M181.6 469.3h0M181.7 469.6h0M181.7 470.3h0M182.6 471.1h0M182.8 471.0h0M183.1 473.0h0M183.4 471.2h0M184.9 474.5h0M185.6 474.5h0M186.1 476.8h0M186.1 474.5h0M186.2 474.4h0M186.6 475.1h0M186.7 475.2h0M187.1 476.0h0M187.5 475.9h0M187.6 475.2h0M188.1 476.8h0M188.2 476.2h0M188.2 476.0h0M188.2 476.7h0M188.5 476.6h0M188.6 476.7h0M188.7 477.2h0M188.9 475.3h0M189.1 477.5h0M189.2 476.0h0M189.2 476.5h0M189.6 478.9h0M189.8 477.4h0M190.1 477.0h0M190.6 477.4h0M190.7 478.7h0M191.1 478.0h0M191.4 479.1h0M191.4 479.0h0M191.7 478.5h0M192.0 478.3h0M192.0 477.3h0M192.4 478.3h0M192.4 477.8h0M192.5 479.5h0M192.5 479.4h0M193.6 479.1h0M193.9 477.5h0M194.4 479.8h0M194.6 479.9h0M194.8 478.8h0M195.1 477.9h0M195.1 479.9h0M195.3 478.9h0M195.3 479.7h0M195.4 477.7h0M195.5 478.2h0M195.5 478.5h0M195.8 478.7h0M196.1 478.8h0M196.1 478.5h0M196.5 479.0h0M196.5 479.1h0M196.7 479.2h0M197.1 478.3h0M197.2 478.9h0M197.4 477.6h0M197.9 479.5h0M198.0 477.6h0M198.4 477.4h0M198.5 476.8h0M199.2 477.5h0M199.2 478.4h0M199.5 477.9h0M199.7 476.2h0M199.8 477.2h0M200.2 477.0h0M200.7 476.8h0M201.5 475.7h0M201.7 475.7h0M201.8 476.6h0M202.8 474.9h0M202.9 473.7h0M203.4 472.9h0M203.5 473.9h0M203.6 474.1h0M203.9 472.4h0M203.9 473.5h0M204.0 474.2h0M204.6 472.8h0M204.8 471.9h0M204.9 471.2h0M205.0 472.6h0M205.1 471.6h0M205.9 471.3h0M206.0 470.1h0M206.2 470.6h0M206.2 470.6h0M206.2 471.5h0M206.5 470.6h0M208.4 468.1h0M209.1 469.6h0M209.1 466.4h0M209.3 466.8h0M209.7 466.3h0M210.1 465.8h0M210.3 465.3h0M210.4 465.0h0M210.7 465.7h0M211.3 463.8h0M211.3 463.8h0M212.2 462.6h0M212.4 463.4h0M212.5 462.2h0M212.6 462.9h0M212.7 461.6h0M212.9 460.7h0M212.9 460.9h0M212.9 461.7h0M213.1 461.6h0M213.2 461.5h0M214.2 459.4h0M214.5 459.8h0M215.3 458.5h0M215.8 459.3h0M215.8 458.0h0M216.1 457.6h0M216.2 457.3h0M216.8 455.1h0M217.0 456.8h0M217.1 456.6h0M217.3 455.0h0M217.4 456.0h0M218.6 453.8h0M218.7 453.5h0M219.1 453.1h0M219.2 453.6h0M219.3 452.2h0M219.6 451.4h0M219.7 453.1h0M219.7 452.6h0M219.9 451.5h0M220.1 452.1h0M220.1 452.6h0M220.7 451.5h0M220.9 450.4h0M221.0 451.6h0M221.5 450.2h0M221.9 449.7h0M222.2 450.1h0M222.3 449.1h0M222.9 448.6h0M223.1 448.1h0M223.1 448.2h0M223.2 449.9h0M223.3 448.0h0M223.4 448.2h0M224.5 447.0h0M225.3 447.7h0M225.5 446.3h0M226.1 446.3h0M226.2 447.4h0M226.4 445.5h0M226.8 446.8h0M227.4 446.7h0M227.6 445.6h0M227.8 446.2h0M228.0 445.5h0M228.1 445.9h0M228.1 445.5h0M228.1 445.1h0M228.3 445.6h0M228.3 445.0h0M228.6 444.9h0M228.9 446.1h0M229.1 444.8h0M229.2 444.9h0M229.7 445.2h0M229.7 444.5h0M229.7 444.1h0M229.8 444.7h0M229.9 446.3h0M229.9 444.9h0M229.9 445.4h0M230.0 445.5h0M230.1 445.0h0M230.6 445.4h0M230.6 444.0h0M231.2 445.0h0M231.3 445.2h0M231.3 444.6h0M231.4 444.6h0M232.3 444.5h0M232.7 444.9h0M233.0 445.5h0M233.3 445.5h0M233.3 447.1h0M233.6 446.7h0M233.6 444.9h0M233.9 446.0h0M234.0 444.5h0M234.1 444.5h0M234.3 446.8h0M234.3 445.7h0M234.4 443.9h0M234.8 446.7h0M235.0 446.0h0M235.1 446.4h0M235.3 446.5h0M235.4 446.6h0M235.5 446.5h0M235.7 446.0h0M236.1 447.4h0M236.1 446.5h0M236.3 447.5h0M236.4 446.7h0M236.7 447.0h0M236.7 447.8h0M237.2 447.5h0M238.3 449.0h0M238.6 449.3h0M238.6 447.8h0M238.7 450.2h0M239.2 448.9h0M239.7 449.3h0M240.2 450.7h0M240.5 449.8h0M240.8 450.2h0M241.2 452.3h0M241.5 451.3h0M241.9 451.7h0M241.9 452.7h0M241.9 451.7h0M242.1 451.8h0M242.3 453.1h0M242.5 454.2h0M242.7 452.8h0M243.0 454.0h0M243.0 454.7h0M243.1 453.8h0M243.6 455.9h0M243.6 454.5h0M244.0 453.6h0M244.3 457.2h0M245.5 456.4h0M245.6 457.6h0M245.6 457.2h0M245.7 457.6h0M245.8 456.7h0M246.6 458.2h0M246.7 459.0h0M246.8 459.4h0M246.8 458.9h0M246.9 457.8h0M247.5 460.4h0M247.7 459.6h0M247.8 459.7h0M248.1 461.9h0M248.5 460.1h0M248.5 461.0h0M248.7 459.5h0M248.7 459.9h0M249.6 462.7h0M249.6 462.7h0M250.1 464.0h0M250.6 465.0h0M250.6 463.5h0M251.2 465.0h0M251.5 465.5h0M251.5 465.3h0M251.7 465.0h0M251.7 464.9h0M252.0 465.9h0M252.0 466.0h0M252.0 465.8h0M252.2 464.7h0M252.4 468.1h0M252.6 467.7h0M252.9 466.9h0M253.6 468.0h0M253.6 467.3h0M254.4 468.2h0M254.5 467.9h0M255.3 471.0h0M255.5 470.2h0M255.6 470.9h0M255.9 470.4h0M256.8 472.1h0M257.1 471.8h0M257.2 473.2h0M257.8 473.1h0M258.4 474.3h0M258.8 474.5h0M258.8 474.6h0M258.9 475.1h0M259.0 473.7h0M259.1 474.4h0M260.2 474.8h0M260.3 476.4h0M260.5 477.3h0M261.8 477.3h0M262.2 477.2h0M262.7 476.8h0M262.9 476.7h0M263.3 476.8h0M263.8 476.8h0M264.3 477.6h0M264.5 478.1h0M264.9 478.9h0M265.6 478.1h0M265.8 479.0h0M265.9 479.2h0M266.3 478.3h0M266.5 478.6h0M266.7 478.1h0M267.1 479.3h0M267.1 477.9h0M267.2 478.5h0M267.8 478.9h0M268.0 479.3h0M268.8 479.5h0M269.6 479.5h0M269.7 477.5h0M270.1 479.4h0M270.3 477.9h0M270.4 478.5h0M270.9 478.5h0M271.1 478.3h0M271.5 477.9h0M271.6 477.1h0M271.6 477.4h0M272.1 477.5h0M272.3 478.4h0M272.8 478.4h0M273.2 475.5h0M273.3 477.5h0M273.5 477.8h0M275.5 474.2h0M275.6 476.1h0M275.9 474.1h0M276.1 473.8h0M276.3 474.1h0M276.6 473.2h0M276.6 475.0h0M276.6 474.8h0M276.7 474.0h0M276.7 473.8h0M277.5 473.1h0M278.9 471.1h0M278.9 471.9h0M280.2 471.4h0M280.2 469.5h0M280.6 469.5h0M280.6 468.7h0M281.0 467.2h0M281.1 468.6h0M281.2 468.0h0M282.7 467.1h0M282.8 465.7h0M283.1 465.6h0M283.2 465.6h0M283.3 465.0h0M283.6 466.0h0M284.0 464.2h0M284.1 464.1h0M284.3 463.1h0M284.8 464.8h0M285.0 463.3h0M285.9 460.4h0M286.5 461.3h0M286.8 460.9h0M287.0 459.1h0M287.3 458.1h0M287.5 459.5h0M287.6 460.0h0M288.1 459.2h0M288.3 458.8h0M288.4 459.0h0M288.7 458.5h0M289.1 457.2h0M289.3 457.1h0M289.4 456.6h0M289.5 456.9h0M289.5 457.7h0M289.5 456.2h0M289.7 456.4h0M290.8 455.5h0M291.2 454.7h0M291.5 454.0h0M291.6 454.0h0M291.6 454.2h0M291.6 453.5h0M291.9 452.9h0M292.0 453.7h0M292.4 453.1h0M292.5 453.8h0M292.5 453.1h0M292.5 452.6h0M292.9 451.9h0M293.6 451.5h0M294.2 451.0h0M294.6 451.1h0M294.8 450.2h0M295.2 450.7h0M295.8 449.3h0M296.1 449.1h0M296.4 449.5h0M296.5 448.5h0M296.5 448.9h0M297.0 447.8h0M297.2 448.5h0M297.4 447.6h0M298.4 446.0h0M298.7 446.9h0M298.9 446.3h0M299.2 447.1h0M299.3 446.9h0M299.4 448.0h0M299.5 446.6h0M300.5 446.8h0M300.8 445.8h0M300.9 447.3h0M301.0 446.4h0M301.1 445.7h0M301.1 445.5h0M301.2 446.9h0M301.4 446.0h0M301.8 443.7h0M302.7 444.7h0M302.9 445.2h0M303.0 447.3h0M303.1 445.9h0M303.2 444.9h0M303.7 445.0h0M303.8 444.9h0M303.9 444.5h0M304.1 445.1h0M304.1 444.6h0M304.9 446.5h0M305.0 443.4h0M306.5 445.8h0M306.6 446.0h0M307.2 444.7h0M307.3 445.4h0M308.3 445.5h0M308.6 446.8h0M309.0 446.4h0M309.2 446.2h0M309.5 447.8h0M310.1 447.5h0M310.4 447.8h0M310.8 448.1h0M311.4 448.8h0M311.4 449.2h0M311.4 448.0h0M311.5 448.3h0M311.8 447.8h0M312.3 449.2h0M312.4 449.7h0M312.8 450.6h0M313.1 449.9h0M313.2 450.2h0M313.7 449.0h0M313.7 448.8h0M313.9 449.5h0M314.7 452.3h0M315.4 453.4h0M315.6 452.8h0M315.6 453.4h0M315.8 451.9h0M315.9 452.9h0M316.0 453.5h0M316.0 453.2h0M316.2 452.4h0M317.2 455.4h0M317.3 454.4h0M318.2 456.9h0M318.5 456.5h0M318.6 457.1h0M319.0 456.8h0M319.3 457.4h0M320.3 458.0h0M320.4 458.5h0M320.7 459.8h0M321.2 461.1h0M322.0 461.9h0M322.1 461.8h0M322.2 461.8h0M322.6 462.7h0M322.7 461.6h0M323.4 462.6h0M324.2 464.6h0M324.6 465.4h0M325.0 465.7h0M325.0 465.6h0M325.2 465.9h0M325.5 467.5h0M325.7 466.9h0M325.7 468.0h0M326.0 466.9h0M326.5 467.2h0M326.7 468.8h0M327.4 468.7h0M327.4 469.4h0M327.5 469.5h0M327.7 467.9h0M329.0 470.2h0M329.5 471.2h0M329.6 471.9h0M331.0 472.9h0M331.4 473.8h0M331.9 473.8h0M332.0 474.9h0M332.1 474.4h0M332.7 475.2h0M333.0 476.2h0M333.1 474.0h0M333.5 475.0h0M333.9 476.5h0M334.3 477.4h0M334.4 476.8h0M334.9 477.3h0M335.1 477.3h0M335.4 478.2h0M335.8 477.9h0M335.9 477.3h0M337.4 477.8h0M337.9 479.7h0M337.9 478.3h0M338.6 479.2h0M338.9 479.4h0M339.2 478.9h0M339.3 479.2h0M339.4 478.2h0M339.5 478.2h0M339.6 478.9h0M339.7 479.2h0M340.0 477.5h0M340.3 477.4h0M340.7 478.5h0M341.1 478.9h0M341.3 478.1h0M341.3 477.7h0M341.3 479.2h0M341.5 477.4h0M341.6 478.9h0M341.8 477.9h0M342.1 479.1h0M342.2 478.6h0M342.7 478.9h0M342.8 478.5h0M343.0 477.8h0M343.2 479.1h0M343.4 478.6h0M343.6 477.9h0M343.6 478.6h0M343.8 476.7h0M344.0 479.2h0M344.4 476.1h0M344.7 478.4h0M345.3 476.8h0M345.5 476.3h0M346.2 476.6h0M346.3 478.0h0M346.5 477.1h0M346.7 476.7h0M346.7 476.3h0M346.9 475.8h0M347.1 475.5h0M347.5 475.0h0M348.0 476.4h0M348.4 474.6h0M348.7 476.4h0M348.8 474.9h0M348.9 475.7h0M349.1 476.0h0M349.6 473.5h0M350.4 473.4h0M350.9 472.1h0M351.1 473.8h0M351.1 473.6h0M351.8 472.0h0M351.8 472.4h0M352.3 471.2h0M353.5 470.2h0M354.0 469.4h0M354.5 469.3h0M355.1 466.7h0M355.4 467.5h0M355.4 468.1h0M355.4 466.7h0M355.5 466.7h0M357.9 463.6h0M359.0 462.0h0M359.1 462.4h0M359.1 462.1h0M359.2 463.6h0M359.3 462.9h0M359.6 462.2h0M359.6 461.0h0M360.4 459.2h0M360.4 460.2h0M360.5 460.2h0M360.6 459.1h0M360.8 459.9h0M360.8 459.1h0M361.5 458.3h0M361.7 459.2h0M361.9 457.8h0M362.8 456.6h0M362.9 457.5h0M363.2 457.0h0M363.2 457.1h0M363.3 455.0h0M363.7 453.9h0M364.4 454.1h0M364.4 453.4h0M364.5 455.5h0M364.6 453.4h0M364.8 452.6h0M364.9 452.8h0M365.2 454.4h0M365.7 452.2h0M365.7 453.0h0M365.9 452.0h0M366.0 453.2h0M366.0 452.6h0M366.3 452.7h0M366.4 451.9h0M366.5 452.1h0M366.6 451.1h0M366.7 451.2h0M366.7 451.5h0M366.9 451.7h0M367.0 451.7h0M367.2 451.2h0M367.3 450.5h0M369.0 449.3h0M369.2 449.0h0M370.0 448.6h0M370.5 448.1h0M370.9 448.3h0M371.1 449.0h0M371.7 446.8h0M372.1 446.5h0M372.1 447.6h0M372.1 445.5h0M372.4 447.6h0M372.4 446.0h0M372.6 446.5h0M372.6 446.4h0M373.2 445.4h0M373.4 445.5h0M373.6 446.1h0M373.9 446.8h0M374.0 446.8h0M374.4 445.6h0M374.8 444.5h0M375.6 444.7h0M376.5 445.3h0M376.8 445.0h0M377.0 444.7h0M377.2 443.9h0M377.3 445.8h0M377.5 444.7h0M377.8 445.0h0M378.1 445.8h0M378.4 446.0h0M378.5 444.3h0M379.3 445.2h0M379.4 445.6h0M379.4 445.4h0M379.7 444.8h0M379.9 445.5h0M380.0 444.4h0M380.1 445.8h0M380.9 446.5h0M381.0 446.1h0M381.0 446.7h0M381.0 446.3h0M381.1 445.1h0M381.7 445.0h0M382.1 446.1h0M382.2 446.5h0M382.6 447.5h0M382.7 447.7h0M382.7 446.7h0M382.8 446.8h0M383.0 447.5h0M383.0 447.4h0M383.5 446.3h0M384.2 447.2h0M384.2 447.9h0M384.9 448.4h0M385.0 447.7h0M386.0 449.3h0M386.1 449.5h0M386.4 451.1h0M387.7 452.6h0M387.8 452.9h0M388.3 453.7h0M389.3 453.2h0M389.9 453.7h0M390.1 454.8h0M390.1 453.9h0M390.2 454.0h0M390.2 454.4h0M390.4 455.8h0M390.7 453.9h0M390.7 454.0h0M391.1 456.0h0M391.4 454.5h0M391.7 456.3h0M391.8 457.0h0M391.9 456.9h0M392.0 458.1h0M392.1 457.1h0M392.1 458.1h0M392.8 456.9h0M393.2 458.2h0M393.5 459.8h0M393.5 458.4h0M393.6 460.2h0M393.9 459.3h0M394.0 459.1h0M394.3 460.0h0M394.4 460.9h0M394.5 460.3h0M395.2 461.4h0M395.5 461.6h0M395.7 460.8h0M395.9 461.0h0M396.0 461.2h0M396.0 462.9h0M396.1 463.1h0M396.1 462.5h0M396.3 462.6h0M396.5 464.7h0M396.7 463.8h0M396.8 462.2h0M396.8 464.5h0M397.8 465.5h0M397.8 465.6h0M398.0 464.8h0M398.1 465.5h0M398.6 466.4h0M398.8 467.5h0M398.8 466.0h0M398.9 466.5h0M398.9 467.0h0M399.1 466.8h0M399.6 466.9h0M400.5 469.8h0M400.6 469.9h0M400.7 469.7h0M401.8 471.0h0M402.2 473.1h0M402.3 471.4h0M402.6 470.5h0M402.8 471.8h0M403.3 471.4h0M403.7 474.8h0M404.0 473.0h0M404.1 472.1h0M404.5 472.3h0M404.5 473.8h0M404.9 474.5h0M405.2 473.9h0M405.6 475.5h0M406.2 475.4h0M406.9 477.0h0M406.9 475.7h0M407.4 476.2h0M407.8 475.2h0M407.9 476.3h0M407.9 477.1h0M407.9 476.6h0M408.0 477.6h0M408.0 476.6h0M408.0 476.8h0M408.2 476.5h0M408.5 476.2h0M409.4 479.0h0M409.8 477.5h0M409.9 477.2h0M410.0 478.7h0M410.2 476.5h0M410.3 478.5h0M410.6 476.2h0M410.9 477.6h0M411.1 477.6h0M411.7 478.3h0M411.9 477.8h0M412.0 479.3h0M412.1 479.2h0M412.4 480.1h0M412.6 478.3h0M412.8 479.3h0M413.0 478.2h0M413.2 478.3h0M413.4 479.8h0M413.6 478.3h0M413.7 478.6h0M413.8 478.7h0M413.9 478.5h0M413.9 478.8h0M414.0 478.8h0M414.1 478.0h0M414.2 479.6h0M414.2 479.7h0M414.3 479.4h0M414.7 478.0h0M414.9 479.0h0M415.3 477.3h0M415.5 481.0h0M415.7 479.2h0M415.8 478.9h0M417.0 478.1h0M417.0 477.3h0M418.6 477.7h0M418.7 478.3h0M418.8 476.8h0M418.8 476.3h0M419.9 478.6h0M420.2 476.1h0M420.3 476.2h0M420.5 476.9h0M420.6 476.5h0M420.7 475.9h0M421.2 475.7h0M421.3 475.8h0M421.4 476.5h0M421.4 475.3h0M421.9 475.7h0M421.9 475.0h0M422.8 474.8h0M423.1 473.8h0M423.8 472.7h0M424.2 472.6h0M424.9 471.6h0M425.0 472.9h0M426.0 470.4h0M426.0 470.5h0M426.6 470.4h0M426.7 470.0h0M426.7 471.9h0M427.4 468.9h0M427.4 469.2h0M427.6 470.4h0M427.7 468.1h0M428.2 468.4h0M428.3 467.5h0M428.4 467.7h0M428.7 466.9h0M429.1 466.5h0M429.2 466.7h0M429.3 466.0h0M429.3 465.7h0M429.3 468.0h0M429.6 465.9h0M429.7 466.3h0M429.8 466.5h0M430.0 464.5h0M430.2 464.4h0M430.3 465.7h0M430.7 465.2h0M431.1 463.2h0M431.4 463.9h0M431.5 463.5h0M431.6 464.6h0M432.6 461.8h0M433.3 459.7h0M433.4 460.9h0M433.4 460.6h0M433.7 458.7h0M434.0 459.0h0M434.2 458.4h0M434.3 458.7h0M434.9 457.5h0M435.0 459.4h0M435.5 458.2h0M435.6 458.7h0M436.0 455.2h0M436.1 456.6h0M436.1 456.8h0M436.5 456.7h0M436.5 456.9h0M436.6 458.1h0M437.1 453.7h0M437.1 455.4h0M437.3 455.1h0M437.3 456.2h0M437.7 454.6h0M438.7 453.0h0M438.8 453.2h0M439.5 451.9h0M439.7 452.8h0M440.1 451.4h0M440.4 450.6h0M441.1 450.1h0M441.2 450.1h0M441.5 450.2h0M441.7 450.7h0M441.9 449.3h0M442.4 449.5h0M442.4 449.9h0M442.6 448.5h0M442.7 450.2h0M442.7 449.4h0M443.0 448.1h0M443.3 447.7h0M443.8 448.3h0M444.0 447.8h0M444.6 447.0h0M444.6 447.5h0M445.4 447.5h0M445.4 446.6h0M445.6 446.6h0M445.6 446.7h0M446.0 445.7h0M446.1 446.2h0M446.3 446.7h0M447.1 445.9h0M447.2 444.5h0M447.4 446.4h0M448.0 445.9h0M448.6 446.1h0M450.2 445.0h0M450.7 446.2h0M450.7 444.9h0M450.9 444.7h0M451.4 445.8h0M452.2 446.0h0M452.2 446.5h0M452.3 445.4h0M452.6 446.3h0M453.3 446.1h0M453.4 446.0h0M453.6 446.2h0M454.3 445.4h0M455.4 445.4h0M455.4 448.2h0M456.1 447.6h0M456.6 447.1h0M457.3 448.6h0M457.5 448.4h0M457.9 448.2h0M458.1 447.4h0M458.2 447.8h0M458.3 448.9h0M458.9 449.1h0M459.8 450.4h0M459.9 450.4h0M460.1 451.3h0M460.6 452.3h0M460.6 451.2h0M460.9 450.5h0M461.2 451.0h0M461.5 453.3h0M462.1 452.8h0M462.5 453.6h0M462.7 453.2h0M462.9 454.4h0M463.1 453.3h0M463.4 454.5h0M463.7 454.2h0M464.0 454.4h0M464.6 457.3h0M464.8 456.3h0M464.9 455.1h0M465.9 457.6h0M466.1 457.1h0M466.3 457.9h0M466.5 458.8h0M466.6 458.3h0M466.6 457.8h0M466.6 457.7h0M466.6 457.6h0M466.8 459.7h0M466.8 458.3h0M467.5 460.9h0M467.9 460.6h0M468.1 460.9h0M468.2 460.4h0M468.4 461.0h0M468.5 460.4h0M468.6 461.9h0M468.8 461.1h0M468.9 461.6h0M469.4 462.7h0M469.6 463.8h0M469.7 462.7h0M469.9 463.1h0M470.2 463.2h0M470.3 464.0h0M470.9 464.9h0M471.0 464.6h0M471.2 464.8h0M472.0 465.8h0M472.0 465.0h0M472.1 467.0h0M472.9 466.0h0M473.5 470.6h0M474.2 468.6h0M474.9 470.9h0M475.4 469.3h0M475.6 471.7h0M475.6 470.3h0M475.9 472.2h0M476.0 472.3h0M476.3 471.3h0M476.6 471.5h0M477.1 473.4h0M477.5 471.5h0M478.6 474.6h0M479.0 473.5h0M479.4 475.9h0M479.4 475.9h0M479.7 475.3h0M480.1 476.5h0M480.4 475.6h0M480.9 478.0h0M480.9 476.2h0M481.6 477.3h0M481.7 477.6h0M482.3 477.1h0M482.7 477.7h0M482.8 477.9h0M483.0 477.1h0M483.2 477.6h0M483.5 477.7h0M483.6 477.0h0M483.6 478.0h0M483.7 477.4h0M483.7 478.3h0M484.8 478.0h0M485.0 478.1h0M485.1 478.9h0M485.7 479.8h0M485.7 479.6h0M485.8 479.4h0M486.1 478.3h0M486.6 478.9h0M487.0 479.0h0M487.1 478.5h0M487.4 478.3h0M487.6 477.8h0M488.1 479.2h0M488.3 478.3h0M489.0 478.1h0M489.5 479.2h0M489.6 478.4h0M489.8 479.1h0M491.1 478.1h0M491.5 477.4h0M491.7 478.9h0M491.8 478.2h0M491.9 478.1h0M492.1 477.3h0M493.9 476.7h0M494.6 475.3h0M494.9 476.0h0M495.2 475.4h0M495.8 474.0h0M495.9 474.2h0M496.1 474.1h0M496.1 474.2h0M496.8 472.8h0M496.8 472.5h0M497.2 473.4h0M497.4 473.4h0M497.6 473.4h0M497.7 471.3h0M498.5 472.3h0M499.2 471.7h0M499.9 469.7h0M500.3 468.6h0M500.6 469.9h0M500.7 469.0h0M500.8 469.8h0M502.6 466.8h0M502.8 464.7h0M503.1 465.5h0M503.5 465.2h0M503.8 464.5h0M504.5 463.4h0M504.5 463.7h0M504.7 464.2h0M505.1 463.6h0M505.4 460.8h0M505.6 462.6h0M506.1 460.4h0M506.7 461.0h0" fill="none" stroke="#1f77b4" stroke-width="3.7" stroke-linecap="round"/>
<path d="M112.58 407.86V517.21M203.34 407.86V517.21M294.10 407.86V517.21M384.86 407.86V517.21M475.62 407.86V517.21M44.50 415.37H543.70M44.50 438.69H543.70M44.50 462.01H543.70M44.50 485.33H543.70M44.50 508.65H543.70" stroke="#b0b0b0" stroke-width="0.68" fill="none"/>
<path d="M67.3 460.3L69.1 457.7L71.0 455.2L72.8 452.9L74.7 450.8L76.5 448.9L78.3 447.4L80.2 446.3L82.0 445.6L83.8 445.2L85.7 445.3L87.5 445.8L89.4 446.7L91.2 448.0L93.0 449.6L94.9 451.5L96.7 453.7L98.6 456.1L100.4 458.7L102.2 461.3L104.1 463.9L105.9 466.5L107.7 469.0L109.6 471.3L111.4 473.4L113.3 475.2L115.1 476.7L116.9 477.8L118.8 478.5L120.6 478.8L122.5 478.7L124.3 478.2L126.1 477.2L128.0 475.9L129.8 474.3L131.6 472.3L133.5 470.1L135.3 467.7L137.2 465.1L139.0 462.5L140.8 459.9L142.7 457.3L144.5 454.8L146.4 452.5L148.2 450.5L150.0 448.7L151.9 447.2L153.7 446.2L155.5 445.5L157.4 445.2L159.2 445.4L161.1 445.9L162.9 446.9L164.7 448.2L166.6 449.9L168.4 451.9L170.3 454.1L172.1 456.5L173.9 459.1L175.8 461.7L177.6 464.4L179.4 466.9L181.3 469.4L183.1 471.7L185.0 473.7L186.8 475.5L188.6 476.9L190.5 477.9L192.3 478.6L194.2 478.8L196.0 478.6L197.8 478.0L199.7 477.1L201.5 475.7L203.3 474.0L205.2 472.0L207.0 469.7L208.9 467.3L210.7 464.7L212.5 462.1L214.4 459.5L216.2 456.9L218.1 454.4L219.9 452.2L221.7 450.2L223.6 448.4L225.4 447.0L227.2 446.0L229.1 445.4L230.9 445.2L232.8 445.4L234.6 446.0L236.4 447.1L238.3 448.5L240.1 450.2L242.0 452.2L243.8 454.5L245.6 456.9L247.5 459.5L249.3 462.1L251.1 464.8L253.0 467.3L254.8 469.8L256.7 472.0L258.5 474.0L260.3 475.7L262.2 477.1L264.0 478.1L265.9 478.6L267.7 478.8L269.5 478.6L271.4 477.9L273.2 476.9L275.0 475.4L276.9 473.7L278.7 471.6L280.6 469.4L282.4 466.9L284.2 464.3L286.1 461.7L287.9 459.0L289.8 456.5L291.6 454.1L293.4 451.8L295.3 449.9L297.1 448.2L299.0 446.9L300.8 445.9L302.6 445.4L304.5 445.2L306.3 445.5L308.1 446.2L310.0 447.3L311.8 448.7L313.7 450.5L315.5 452.5L317.3 454.8L319.2 457.3L321.0 459.9L322.9 462.6L324.7 465.2L326.5 467.7L328.4 470.1L330.2 472.4L332.0 474.3L333.9 475.9L335.7 477.2L337.6 478.2L339.4 478.7L341.2 478.8L343.1 478.5L344.9 477.8L346.8 476.7L348.6 475.2L350.4 473.4L352.3 471.3L354.1 469.0L355.9 466.5L357.8 463.9L359.6 461.3L361.5 458.6L363.3 456.1L365.1 453.7L367.0 451.5L368.8 449.6L370.7 448.0L372.5 446.7L374.3 445.8L376.2 445.3L378.0 445.2L379.8 445.6L381.7 446.3L383.5 447.5L385.4 449.0L387.2 450.8L389.0 452.9L390.9 455.2L392.7 457.7L394.6 460.3L396.4 463.0L398.2 465.6L400.1 468.1L401.9 470.5L403.7 472.7L405.6 474.6L407.4 476.2L409.3 477.4L411.1 478.3L412.9 478.7L414.8 478.8L416.6 478.4L418.5 477.6L420.3 476.5L422.1 474.9L424.0 473.1L425.8 471.0L427.6 468.6L429.5 466.1L431.3 463.5L433.2 460.8L435.0 458.2L436.8 455.7L438.7 453.3L440.5 451.2L442.4 449.3L444.2 447.7L446.0 446.5L447.9 445.7L449.7 445.3L451.5 445.3L453.4 445.7L455.2 446.5L457.1 447.7L458.9 449.2L460.7 451.1L462.6 453.2L464.4 455.6L466.3 458.1L468.1 460.7L469.9 463.4L471.8 466.0L473.6 468.5L475.4 470.9L477.3 473.0L479.1 474.9L481.0 476.4L482.8 477.6L484.6 478.4L486.5 478.8L488.3 478.7L490.2 478.3L492.0 477.5L493.8 476.2L495.7 474.7L497.5 472.8L499.3 470.6L501.2 468.2L503.0 465.7L504.9 463.1L506.7 460.4" stroke="#000000" stroke-width="1.4" fill="none" stroke-linejoin="round" stroke-linecap="square"/>
<path d="M112.58 517.21v3M203.34 517.21v3M294.10 517.21v3M384.86 517.21v3M475.62 517.21v3M44.50 415.37h-3M44.50 438.69h-3M44.50 462.01h-3M44.50 485.33h-3M44.50 508.65h-3" stroke="#000" stroke-width="0.68" fill="none"/>
<rect x="44.50" y="407.86" width="499.20" height="109.35" fill="none" stroke="#000" stroke-width="0.68"/>
<text x="112.58" y="529.71" text-anchor="middle">−0.04</text>
<text x="203.34" y="529.71" text-anchor="middle">−0.02</text>
<text x="294.10" y="529.71" text-anchor="middle">0.00</text>
<text x="384.86" y="529.71" text-anchor="middle">0.02</text>
<text x="475.62" y="529.71" text-anchor="middle">0.04</text>
<text x="38.20" y="418.77" text-anchor="end">40</text>
<text x="38.20" y="442.09" text-anchor="end">20</text>
<text x="38.20" y="465.41" text-anchor="end">0</text>
<text x="38.20" y="488.73" text-anchor="end">−20</text>
<text x="38.20" y="512.05" text-anchor="end">−40</text>
<text transform="translate(15.1 462.54) rotate(-90)" text-anchor="middle">V [mV]</text>
<rect x="48.70" y="412.11" width="327.80" height="27.9" rx="1.7" fill="#fff" fill-opacity="0.8" stroke="#ccc" stroke-opacity="0.8" stroke-width="0.85"/>
<circle cx="61.0" cy="420.11" r="1.9" fill="#1f77b4"/>
<path d="M51.3 431.81H69.8" stroke="#000000" stroke-width="1.4"/>
<text x="76.3" y="422.01">Raw signal - windowed, precise offset and EMI disturbances removed</text>
<text x="76.3" y="434.81">NLSQ fit 3</text>
</g>
<text x="294.1" y="541.5" text-anchor="middle">time [sec]</text>
</svg>
</body></html>
